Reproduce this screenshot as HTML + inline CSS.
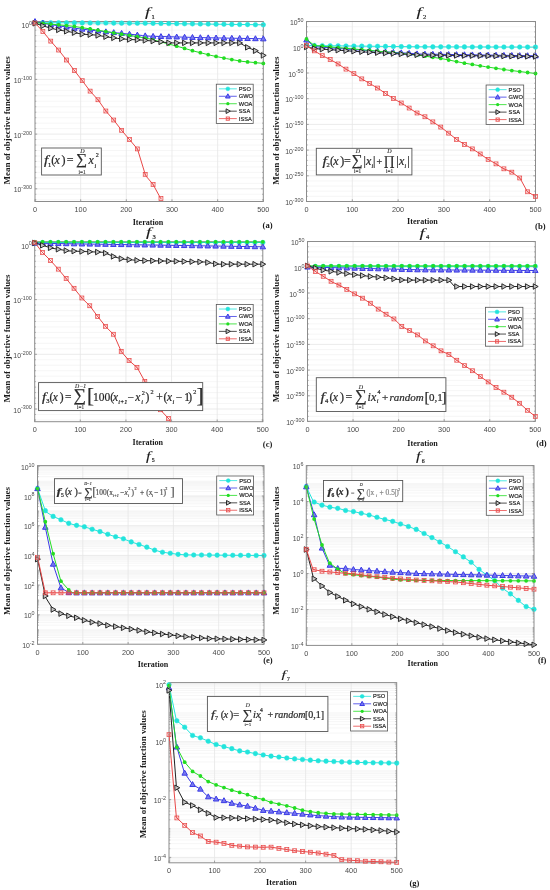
<!DOCTYPE html><html><head><meta charset="utf-8"><style>html,body{margin:0;padding:0;background:#fff;width:550px;height:890px;overflow:hidden}</style></head><body><svg width="550" height="890" viewBox="0 0 550 890" style="display:block;filter:blur(0.4px)">
<rect width="550" height="890" fill="#fff"/>
<clipPath id="ca"><rect x="35" y="21.5" width="228.3" height="180.0"/></clipPath>
<rect x="35" y="21.5" width="228.3" height="180.0" fill="#fff"/>
<line x1="35" x2="263.3" y1="199.74" y2="199.74" stroke="#f2f2f2" stroke-width="0.7"/>
<line x1="35" x2="263.3" y1="194.27" y2="194.27" stroke="#f2f2f2" stroke-width="0.7"/>
<line x1="35" x2="263.3" y1="183.33" y2="183.33" stroke="#f2f2f2" stroke-width="0.7"/>
<line x1="35" x2="263.3" y1="177.86" y2="177.86" stroke="#f2f2f2" stroke-width="0.7"/>
<line x1="35" x2="263.3" y1="172.39" y2="172.39" stroke="#f2f2f2" stroke-width="0.7"/>
<line x1="35" x2="263.3" y1="166.92" y2="166.92" stroke="#f2f2f2" stroke-width="0.7"/>
<line x1="35" x2="263.3" y1="161.45" y2="161.45" stroke="#f2f2f2" stroke-width="0.7"/>
<line x1="35" x2="263.3" y1="155.98" y2="155.98" stroke="#f2f2f2" stroke-width="0.7"/>
<line x1="35" x2="263.3" y1="150.51" y2="150.51" stroke="#f2f2f2" stroke-width="0.7"/>
<line x1="35" x2="263.3" y1="145.04" y2="145.04" stroke="#f2f2f2" stroke-width="0.7"/>
<line x1="35" x2="263.3" y1="139.57" y2="139.57" stroke="#f2f2f2" stroke-width="0.7"/>
<line x1="35" x2="263.3" y1="128.63" y2="128.63" stroke="#f2f2f2" stroke-width="0.7"/>
<line x1="35" x2="263.3" y1="123.16" y2="123.16" stroke="#f2f2f2" stroke-width="0.7"/>
<line x1="35" x2="263.3" y1="117.69" y2="117.69" stroke="#f2f2f2" stroke-width="0.7"/>
<line x1="35" x2="263.3" y1="112.22" y2="112.22" stroke="#f2f2f2" stroke-width="0.7"/>
<line x1="35" x2="263.3" y1="106.75" y2="106.75" stroke="#f2f2f2" stroke-width="0.7"/>
<line x1="35" x2="263.3" y1="101.28" y2="101.28" stroke="#f2f2f2" stroke-width="0.7"/>
<line x1="35" x2="263.3" y1="95.81" y2="95.81" stroke="#f2f2f2" stroke-width="0.7"/>
<line x1="35" x2="263.3" y1="90.34" y2="90.34" stroke="#f2f2f2" stroke-width="0.7"/>
<line x1="35" x2="263.3" y1="84.87" y2="84.87" stroke="#f2f2f2" stroke-width="0.7"/>
<line x1="35" x2="263.3" y1="73.93" y2="73.93" stroke="#f2f2f2" stroke-width="0.7"/>
<line x1="35" x2="263.3" y1="68.46" y2="68.46" stroke="#f2f2f2" stroke-width="0.7"/>
<line x1="35" x2="263.3" y1="62.99" y2="62.99" stroke="#f2f2f2" stroke-width="0.7"/>
<line x1="35" x2="263.3" y1="57.52" y2="57.52" stroke="#f2f2f2" stroke-width="0.7"/>
<line x1="35" x2="263.3" y1="52.05" y2="52.05" stroke="#f2f2f2" stroke-width="0.7"/>
<line x1="35" x2="263.3" y1="46.58" y2="46.58" stroke="#f2f2f2" stroke-width="0.7"/>
<line x1="35" x2="263.3" y1="41.11" y2="41.11" stroke="#f2f2f2" stroke-width="0.7"/>
<line x1="35" x2="263.3" y1="35.64" y2="35.64" stroke="#f2f2f2" stroke-width="0.7"/>
<line x1="35" x2="263.3" y1="30.17" y2="30.17" stroke="#f2f2f2" stroke-width="0.7"/>
<line x1="35" x2="263.3" y1="24.70" y2="24.70" stroke="#e6e6e6" stroke-width="0.8"/>
<line x1="35" x2="263.3" y1="79.40" y2="79.40" stroke="#e6e6e6" stroke-width="0.8"/>
<line x1="35" x2="263.3" y1="134.10" y2="134.10" stroke="#e6e6e6" stroke-width="0.8"/>
<line x1="35" x2="263.3" y1="188.80" y2="188.80" stroke="#e6e6e6" stroke-width="0.8"/>
<line x1="80.66" x2="80.66" y1="21.5" y2="201.5" stroke="#e6e6e6" stroke-width="0.8"/>
<line x1="126.32" x2="126.32" y1="21.5" y2="201.5" stroke="#e6e6e6" stroke-width="0.8"/>
<line x1="171.98" x2="171.98" y1="21.5" y2="201.5" stroke="#e6e6e6" stroke-width="0.8"/>
<line x1="217.64" x2="217.64" y1="21.5" y2="201.5" stroke="#e6e6e6" stroke-width="0.8"/>
<rect x="35" y="21.5" width="228.3" height="180.0" fill="none" stroke="#8c8c8c" stroke-width="1.0"/>
<path d="M35.00,22.60 L150.00,23.30 L263.30,24.80" fill="none" stroke="#22e4dc" stroke-width="1.0" stroke-linejoin="round" clip-path="url(#ca)"/>
<circle cx="35.00" cy="22.60" r="2.30" fill="#22e4dc" stroke="#22e4dc" stroke-width="0.5"/>
<circle cx="42.87" cy="22.65" r="2.30" fill="#22e4dc" stroke="#22e4dc" stroke-width="0.5"/>
<circle cx="50.74" cy="22.70" r="2.30" fill="#22e4dc" stroke="#22e4dc" stroke-width="0.5"/>
<circle cx="58.62" cy="22.74" r="2.30" fill="#22e4dc" stroke="#22e4dc" stroke-width="0.5"/>
<circle cx="66.49" cy="22.79" r="2.30" fill="#22e4dc" stroke="#22e4dc" stroke-width="0.5"/>
<circle cx="74.36" cy="22.84" r="2.30" fill="#22e4dc" stroke="#22e4dc" stroke-width="0.5"/>
<circle cx="82.23" cy="22.89" r="2.30" fill="#22e4dc" stroke="#22e4dc" stroke-width="0.5"/>
<circle cx="90.11" cy="22.94" r="2.30" fill="#22e4dc" stroke="#22e4dc" stroke-width="0.5"/>
<circle cx="97.98" cy="22.98" r="2.30" fill="#22e4dc" stroke="#22e4dc" stroke-width="0.5"/>
<circle cx="105.85" cy="23.03" r="2.30" fill="#22e4dc" stroke="#22e4dc" stroke-width="0.5"/>
<circle cx="113.72" cy="23.08" r="2.30" fill="#22e4dc" stroke="#22e4dc" stroke-width="0.5"/>
<circle cx="121.60" cy="23.13" r="2.30" fill="#22e4dc" stroke="#22e4dc" stroke-width="0.5"/>
<circle cx="129.47" cy="23.18" r="2.30" fill="#22e4dc" stroke="#22e4dc" stroke-width="0.5"/>
<circle cx="137.34" cy="23.22" r="2.30" fill="#22e4dc" stroke="#22e4dc" stroke-width="0.5"/>
<circle cx="145.21" cy="23.27" r="2.30" fill="#22e4dc" stroke="#22e4dc" stroke-width="0.5"/>
<circle cx="153.09" cy="23.34" r="2.30" fill="#22e4dc" stroke="#22e4dc" stroke-width="0.5"/>
<circle cx="160.96" cy="23.45" r="2.30" fill="#22e4dc" stroke="#22e4dc" stroke-width="0.5"/>
<circle cx="168.83" cy="23.55" r="2.30" fill="#22e4dc" stroke="#22e4dc" stroke-width="0.5"/>
<circle cx="176.70" cy="23.65" r="2.30" fill="#22e4dc" stroke="#22e4dc" stroke-width="0.5"/>
<circle cx="184.58" cy="23.76" r="2.30" fill="#22e4dc" stroke="#22e4dc" stroke-width="0.5"/>
<circle cx="192.45" cy="23.86" r="2.30" fill="#22e4dc" stroke="#22e4dc" stroke-width="0.5"/>
<circle cx="200.32" cy="23.97" r="2.30" fill="#22e4dc" stroke="#22e4dc" stroke-width="0.5"/>
<circle cx="208.19" cy="24.07" r="2.30" fill="#22e4dc" stroke="#22e4dc" stroke-width="0.5"/>
<circle cx="216.07" cy="24.17" r="2.30" fill="#22e4dc" stroke="#22e4dc" stroke-width="0.5"/>
<circle cx="223.94" cy="24.28" r="2.30" fill="#22e4dc" stroke="#22e4dc" stroke-width="0.5"/>
<circle cx="231.81" cy="24.38" r="2.30" fill="#22e4dc" stroke="#22e4dc" stroke-width="0.5"/>
<circle cx="239.68" cy="24.49" r="2.30" fill="#22e4dc" stroke="#22e4dc" stroke-width="0.5"/>
<circle cx="247.56" cy="24.59" r="2.30" fill="#22e4dc" stroke="#22e4dc" stroke-width="0.5"/>
<circle cx="255.43" cy="24.70" r="2.30" fill="#22e4dc" stroke="#22e4dc" stroke-width="0.5"/>
<circle cx="263.30" cy="24.80" r="2.30" fill="#22e4dc" stroke="#22e4dc" stroke-width="0.5"/>
<path d="M35.00,21.50 L51.80,24.80 L73.60,28.10 L95.50,30.70 L117.30,32.90 L142.40,35.50 L150.00,36.20 L200.00,37.60 L263.30,38.80" fill="none" stroke="#3a3ae6" stroke-width="1.0" stroke-linejoin="round" clip-path="url(#ca)"/>
<path d="M35.00,18.60L37.76,23.53L32.24,23.53Z" fill="#7878ee" stroke="#3a3ae6" stroke-width="1"/>
<path d="M42.87,20.15L45.63,25.08L40.12,25.08Z" fill="#7878ee" stroke="#3a3ae6" stroke-width="1"/>
<path d="M50.74,21.69L53.50,26.62L47.99,26.62Z" fill="#7878ee" stroke="#3a3ae6" stroke-width="1"/>
<path d="M58.62,22.93L61.37,27.86L55.86,27.86Z" fill="#7878ee" stroke="#3a3ae6" stroke-width="1"/>
<path d="M66.49,24.12L69.24,29.05L63.73,29.05Z" fill="#7878ee" stroke="#3a3ae6" stroke-width="1"/>
<path d="M74.36,25.29L77.12,30.22L71.61,30.22Z" fill="#7878ee" stroke="#3a3ae6" stroke-width="1"/>
<path d="M82.23,26.23L84.99,31.16L79.48,31.16Z" fill="#7878ee" stroke="#3a3ae6" stroke-width="1"/>
<path d="M90.11,27.16L92.86,32.09L87.35,32.09Z" fill="#7878ee" stroke="#3a3ae6" stroke-width="1"/>
<path d="M97.98,28.05L100.73,32.98L95.22,32.98Z" fill="#7878ee" stroke="#3a3ae6" stroke-width="1"/>
<path d="M105.85,28.84L108.61,33.77L103.10,33.77Z" fill="#7878ee" stroke="#3a3ae6" stroke-width="1"/>
<path d="M113.72,29.64L116.48,34.57L110.97,34.57Z" fill="#7878ee" stroke="#3a3ae6" stroke-width="1"/>
<path d="M121.60,30.45L124.35,35.38L118.84,35.38Z" fill="#7878ee" stroke="#3a3ae6" stroke-width="1"/>
<path d="M129.47,31.26L132.22,36.19L126.71,36.19Z" fill="#7878ee" stroke="#3a3ae6" stroke-width="1"/>
<path d="M137.34,32.08L140.10,37.01L134.59,37.01Z" fill="#7878ee" stroke="#3a3ae6" stroke-width="1"/>
<path d="M145.21,32.86L147.97,37.79L142.46,37.79Z" fill="#7878ee" stroke="#3a3ae6" stroke-width="1"/>
<path d="M153.09,33.39L155.84,38.32L150.33,38.32Z" fill="#7878ee" stroke="#3a3ae6" stroke-width="1"/>
<path d="M160.96,33.61L163.71,38.54L158.20,38.54Z" fill="#7878ee" stroke="#3a3ae6" stroke-width="1"/>
<path d="M168.83,33.83L171.59,38.76L166.08,38.76Z" fill="#7878ee" stroke="#3a3ae6" stroke-width="1"/>
<path d="M176.70,34.05L179.46,38.98L173.95,38.98Z" fill="#7878ee" stroke="#3a3ae6" stroke-width="1"/>
<path d="M184.58,34.27L187.33,39.20L181.82,39.20Z" fill="#7878ee" stroke="#3a3ae6" stroke-width="1"/>
<path d="M192.45,34.49L195.20,39.42L189.69,39.42Z" fill="#7878ee" stroke="#3a3ae6" stroke-width="1"/>
<path d="M200.32,34.71L203.08,39.64L197.57,39.64Z" fill="#7878ee" stroke="#3a3ae6" stroke-width="1"/>
<path d="M208.19,34.86L210.95,39.79L205.44,39.79Z" fill="#7878ee" stroke="#3a3ae6" stroke-width="1"/>
<path d="M216.07,35.00L218.82,39.93L213.31,39.93Z" fill="#7878ee" stroke="#3a3ae6" stroke-width="1"/>
<path d="M223.94,35.15L226.69,40.08L221.18,40.08Z" fill="#7878ee" stroke="#3a3ae6" stroke-width="1"/>
<path d="M231.81,35.30L234.57,40.23L229.06,40.23Z" fill="#7878ee" stroke="#3a3ae6" stroke-width="1"/>
<path d="M239.68,35.45L242.44,40.38L236.93,40.38Z" fill="#7878ee" stroke="#3a3ae6" stroke-width="1"/>
<path d="M247.56,35.60L250.31,40.53L244.80,40.53Z" fill="#7878ee" stroke="#3a3ae6" stroke-width="1"/>
<path d="M255.43,35.75L258.18,40.68L252.67,40.68Z" fill="#7878ee" stroke="#3a3ae6" stroke-width="1"/>
<path d="M263.30,35.90L266.06,40.83L260.55,40.83Z" fill="#7878ee" stroke="#3a3ae6" stroke-width="1"/>
<path d="M35.00,22.60 L51.80,24.20 L73.60,26.30 L95.50,29.80 L117.30,33.50 L142.40,37.50 L150.00,39.00 L176.20,46.00 L193.60,51.00 L211.00,55.40 L226.40,58.60 L241.60,61.30 L263.30,63.40" fill="none" stroke="#22dd22" stroke-width="1.0" stroke-linejoin="round" clip-path="url(#ca)"/>
<circle cx="35.00" cy="22.60" r="1.90" fill="#22dd22"/>
<circle cx="42.87" cy="23.35" r="1.90" fill="#22dd22"/>
<circle cx="50.74" cy="24.10" r="1.90" fill="#22dd22"/>
<circle cx="58.62" cy="24.86" r="1.90" fill="#22dd22"/>
<circle cx="66.49" cy="25.62" r="1.90" fill="#22dd22"/>
<circle cx="74.36" cy="26.42" r="1.90" fill="#22dd22"/>
<circle cx="82.23" cy="27.68" r="1.90" fill="#22dd22"/>
<circle cx="90.11" cy="28.94" r="1.90" fill="#22dd22"/>
<circle cx="97.98" cy="30.22" r="1.90" fill="#22dd22"/>
<circle cx="105.85" cy="31.56" r="1.90" fill="#22dd22"/>
<circle cx="113.72" cy="32.89" r="1.90" fill="#22dd22"/>
<circle cx="121.60" cy="34.18" r="1.90" fill="#22dd22"/>
<circle cx="129.47" cy="35.44" r="1.90" fill="#22dd22"/>
<circle cx="137.34" cy="36.69" r="1.90" fill="#22dd22"/>
<circle cx="145.21" cy="38.06" r="1.90" fill="#22dd22"/>
<circle cx="153.09" cy="39.82" r="1.90" fill="#22dd22"/>
<circle cx="160.96" cy="41.93" r="1.90" fill="#22dd22"/>
<circle cx="168.83" cy="44.03" r="1.90" fill="#22dd22"/>
<circle cx="176.70" cy="46.14" r="1.90" fill="#22dd22"/>
<circle cx="184.58" cy="48.41" r="1.90" fill="#22dd22"/>
<circle cx="192.45" cy="50.67" r="1.90" fill="#22dd22"/>
<circle cx="200.32" cy="52.70" r="1.90" fill="#22dd22"/>
<circle cx="208.19" cy="54.69" r="1.90" fill="#22dd22"/>
<circle cx="216.07" cy="56.45" r="1.90" fill="#22dd22"/>
<circle cx="223.94" cy="58.09" r="1.90" fill="#22dd22"/>
<circle cx="231.81" cy="59.56" r="1.90" fill="#22dd22"/>
<circle cx="239.68" cy="60.96" r="1.90" fill="#22dd22"/>
<circle cx="247.56" cy="61.88" r="1.90" fill="#22dd22"/>
<circle cx="255.43" cy="62.64" r="1.90" fill="#22dd22"/>
<circle cx="263.30" cy="63.40" r="1.90" fill="#22dd22"/>
<path d="M35.00,23.30 L43.10,25.90 L51.80,28.50 L60.50,30.30 L73.60,32.50 L82.40,34.20 L95.50,35.00 L106.40,36.80 L117.30,38.40 L128.20,39.40 L142.40,40.10 L158.70,41.60 L169.60,42.90 L239.50,42.90 L248.20,47.70 L254.70,50.30 L263.30,55.40" fill="none" stroke="#222222" stroke-width="1.0" stroke-linejoin="round" clip-path="url(#ca)"/>
<path d="M37.90,23.30L32.97,20.55L32.97,26.05Z" fill="#c4c4c4" stroke="#222222" stroke-width="0.95"/>
<path d="M45.77,25.83L40.84,23.07L40.84,28.58Z" fill="#c4c4c4" stroke="#222222" stroke-width="0.95"/>
<path d="M53.64,28.18L48.71,25.43L48.71,30.94Z" fill="#c4c4c4" stroke="#222222" stroke-width="0.95"/>
<path d="M61.52,29.91L56.59,27.16L56.59,32.67Z" fill="#c4c4c4" stroke="#222222" stroke-width="0.95"/>
<path d="M69.39,31.31L64.46,28.55L64.46,34.06Z" fill="#c4c4c4" stroke="#222222" stroke-width="0.95"/>
<path d="M77.26,32.65L72.33,29.89L72.33,35.40Z" fill="#c4c4c4" stroke="#222222" stroke-width="0.95"/>
<path d="M85.13,34.17L80.20,31.41L80.20,36.92Z" fill="#c4c4c4" stroke="#222222" stroke-width="0.95"/>
<path d="M93.01,34.67L88.08,31.92L88.08,37.43Z" fill="#c4c4c4" stroke="#222222" stroke-width="0.95"/>
<path d="M100.88,35.41L95.95,32.65L95.95,38.16Z" fill="#c4c4c4" stroke="#222222" stroke-width="0.95"/>
<path d="M108.75,36.71L103.82,33.95L103.82,39.46Z" fill="#c4c4c4" stroke="#222222" stroke-width="0.95"/>
<path d="M116.62,37.88L111.69,35.12L111.69,40.63Z" fill="#c4c4c4" stroke="#222222" stroke-width="0.95"/>
<path d="M124.50,38.79L119.57,36.04L119.57,41.55Z" fill="#c4c4c4" stroke="#222222" stroke-width="0.95"/>
<path d="M132.37,39.46L127.44,36.71L127.44,42.22Z" fill="#c4c4c4" stroke="#222222" stroke-width="0.95"/>
<path d="M140.24,39.85L135.31,37.10L135.31,42.61Z" fill="#c4c4c4" stroke="#222222" stroke-width="0.95"/>
<path d="M148.11,40.36L143.18,37.60L143.18,43.11Z" fill="#c4c4c4" stroke="#222222" stroke-width="0.95"/>
<path d="M155.99,41.08L151.06,38.33L151.06,43.84Z" fill="#c4c4c4" stroke="#222222" stroke-width="0.95"/>
<path d="M163.86,41.87L158.93,39.11L158.93,44.62Z" fill="#c4c4c4" stroke="#222222" stroke-width="0.95"/>
<path d="M171.73,42.81L166.80,40.05L166.80,45.56Z" fill="#c4c4c4" stroke="#222222" stroke-width="0.95"/>
<path d="M179.60,42.90L174.67,40.14L174.67,45.66Z" fill="#c4c4c4" stroke="#222222" stroke-width="0.95"/>
<path d="M187.48,42.90L182.55,40.14L182.55,45.66Z" fill="#c4c4c4" stroke="#222222" stroke-width="0.95"/>
<path d="M195.35,42.90L190.42,40.14L190.42,45.66Z" fill="#c4c4c4" stroke="#222222" stroke-width="0.95"/>
<path d="M203.22,42.90L198.29,40.14L198.29,45.66Z" fill="#c4c4c4" stroke="#222222" stroke-width="0.95"/>
<path d="M211.09,42.90L206.16,40.14L206.16,45.66Z" fill="#c4c4c4" stroke="#222222" stroke-width="0.95"/>
<path d="M218.97,42.90L214.04,40.14L214.04,45.66Z" fill="#c4c4c4" stroke="#222222" stroke-width="0.95"/>
<path d="M226.84,42.90L221.91,40.14L221.91,45.66Z" fill="#c4c4c4" stroke="#222222" stroke-width="0.95"/>
<path d="M234.71,42.90L229.78,40.14L229.78,45.66Z" fill="#c4c4c4" stroke="#222222" stroke-width="0.95"/>
<path d="M242.58,43.00L237.65,40.25L237.65,45.76Z" fill="#c4c4c4" stroke="#222222" stroke-width="0.95"/>
<path d="M250.46,47.34L245.53,44.59L245.53,50.10Z" fill="#c4c4c4" stroke="#222222" stroke-width="0.95"/>
<path d="M258.33,50.73L253.40,47.98L253.40,53.49Z" fill="#c4c4c4" stroke="#222222" stroke-width="0.95"/>
<path d="M266.20,55.40L261.27,52.64L261.27,58.16Z" fill="#c4c4c4" stroke="#222222" stroke-width="0.95"/>
<path d="M35.10,23.00 L43.10,31.70 L50.80,41.20 L59.10,50.60 L66.80,60.40 L73.60,69.50 L82.50,81.00 L90.00,91.00 L98.20,100.00 L105.90,111.10 L113.70,120.00 L121.60,130.30 L129.00,139.00 L137.50,149.10 L145.60,175.60 L153.00,184.30 L160.70,198.50" fill="none" stroke="#e84848" stroke-width="1.0" stroke-linejoin="round" clip-path="url(#ca)"/>
<rect x="33.05" y="21.05" width="3.90" height="3.90" fill="none" stroke="#e84848" stroke-width="0.75"/><path d="M33.05,21.05L36.95,24.95M36.95,21.05L33.05,24.95" stroke="#e84848" stroke-width="0.5"/>
<rect x="40.92" y="29.50" width="3.90" height="3.90" fill="none" stroke="#e84848" stroke-width="0.75"/><path d="M40.92,29.50L44.82,33.40M44.82,29.50L40.92,33.40" stroke="#e84848" stroke-width="0.5"/>
<rect x="48.79" y="39.18" width="3.90" height="3.90" fill="none" stroke="#e84848" stroke-width="0.75"/><path d="M48.79,39.18L52.69,43.08M52.69,39.18L48.79,43.08" stroke="#e84848" stroke-width="0.5"/>
<rect x="56.67" y="48.10" width="3.90" height="3.90" fill="none" stroke="#e84848" stroke-width="0.75"/><path d="M56.67,48.10L60.57,52.00M60.57,48.10L56.67,52.00" stroke="#e84848" stroke-width="0.5"/>
<rect x="64.54" y="58.06" width="3.90" height="3.90" fill="none" stroke="#e84848" stroke-width="0.75"/><path d="M64.54,58.06L68.44,61.96M68.44,58.06L64.54,61.96" stroke="#e84848" stroke-width="0.5"/>
<rect x="72.41" y="68.53" width="3.90" height="3.90" fill="none" stroke="#e84848" stroke-width="0.75"/><path d="M72.41,68.53L76.31,72.43M76.31,68.53L72.41,72.43" stroke="#e84848" stroke-width="0.5"/>
<rect x="80.28" y="78.71" width="3.90" height="3.90" fill="none" stroke="#e84848" stroke-width="0.75"/><path d="M80.28,78.71L84.18,82.61M84.18,78.71L80.28,82.61" stroke="#e84848" stroke-width="0.5"/>
<rect x="88.16" y="89.17" width="3.90" height="3.90" fill="none" stroke="#e84848" stroke-width="0.75"/><path d="M88.16,89.17L92.06,93.07M92.06,89.17L88.16,93.07" stroke="#e84848" stroke-width="0.5"/>
<rect x="96.03" y="97.81" width="3.90" height="3.90" fill="none" stroke="#e84848" stroke-width="0.75"/><path d="M96.03,97.81L99.93,101.71M99.93,97.81L96.03,101.71" stroke="#e84848" stroke-width="0.5"/>
<rect x="103.90" y="109.08" width="3.90" height="3.90" fill="none" stroke="#e84848" stroke-width="0.75"/><path d="M103.90,109.08L107.80,112.98M107.80,109.08L103.90,112.98" stroke="#e84848" stroke-width="0.5"/>
<rect x="111.77" y="118.08" width="3.90" height="3.90" fill="none" stroke="#e84848" stroke-width="0.75"/><path d="M111.77,118.08L115.67,121.98M115.67,118.08L111.77,121.98" stroke="#e84848" stroke-width="0.5"/>
<rect x="119.65" y="128.35" width="3.90" height="3.90" fill="none" stroke="#e84848" stroke-width="0.75"/><path d="M119.65,128.35L123.55,132.25M123.55,128.35L119.65,132.25" stroke="#e84848" stroke-width="0.5"/>
<rect x="127.52" y="137.61" width="3.90" height="3.90" fill="none" stroke="#e84848" stroke-width="0.75"/><path d="M127.52,137.61L131.42,141.51M131.42,137.61L127.52,141.51" stroke="#e84848" stroke-width="0.5"/>
<rect x="135.39" y="146.96" width="3.90" height="3.90" fill="none" stroke="#e84848" stroke-width="0.75"/><path d="M135.39,146.96L139.29,150.86M139.29,146.96L135.39,150.86" stroke="#e84848" stroke-width="0.5"/>
<rect x="143.26" y="172.39" width="3.90" height="3.90" fill="none" stroke="#e84848" stroke-width="0.75"/><path d="M143.26,172.39L147.16,176.29M147.16,172.39L143.26,176.29" stroke="#e84848" stroke-width="0.5"/>
<rect x="151.14" y="182.51" width="3.90" height="3.90" fill="none" stroke="#e84848" stroke-width="0.75"/><path d="M151.14,182.51L155.04,186.41M155.04,182.51L151.14,186.41" stroke="#e84848" stroke-width="0.5"/>
<rect x="159.01" y="196.55" width="3.90" height="3.90" fill="none" stroke="#e84848" stroke-width="0.75"/><path d="M159.01,196.55L162.91,200.45M162.91,196.55L159.01,200.45" stroke="#e84848" stroke-width="0.5"/>
<line x1="35" x2="36.3" y1="199.74" y2="199.74" stroke="#8c8c8c" stroke-width="0.6"/>
<line x1="263.3" x2="262.0" y1="199.74" y2="199.74" stroke="#8c8c8c" stroke-width="0.6"/>
<line x1="35" x2="36.3" y1="194.27" y2="194.27" stroke="#8c8c8c" stroke-width="0.6"/>
<line x1="263.3" x2="262.0" y1="194.27" y2="194.27" stroke="#8c8c8c" stroke-width="0.6"/>
<line x1="35" x2="36.3" y1="183.33" y2="183.33" stroke="#8c8c8c" stroke-width="0.6"/>
<line x1="263.3" x2="262.0" y1="183.33" y2="183.33" stroke="#8c8c8c" stroke-width="0.6"/>
<line x1="35" x2="36.3" y1="177.86" y2="177.86" stroke="#8c8c8c" stroke-width="0.6"/>
<line x1="263.3" x2="262.0" y1="177.86" y2="177.86" stroke="#8c8c8c" stroke-width="0.6"/>
<line x1="35" x2="36.3" y1="172.39" y2="172.39" stroke="#8c8c8c" stroke-width="0.6"/>
<line x1="263.3" x2="262.0" y1="172.39" y2="172.39" stroke="#8c8c8c" stroke-width="0.6"/>
<line x1="35" x2="36.3" y1="166.92" y2="166.92" stroke="#8c8c8c" stroke-width="0.6"/>
<line x1="263.3" x2="262.0" y1="166.92" y2="166.92" stroke="#8c8c8c" stroke-width="0.6"/>
<line x1="35" x2="36.3" y1="161.45" y2="161.45" stroke="#8c8c8c" stroke-width="0.6"/>
<line x1="263.3" x2="262.0" y1="161.45" y2="161.45" stroke="#8c8c8c" stroke-width="0.6"/>
<line x1="35" x2="36.3" y1="155.98" y2="155.98" stroke="#8c8c8c" stroke-width="0.6"/>
<line x1="263.3" x2="262.0" y1="155.98" y2="155.98" stroke="#8c8c8c" stroke-width="0.6"/>
<line x1="35" x2="36.3" y1="150.51" y2="150.51" stroke="#8c8c8c" stroke-width="0.6"/>
<line x1="263.3" x2="262.0" y1="150.51" y2="150.51" stroke="#8c8c8c" stroke-width="0.6"/>
<line x1="35" x2="36.3" y1="145.04" y2="145.04" stroke="#8c8c8c" stroke-width="0.6"/>
<line x1="263.3" x2="262.0" y1="145.04" y2="145.04" stroke="#8c8c8c" stroke-width="0.6"/>
<line x1="35" x2="36.3" y1="139.57" y2="139.57" stroke="#8c8c8c" stroke-width="0.6"/>
<line x1="263.3" x2="262.0" y1="139.57" y2="139.57" stroke="#8c8c8c" stroke-width="0.6"/>
<line x1="35" x2="36.3" y1="128.63" y2="128.63" stroke="#8c8c8c" stroke-width="0.6"/>
<line x1="263.3" x2="262.0" y1="128.63" y2="128.63" stroke="#8c8c8c" stroke-width="0.6"/>
<line x1="35" x2="36.3" y1="123.16" y2="123.16" stroke="#8c8c8c" stroke-width="0.6"/>
<line x1="263.3" x2="262.0" y1="123.16" y2="123.16" stroke="#8c8c8c" stroke-width="0.6"/>
<line x1="35" x2="36.3" y1="117.69" y2="117.69" stroke="#8c8c8c" stroke-width="0.6"/>
<line x1="263.3" x2="262.0" y1="117.69" y2="117.69" stroke="#8c8c8c" stroke-width="0.6"/>
<line x1="35" x2="36.3" y1="112.22" y2="112.22" stroke="#8c8c8c" stroke-width="0.6"/>
<line x1="263.3" x2="262.0" y1="112.22" y2="112.22" stroke="#8c8c8c" stroke-width="0.6"/>
<line x1="35" x2="36.3" y1="106.75" y2="106.75" stroke="#8c8c8c" stroke-width="0.6"/>
<line x1="263.3" x2="262.0" y1="106.75" y2="106.75" stroke="#8c8c8c" stroke-width="0.6"/>
<line x1="35" x2="36.3" y1="101.28" y2="101.28" stroke="#8c8c8c" stroke-width="0.6"/>
<line x1="263.3" x2="262.0" y1="101.28" y2="101.28" stroke="#8c8c8c" stroke-width="0.6"/>
<line x1="35" x2="36.3" y1="95.81" y2="95.81" stroke="#8c8c8c" stroke-width="0.6"/>
<line x1="263.3" x2="262.0" y1="95.81" y2="95.81" stroke="#8c8c8c" stroke-width="0.6"/>
<line x1="35" x2="36.3" y1="90.34" y2="90.34" stroke="#8c8c8c" stroke-width="0.6"/>
<line x1="263.3" x2="262.0" y1="90.34" y2="90.34" stroke="#8c8c8c" stroke-width="0.6"/>
<line x1="35" x2="36.3" y1="84.87" y2="84.87" stroke="#8c8c8c" stroke-width="0.6"/>
<line x1="263.3" x2="262.0" y1="84.87" y2="84.87" stroke="#8c8c8c" stroke-width="0.6"/>
<line x1="35" x2="36.3" y1="73.93" y2="73.93" stroke="#8c8c8c" stroke-width="0.6"/>
<line x1="263.3" x2="262.0" y1="73.93" y2="73.93" stroke="#8c8c8c" stroke-width="0.6"/>
<line x1="35" x2="36.3" y1="68.46" y2="68.46" stroke="#8c8c8c" stroke-width="0.6"/>
<line x1="263.3" x2="262.0" y1="68.46" y2="68.46" stroke="#8c8c8c" stroke-width="0.6"/>
<line x1="35" x2="36.3" y1="62.99" y2="62.99" stroke="#8c8c8c" stroke-width="0.6"/>
<line x1="263.3" x2="262.0" y1="62.99" y2="62.99" stroke="#8c8c8c" stroke-width="0.6"/>
<line x1="35" x2="36.3" y1="57.52" y2="57.52" stroke="#8c8c8c" stroke-width="0.6"/>
<line x1="263.3" x2="262.0" y1="57.52" y2="57.52" stroke="#8c8c8c" stroke-width="0.6"/>
<line x1="35" x2="36.3" y1="52.05" y2="52.05" stroke="#8c8c8c" stroke-width="0.6"/>
<line x1="263.3" x2="262.0" y1="52.05" y2="52.05" stroke="#8c8c8c" stroke-width="0.6"/>
<line x1="35" x2="36.3" y1="46.58" y2="46.58" stroke="#8c8c8c" stroke-width="0.6"/>
<line x1="263.3" x2="262.0" y1="46.58" y2="46.58" stroke="#8c8c8c" stroke-width="0.6"/>
<line x1="35" x2="36.3" y1="41.11" y2="41.11" stroke="#8c8c8c" stroke-width="0.6"/>
<line x1="263.3" x2="262.0" y1="41.11" y2="41.11" stroke="#8c8c8c" stroke-width="0.6"/>
<line x1="35" x2="36.3" y1="35.64" y2="35.64" stroke="#8c8c8c" stroke-width="0.6"/>
<line x1="263.3" x2="262.0" y1="35.64" y2="35.64" stroke="#8c8c8c" stroke-width="0.6"/>
<line x1="35" x2="36.3" y1="30.17" y2="30.17" stroke="#8c8c8c" stroke-width="0.6"/>
<line x1="263.3" x2="262.0" y1="30.17" y2="30.17" stroke="#8c8c8c" stroke-width="0.6"/>
<line x1="35" x2="37.2" y1="24.70" y2="24.70" stroke="#8c8c8c" stroke-width="0.8"/>
<line x1="263.3" x2="261.1" y1="24.70" y2="24.70" stroke="#8c8c8c" stroke-width="0.8"/>
<text x="32.10" y="28.30" text-anchor="end" font-family="Liberation Sans" font-size="6.9" fill="#4a4a4a">10<tspan dy="-3.2" font-size="5.4">0</tspan></text>
<line x1="35" x2="37.2" y1="79.40" y2="79.40" stroke="#8c8c8c" stroke-width="0.8"/>
<line x1="263.3" x2="261.1" y1="79.40" y2="79.40" stroke="#8c8c8c" stroke-width="0.8"/>
<text x="32.10" y="83.00" text-anchor="end" font-family="Liberation Sans" font-size="6.9" fill="#4a4a4a">10<tspan dy="-3.2" font-size="5.4">-100</tspan></text>
<line x1="35" x2="37.2" y1="134.10" y2="134.10" stroke="#8c8c8c" stroke-width="0.8"/>
<line x1="263.3" x2="261.1" y1="134.10" y2="134.10" stroke="#8c8c8c" stroke-width="0.8"/>
<text x="32.10" y="137.70" text-anchor="end" font-family="Liberation Sans" font-size="6.9" fill="#4a4a4a">10<tspan dy="-3.2" font-size="5.4">-200</tspan></text>
<line x1="35" x2="37.2" y1="188.80" y2="188.80" stroke="#8c8c8c" stroke-width="0.8"/>
<line x1="263.3" x2="261.1" y1="188.80" y2="188.80" stroke="#8c8c8c" stroke-width="0.8"/>
<text x="32.10" y="192.40" text-anchor="end" font-family="Liberation Sans" font-size="6.9" fill="#4a4a4a">10<tspan dy="-3.2" font-size="5.4">-300</tspan></text>
<line x1="35.00" x2="35.00" y1="201.5" y2="199.3" stroke="#8c8c8c" stroke-width="0.8"/>
<text x="35.00" y="211.90" text-anchor="middle" font-family="Liberation Sans" font-size="7.3" fill="#4a4a4a">0</text>
<line x1="80.66" x2="80.66" y1="201.5" y2="199.3" stroke="#8c8c8c" stroke-width="0.8"/>
<text x="80.66" y="211.90" text-anchor="middle" font-family="Liberation Sans" font-size="7.3" fill="#4a4a4a">100</text>
<line x1="126.32" x2="126.32" y1="201.5" y2="199.3" stroke="#8c8c8c" stroke-width="0.8"/>
<text x="126.32" y="211.90" text-anchor="middle" font-family="Liberation Sans" font-size="7.3" fill="#4a4a4a">200</text>
<line x1="171.98" x2="171.98" y1="201.5" y2="199.3" stroke="#8c8c8c" stroke-width="0.8"/>
<text x="171.98" y="211.90" text-anchor="middle" font-family="Liberation Sans" font-size="7.3" fill="#4a4a4a">300</text>
<line x1="217.64" x2="217.64" y1="201.5" y2="199.3" stroke="#8c8c8c" stroke-width="0.8"/>
<text x="217.64" y="211.90" text-anchor="middle" font-family="Liberation Sans" font-size="7.3" fill="#4a4a4a">400</text>
<line x1="263.30" x2="263.30" y1="201.5" y2="199.3" stroke="#8c8c8c" stroke-width="0.8"/>
<text x="263.30" y="211.90" text-anchor="middle" font-family="Liberation Sans" font-size="7.3" fill="#4a4a4a">500</text>
<text transform="translate(145,16) scale(1.45,1)" font-family="Liberation Serif" font-style="italic" font-size="13" fill="#1a1a1a" stroke="#1a1a1a" stroke-width="0.08">f</text><text x="151.50" y="18.8" font-family="Liberation Serif" font-size="6.50" fill="#1a1a1a" stroke="#1a1a1a" stroke-width="0.2">1</text>
<text transform="translate(6.7,120.4) rotate(-90)" text-anchor="middle" font-family="Liberation Serif" font-weight="bold" font-size="8.95" fill="#1a1a1a" dy="3">Mean of objective function values</text>
<text x="148" y="225.3" text-anchor="middle" font-family="Liberation Serif" font-weight="bold" font-size="8.1" fill="#1a1a1a">Iteration</text>
<text x="267.6" y="228.4" text-anchor="middle" font-family="Liberation Serif" font-weight="bold" font-size="8.6" fill="#1a1a1a">(a)</text>
<rect x="216.3" y="84.2" width="36.89999999999998" height="39.2" fill="#fff" stroke="#555" stroke-width="0.8"/>
<line x1="218.90" x2="236.80" y1="88.83" y2="88.83" stroke="#22e4dc" stroke-width="0.8"/>
<circle cx="227.85" cy="88.83" r="1.95" fill="#22e4dc" stroke="#22e4dc" stroke-width="0.5"/>
<text x="238.80" y="90.83" font-family="Liberation Sans" font-size="5.7" fill="#222" stroke="#222" stroke-width="0.18">PSO</text>
<line x1="218.90" x2="236.80" y1="96.27" y2="96.27" stroke="#3a3ae6" stroke-width="0.8"/>
<path d="M227.85,93.81L230.19,98.00L225.51,98.00Z" fill="#7878ee" stroke="#3a3ae6" stroke-width="1"/>
<text x="238.80" y="98.27" font-family="Liberation Sans" font-size="5.7" fill="#222" stroke="#222" stroke-width="0.18">GWO</text>
<line x1="218.90" x2="236.80" y1="103.72" y2="103.72" stroke="#22dd22" stroke-width="0.8"/>
<circle cx="227.85" cy="103.72" r="1.61" fill="#22dd22"/>
<text x="238.80" y="105.72" font-family="Liberation Sans" font-size="5.7" fill="#222" stroke="#222" stroke-width="0.18">WOA</text>
<line x1="218.90" x2="236.80" y1="111.17" y2="111.17" stroke="#222222" stroke-width="0.8"/>
<path d="M230.32,111.17L226.12,108.83L226.12,113.51Z" fill="#c4c4c4" stroke="#222222" stroke-width="0.95"/>
<text x="238.80" y="113.17" font-family="Liberation Sans" font-size="5.7" fill="#222" stroke="#222" stroke-width="0.18">SSA</text>
<line x1="218.90" x2="236.80" y1="118.62" y2="118.62" stroke="#e84848" stroke-width="0.8"/>
<rect x="226.19" y="116.96" width="3.31" height="3.31" fill="none" stroke="#e84848" stroke-width="0.75"/><path d="M226.19,116.96L229.51,120.28M229.51,116.96L226.19,120.28" stroke="#e84848" stroke-width="0.5"/>
<text x="238.80" y="120.62" font-family="Liberation Sans" font-size="5.7" fill="#222" stroke="#222" stroke-width="0.18">ISSA</text>
<rect x="41.6" y="148" width="59.699999999999996" height="27" fill="#fff" stroke="#555" stroke-width="0.9"/>
<text transform="translate(44.00,164.30) scale(1.3,1)" font-family="Liberation Serif" font-size="12" font-style="italic" fill="#2a2a2a" stroke="#2a2a2a" stroke-width="0.22">f</text><text x="48.00" y="166.50" font-family="Liberation Serif" font-size="6.5" fill="#2a2a2a" stroke="#2a2a2a" stroke-width="0.22">1</text><text x="51.30" y="164.30" font-family="Liberation Serif" font-size="12" fill="#2a2a2a" stroke="#2a2a2a" stroke-width="0.22">(</text><text x="54.40" y="164.30" font-family="Liberation Serif" font-size="12" font-style="italic" fill="#2a2a2a" stroke="#2a2a2a" stroke-width="0.22">x</text><text x="61.60" y="164.30" font-family="Liberation Serif" font-size="12" fill="#2a2a2a" stroke="#2a2a2a" stroke-width="0.22">)</text><text x="66.80" y="164.30" font-family="Liberation Serif" font-size="12" fill="#2a2a2a" stroke="#2a2a2a" stroke-width="0.22">=</text><text x="75.90" y="164.30" font-family="Liberation Serif" font-size="15.5" fill="#2a2a2a" stroke="#2a2a2a" stroke-width="0.22">∑</text><text x="82.50" y="152.50" font-family="Liberation Serif" font-size="6" font-style="italic" text-anchor="middle" fill="#2a2a2a" stroke="#2a2a2a" stroke-width="0.1">D</text><text x="82.00" y="173.70" font-family="Liberation Serif" font-size="5.2" text-anchor="middle" fill="#2a2a2a" stroke="#2a2a2a" stroke-width="0.1">i=1</text><text x="88.60" y="164.30" font-family="Liberation Serif" font-size="12" font-style="italic" fill="#2a2a2a" stroke="#2a2a2a" stroke-width="0.22">x</text><text x="95.80" y="157.10" font-family="Liberation Serif" font-size="6" fill="#2a2a2a" stroke="#2a2a2a" stroke-width="0.22">2</text><text x="94.60" y="167.50" font-family="Liberation Serif" font-size="6" font-style="italic" fill="#2a2a2a" stroke="#2a2a2a" stroke-width="0.22">i</text>
<clipPath id="cb"><rect x="306.5" y="21.5" width="229.0" height="180.0"/></clipPath>
<rect x="306.5" y="21.5" width="229.0" height="180.0" fill="#fff"/>
<line x1="306.5" x2="535.5" y1="196.36" y2="196.36" stroke="#f2f2f2" stroke-width="0.7"/>
<line x1="306.5" x2="535.5" y1="191.22" y2="191.22" stroke="#f2f2f2" stroke-width="0.7"/>
<line x1="306.5" x2="535.5" y1="186.08" y2="186.08" stroke="#f2f2f2" stroke-width="0.7"/>
<line x1="306.5" x2="535.5" y1="180.94" y2="180.94" stroke="#f2f2f2" stroke-width="0.7"/>
<line x1="306.5" x2="535.5" y1="170.66" y2="170.66" stroke="#f2f2f2" stroke-width="0.7"/>
<line x1="306.5" x2="535.5" y1="165.52" y2="165.52" stroke="#f2f2f2" stroke-width="0.7"/>
<line x1="306.5" x2="535.5" y1="160.38" y2="160.38" stroke="#f2f2f2" stroke-width="0.7"/>
<line x1="306.5" x2="535.5" y1="155.24" y2="155.24" stroke="#f2f2f2" stroke-width="0.7"/>
<line x1="306.5" x2="535.5" y1="144.96" y2="144.96" stroke="#f2f2f2" stroke-width="0.7"/>
<line x1="306.5" x2="535.5" y1="139.82" y2="139.82" stroke="#f2f2f2" stroke-width="0.7"/>
<line x1="306.5" x2="535.5" y1="134.68" y2="134.68" stroke="#f2f2f2" stroke-width="0.7"/>
<line x1="306.5" x2="535.5" y1="129.54" y2="129.54" stroke="#f2f2f2" stroke-width="0.7"/>
<line x1="306.5" x2="535.5" y1="119.26" y2="119.26" stroke="#f2f2f2" stroke-width="0.7"/>
<line x1="306.5" x2="535.5" y1="114.12" y2="114.12" stroke="#f2f2f2" stroke-width="0.7"/>
<line x1="306.5" x2="535.5" y1="108.98" y2="108.98" stroke="#f2f2f2" stroke-width="0.7"/>
<line x1="306.5" x2="535.5" y1="103.84" y2="103.84" stroke="#f2f2f2" stroke-width="0.7"/>
<line x1="306.5" x2="535.5" y1="93.56" y2="93.56" stroke="#f2f2f2" stroke-width="0.7"/>
<line x1="306.5" x2="535.5" y1="88.42" y2="88.42" stroke="#f2f2f2" stroke-width="0.7"/>
<line x1="306.5" x2="535.5" y1="83.28" y2="83.28" stroke="#f2f2f2" stroke-width="0.7"/>
<line x1="306.5" x2="535.5" y1="78.14" y2="78.14" stroke="#f2f2f2" stroke-width="0.7"/>
<line x1="306.5" x2="535.5" y1="67.86" y2="67.86" stroke="#f2f2f2" stroke-width="0.7"/>
<line x1="306.5" x2="535.5" y1="62.72" y2="62.72" stroke="#f2f2f2" stroke-width="0.7"/>
<line x1="306.5" x2="535.5" y1="57.58" y2="57.58" stroke="#f2f2f2" stroke-width="0.7"/>
<line x1="306.5" x2="535.5" y1="52.44" y2="52.44" stroke="#f2f2f2" stroke-width="0.7"/>
<line x1="306.5" x2="535.5" y1="42.16" y2="42.16" stroke="#f2f2f2" stroke-width="0.7"/>
<line x1="306.5" x2="535.5" y1="37.02" y2="37.02" stroke="#f2f2f2" stroke-width="0.7"/>
<line x1="306.5" x2="535.5" y1="31.88" y2="31.88" stroke="#f2f2f2" stroke-width="0.7"/>
<line x1="306.5" x2="535.5" y1="26.74" y2="26.74" stroke="#f2f2f2" stroke-width="0.7"/>
<line x1="306.5" x2="535.5" y1="47.30" y2="47.30" stroke="#e6e6e6" stroke-width="0.8"/>
<line x1="306.5" x2="535.5" y1="73.00" y2="73.00" stroke="#e6e6e6" stroke-width="0.8"/>
<line x1="306.5" x2="535.5" y1="98.70" y2="98.70" stroke="#e6e6e6" stroke-width="0.8"/>
<line x1="306.5" x2="535.5" y1="124.40" y2="124.40" stroke="#e6e6e6" stroke-width="0.8"/>
<line x1="306.5" x2="535.5" y1="150.10" y2="150.10" stroke="#e6e6e6" stroke-width="0.8"/>
<line x1="306.5" x2="535.5" y1="175.80" y2="175.80" stroke="#e6e6e6" stroke-width="0.8"/>
<line x1="352.30" x2="352.30" y1="21.5" y2="201.5" stroke="#e6e6e6" stroke-width="0.8"/>
<line x1="398.10" x2="398.10" y1="21.5" y2="201.5" stroke="#e6e6e6" stroke-width="0.8"/>
<line x1="443.90" x2="443.90" y1="21.5" y2="201.5" stroke="#e6e6e6" stroke-width="0.8"/>
<line x1="489.70" x2="489.70" y1="21.5" y2="201.5" stroke="#e6e6e6" stroke-width="0.8"/>
<rect x="306.5" y="21.5" width="229.0" height="180.0" fill="none" stroke="#8c8c8c" stroke-width="1.0"/>
<path d="M306.50,45.50 L420.00,46.80 L535.50,47.10" fill="none" stroke="#22e4dc" stroke-width="1.0" stroke-linejoin="round" clip-path="url(#cb)"/>
<circle cx="306.50" cy="45.50" r="2.30" fill="#22e4dc" stroke="#22e4dc" stroke-width="0.5"/>
<circle cx="314.40" cy="45.59" r="2.30" fill="#22e4dc" stroke="#22e4dc" stroke-width="0.5"/>
<circle cx="322.29" cy="45.68" r="2.30" fill="#22e4dc" stroke="#22e4dc" stroke-width="0.5"/>
<circle cx="330.19" cy="45.77" r="2.30" fill="#22e4dc" stroke="#22e4dc" stroke-width="0.5"/>
<circle cx="338.09" cy="45.86" r="2.30" fill="#22e4dc" stroke="#22e4dc" stroke-width="0.5"/>
<circle cx="345.98" cy="45.95" r="2.30" fill="#22e4dc" stroke="#22e4dc" stroke-width="0.5"/>
<circle cx="353.88" cy="46.04" r="2.30" fill="#22e4dc" stroke="#22e4dc" stroke-width="0.5"/>
<circle cx="361.78" cy="46.13" r="2.30" fill="#22e4dc" stroke="#22e4dc" stroke-width="0.5"/>
<circle cx="369.67" cy="46.22" r="2.30" fill="#22e4dc" stroke="#22e4dc" stroke-width="0.5"/>
<circle cx="377.57" cy="46.31" r="2.30" fill="#22e4dc" stroke="#22e4dc" stroke-width="0.5"/>
<circle cx="385.47" cy="46.40" r="2.30" fill="#22e4dc" stroke="#22e4dc" stroke-width="0.5"/>
<circle cx="393.36" cy="46.49" r="2.30" fill="#22e4dc" stroke="#22e4dc" stroke-width="0.5"/>
<circle cx="401.26" cy="46.59" r="2.30" fill="#22e4dc" stroke="#22e4dc" stroke-width="0.5"/>
<circle cx="409.16" cy="46.68" r="2.30" fill="#22e4dc" stroke="#22e4dc" stroke-width="0.5"/>
<circle cx="417.05" cy="46.77" r="2.30" fill="#22e4dc" stroke="#22e4dc" stroke-width="0.5"/>
<circle cx="424.95" cy="46.81" r="2.30" fill="#22e4dc" stroke="#22e4dc" stroke-width="0.5"/>
<circle cx="432.84" cy="46.83" r="2.30" fill="#22e4dc" stroke="#22e4dc" stroke-width="0.5"/>
<circle cx="440.74" cy="46.85" r="2.30" fill="#22e4dc" stroke="#22e4dc" stroke-width="0.5"/>
<circle cx="448.64" cy="46.87" r="2.30" fill="#22e4dc" stroke="#22e4dc" stroke-width="0.5"/>
<circle cx="456.53" cy="46.89" r="2.30" fill="#22e4dc" stroke="#22e4dc" stroke-width="0.5"/>
<circle cx="464.43" cy="46.92" r="2.30" fill="#22e4dc" stroke="#22e4dc" stroke-width="0.5"/>
<circle cx="472.33" cy="46.94" r="2.30" fill="#22e4dc" stroke="#22e4dc" stroke-width="0.5"/>
<circle cx="480.22" cy="46.96" r="2.30" fill="#22e4dc" stroke="#22e4dc" stroke-width="0.5"/>
<circle cx="488.12" cy="46.98" r="2.30" fill="#22e4dc" stroke="#22e4dc" stroke-width="0.5"/>
<circle cx="496.02" cy="47.00" r="2.30" fill="#22e4dc" stroke="#22e4dc" stroke-width="0.5"/>
<circle cx="503.91" cy="47.02" r="2.30" fill="#22e4dc" stroke="#22e4dc" stroke-width="0.5"/>
<circle cx="511.81" cy="47.04" r="2.30" fill="#22e4dc" stroke="#22e4dc" stroke-width="0.5"/>
<circle cx="519.71" cy="47.06" r="2.30" fill="#22e4dc" stroke="#22e4dc" stroke-width="0.5"/>
<circle cx="527.60" cy="47.08" r="2.30" fill="#22e4dc" stroke="#22e4dc" stroke-width="0.5"/>
<circle cx="535.50" cy="47.10" r="2.30" fill="#22e4dc" stroke="#22e4dc" stroke-width="0.5"/>
<path d="M306.50,40.00 L314.20,46.60 L365.50,50.50 L420.00,54.00 L535.50,55.80" fill="none" stroke="#3a3ae6" stroke-width="1.0" stroke-linejoin="round" clip-path="url(#cb)"/>
<path d="M306.50,37.10L309.25,42.03L303.75,42.03Z" fill="#7878ee" stroke="#3a3ae6" stroke-width="1"/>
<path d="M314.40,43.71L317.15,48.64L311.64,48.64Z" fill="#7878ee" stroke="#3a3ae6" stroke-width="1"/>
<path d="M322.29,44.32L325.05,49.25L319.54,49.25Z" fill="#7878ee" stroke="#3a3ae6" stroke-width="1"/>
<path d="M330.19,44.92L332.94,49.85L327.43,49.85Z" fill="#7878ee" stroke="#3a3ae6" stroke-width="1"/>
<path d="M338.09,45.52L340.84,50.45L335.33,50.45Z" fill="#7878ee" stroke="#3a3ae6" stroke-width="1"/>
<path d="M345.98,46.12L348.74,51.05L343.23,51.05Z" fill="#7878ee" stroke="#3a3ae6" stroke-width="1"/>
<path d="M353.88,46.72L356.63,51.65L351.12,51.65Z" fill="#7878ee" stroke="#3a3ae6" stroke-width="1"/>
<path d="M361.78,47.32L364.53,52.25L359.02,52.25Z" fill="#7878ee" stroke="#3a3ae6" stroke-width="1"/>
<path d="M369.67,47.87L372.43,52.80L366.92,52.80Z" fill="#7878ee" stroke="#3a3ae6" stroke-width="1"/>
<path d="M377.57,48.38L380.32,53.31L374.81,53.31Z" fill="#7878ee" stroke="#3a3ae6" stroke-width="1"/>
<path d="M385.47,48.88L388.22,53.81L382.71,53.81Z" fill="#7878ee" stroke="#3a3ae6" stroke-width="1"/>
<path d="M393.36,49.39L396.12,54.32L390.61,54.32Z" fill="#7878ee" stroke="#3a3ae6" stroke-width="1"/>
<path d="M401.26,49.90L404.01,54.83L398.50,54.83Z" fill="#7878ee" stroke="#3a3ae6" stroke-width="1"/>
<path d="M409.16,50.40L411.91,55.33L406.40,55.33Z" fill="#7878ee" stroke="#3a3ae6" stroke-width="1"/>
<path d="M417.05,50.91L419.81,55.84L414.30,55.84Z" fill="#7878ee" stroke="#3a3ae6" stroke-width="1"/>
<path d="M424.95,51.18L427.70,56.11L422.19,56.11Z" fill="#7878ee" stroke="#3a3ae6" stroke-width="1"/>
<path d="M432.84,51.30L435.60,56.23L430.09,56.23Z" fill="#7878ee" stroke="#3a3ae6" stroke-width="1"/>
<path d="M440.74,51.42L443.50,56.35L437.99,56.35Z" fill="#7878ee" stroke="#3a3ae6" stroke-width="1"/>
<path d="M448.64,51.55L451.39,56.48L445.88,56.48Z" fill="#7878ee" stroke="#3a3ae6" stroke-width="1"/>
<path d="M456.53,51.67L459.29,56.60L453.78,56.60Z" fill="#7878ee" stroke="#3a3ae6" stroke-width="1"/>
<path d="M464.43,51.79L467.19,56.72L461.68,56.72Z" fill="#7878ee" stroke="#3a3ae6" stroke-width="1"/>
<path d="M472.33,51.92L475.08,56.85L469.57,56.85Z" fill="#7878ee" stroke="#3a3ae6" stroke-width="1"/>
<path d="M480.22,52.04L482.98,56.97L477.47,56.97Z" fill="#7878ee" stroke="#3a3ae6" stroke-width="1"/>
<path d="M488.12,52.16L490.88,57.09L485.37,57.09Z" fill="#7878ee" stroke="#3a3ae6" stroke-width="1"/>
<path d="M496.02,52.28L498.77,57.21L493.26,57.21Z" fill="#7878ee" stroke="#3a3ae6" stroke-width="1"/>
<path d="M503.91,52.41L506.67,57.34L501.16,57.34Z" fill="#7878ee" stroke="#3a3ae6" stroke-width="1"/>
<path d="M511.81,52.53L514.57,57.46L509.06,57.46Z" fill="#7878ee" stroke="#3a3ae6" stroke-width="1"/>
<path d="M519.71,52.65L522.46,57.58L516.95,57.58Z" fill="#7878ee" stroke="#3a3ae6" stroke-width="1"/>
<path d="M527.60,52.78L530.36,57.71L524.85,57.71Z" fill="#7878ee" stroke="#3a3ae6" stroke-width="1"/>
<path d="M535.50,52.90L538.25,57.83L532.75,57.83Z" fill="#7878ee" stroke="#3a3ae6" stroke-width="1"/>
<path d="M306.50,39.00 L314.20,45.50 L365.50,50.00 L420.00,55.40 L441.80,58.60 L463.60,63.00 L485.50,66.70 L507.30,70.00 L535.50,73.50" fill="none" stroke="#22dd22" stroke-width="1.0" stroke-linejoin="round" clip-path="url(#cb)"/>
<circle cx="306.50" cy="39.00" r="1.90" fill="#22dd22"/>
<circle cx="314.40" cy="45.52" r="1.90" fill="#22dd22"/>
<circle cx="322.29" cy="46.21" r="1.90" fill="#22dd22"/>
<circle cx="330.19" cy="46.90" r="1.90" fill="#22dd22"/>
<circle cx="338.09" cy="47.60" r="1.90" fill="#22dd22"/>
<circle cx="345.98" cy="48.29" r="1.90" fill="#22dd22"/>
<circle cx="353.88" cy="48.98" r="1.90" fill="#22dd22"/>
<circle cx="361.78" cy="49.67" r="1.90" fill="#22dd22"/>
<circle cx="369.67" cy="50.41" r="1.90" fill="#22dd22"/>
<circle cx="377.57" cy="51.20" r="1.90" fill="#22dd22"/>
<circle cx="385.47" cy="51.98" r="1.90" fill="#22dd22"/>
<circle cx="393.36" cy="52.76" r="1.90" fill="#22dd22"/>
<circle cx="401.26" cy="53.54" r="1.90" fill="#22dd22"/>
<circle cx="409.16" cy="54.33" r="1.90" fill="#22dd22"/>
<circle cx="417.05" cy="55.11" r="1.90" fill="#22dd22"/>
<circle cx="424.95" cy="56.13" r="1.90" fill="#22dd22"/>
<circle cx="432.84" cy="57.29" r="1.90" fill="#22dd22"/>
<circle cx="440.74" cy="58.44" r="1.90" fill="#22dd22"/>
<circle cx="448.64" cy="59.98" r="1.90" fill="#22dd22"/>
<circle cx="456.53" cy="61.57" r="1.90" fill="#22dd22"/>
<circle cx="464.43" cy="63.14" r="1.90" fill="#22dd22"/>
<circle cx="472.33" cy="64.47" r="1.90" fill="#22dd22"/>
<circle cx="480.22" cy="65.81" r="1.90" fill="#22dd22"/>
<circle cx="488.12" cy="67.10" r="1.90" fill="#22dd22"/>
<circle cx="496.02" cy="68.29" r="1.90" fill="#22dd22"/>
<circle cx="503.91" cy="69.49" r="1.90" fill="#22dd22"/>
<circle cx="511.81" cy="70.56" r="1.90" fill="#22dd22"/>
<circle cx="519.71" cy="71.54" r="1.90" fill="#22dd22"/>
<circle cx="527.60" cy="72.52" r="1.90" fill="#22dd22"/>
<circle cx="535.50" cy="73.50" r="1.90" fill="#22dd22"/>
<path d="M306.50,47.00 L314.20,48.60 L365.50,52.00 L420.00,55.00 L535.50,56.50" fill="none" stroke="#222222" stroke-width="1.0" stroke-linejoin="round" clip-path="url(#cb)"/>
<path d="M309.40,47.00L304.47,44.24L304.47,49.76Z" fill="#c4c4c4" stroke="#222222" stroke-width="0.95"/>
<path d="M317.30,48.61L312.37,45.86L312.37,51.37Z" fill="#c4c4c4" stroke="#222222" stroke-width="0.95"/>
<path d="M325.19,49.14L320.26,46.38L320.26,51.89Z" fill="#c4c4c4" stroke="#222222" stroke-width="0.95"/>
<path d="M333.09,49.66L328.16,46.90L328.16,52.41Z" fill="#c4c4c4" stroke="#222222" stroke-width="0.95"/>
<path d="M340.99,50.18L336.06,47.43L336.06,52.94Z" fill="#c4c4c4" stroke="#222222" stroke-width="0.95"/>
<path d="M348.88,50.71L343.95,47.95L343.95,53.46Z" fill="#c4c4c4" stroke="#222222" stroke-width="0.95"/>
<path d="M356.78,51.23L351.85,48.47L351.85,53.98Z" fill="#c4c4c4" stroke="#222222" stroke-width="0.95"/>
<path d="M364.68,51.75L359.75,49.00L359.75,54.51Z" fill="#c4c4c4" stroke="#222222" stroke-width="0.95"/>
<path d="M372.57,52.23L367.64,49.47L367.64,54.98Z" fill="#c4c4c4" stroke="#222222" stroke-width="0.95"/>
<path d="M380.47,52.66L375.54,49.91L375.54,55.42Z" fill="#c4c4c4" stroke="#222222" stroke-width="0.95"/>
<path d="M388.37,53.10L383.44,50.34L383.44,55.85Z" fill="#c4c4c4" stroke="#222222" stroke-width="0.95"/>
<path d="M396.26,53.53L391.33,50.78L391.33,56.29Z" fill="#c4c4c4" stroke="#222222" stroke-width="0.95"/>
<path d="M404.16,53.97L399.23,51.21L399.23,56.72Z" fill="#c4c4c4" stroke="#222222" stroke-width="0.95"/>
<path d="M412.06,54.40L407.13,51.65L407.13,57.16Z" fill="#c4c4c4" stroke="#222222" stroke-width="0.95"/>
<path d="M419.95,54.84L415.02,52.08L415.02,57.59Z" fill="#c4c4c4" stroke="#222222" stroke-width="0.95"/>
<path d="M427.85,55.06L422.92,52.31L422.92,57.82Z" fill="#c4c4c4" stroke="#222222" stroke-width="0.95"/>
<path d="M435.74,55.17L430.81,52.41L430.81,57.92Z" fill="#c4c4c4" stroke="#222222" stroke-width="0.95"/>
<path d="M443.64,55.27L438.71,52.51L438.71,58.02Z" fill="#c4c4c4" stroke="#222222" stroke-width="0.95"/>
<path d="M451.54,55.37L446.61,52.62L446.61,58.13Z" fill="#c4c4c4" stroke="#222222" stroke-width="0.95"/>
<path d="M459.43,55.47L454.50,52.72L454.50,58.23Z" fill="#c4c4c4" stroke="#222222" stroke-width="0.95"/>
<path d="M467.33,55.58L462.40,52.82L462.40,58.33Z" fill="#c4c4c4" stroke="#222222" stroke-width="0.95"/>
<path d="M475.23,55.68L470.30,52.92L470.30,58.43Z" fill="#c4c4c4" stroke="#222222" stroke-width="0.95"/>
<path d="M483.12,55.78L478.19,53.03L478.19,58.54Z" fill="#c4c4c4" stroke="#222222" stroke-width="0.95"/>
<path d="M491.02,55.88L486.09,53.13L486.09,58.64Z" fill="#c4c4c4" stroke="#222222" stroke-width="0.95"/>
<path d="M498.92,55.99L493.99,53.23L493.99,58.74Z" fill="#c4c4c4" stroke="#222222" stroke-width="0.95"/>
<path d="M506.81,56.09L501.88,53.33L501.88,58.84Z" fill="#c4c4c4" stroke="#222222" stroke-width="0.95"/>
<path d="M514.71,56.19L509.78,53.44L509.78,58.95Z" fill="#c4c4c4" stroke="#222222" stroke-width="0.95"/>
<path d="M522.61,56.29L517.68,53.54L517.68,59.05Z" fill="#c4c4c4" stroke="#222222" stroke-width="0.95"/>
<path d="M530.50,56.40L525.57,53.64L525.57,59.15Z" fill="#c4c4c4" stroke="#222222" stroke-width="0.95"/>
<path d="M538.40,56.50L533.47,53.74L533.47,59.26Z" fill="#c4c4c4" stroke="#222222" stroke-width="0.95"/>
<path d="M306.50,45.50 L313.00,50.00 L321.80,55.40 L330.50,59.70 L338.20,64.00 L345.80,69.00 L354.50,74.00 L361.80,78.90 L369.80,83.60 L378.20,88.40 L385.50,93.50 L392.70,98.20 L401.10,102.90 L409.10,108.00 L416.40,112.70 L424.40,116.40 L432.70,121.80 L441.10,127.30 L449.10,133.50 L456.40,139.30 L464.40,144.40 L472.70,149.10 L480.00,153.80 L487.30,158.90 L495.60,163.60 L502.90,168.40 L511.60,172.00 L520.00,178.20 L527.30,191.60 L535.30,196.40" fill="none" stroke="#e84848" stroke-width="1.0" stroke-linejoin="round" clip-path="url(#cb)"/>
<rect x="304.55" y="43.55" width="3.90" height="3.90" fill="none" stroke="#e84848" stroke-width="0.75"/><path d="M304.55,43.55L308.45,47.45M308.45,43.55L304.55,47.45" stroke="#e84848" stroke-width="0.5"/>
<rect x="312.45" y="48.91" width="3.90" height="3.90" fill="none" stroke="#e84848" stroke-width="0.75"/><path d="M312.45,48.91L316.35,52.81M316.35,48.91L312.45,52.81" stroke="#e84848" stroke-width="0.5"/>
<rect x="320.34" y="53.69" width="3.90" height="3.90" fill="none" stroke="#e84848" stroke-width="0.75"/><path d="M320.34,53.69L324.24,57.59M324.24,53.69L320.34,57.59" stroke="#e84848" stroke-width="0.5"/>
<rect x="328.24" y="57.60" width="3.90" height="3.90" fill="none" stroke="#e84848" stroke-width="0.75"/><path d="M328.24,57.60L332.14,61.50M332.14,57.60L328.24,61.50" stroke="#e84848" stroke-width="0.5"/>
<rect x="336.14" y="61.99" width="3.90" height="3.90" fill="none" stroke="#e84848" stroke-width="0.75"/><path d="M336.14,61.99L340.04,65.89M340.04,61.99L336.14,65.89" stroke="#e84848" stroke-width="0.5"/>
<rect x="344.03" y="67.16" width="3.90" height="3.90" fill="none" stroke="#e84848" stroke-width="0.75"/><path d="M344.03,67.16L347.93,71.06M347.93,67.16L344.03,71.06" stroke="#e84848" stroke-width="0.5"/>
<rect x="351.93" y="71.69" width="3.90" height="3.90" fill="none" stroke="#e84848" stroke-width="0.75"/><path d="M351.93,71.69L355.83,75.59M355.83,71.69L351.93,75.59" stroke="#e84848" stroke-width="0.5"/>
<rect x="359.83" y="76.93" width="3.90" height="3.90" fill="none" stroke="#e84848" stroke-width="0.75"/><path d="M359.83,76.93L363.73,80.83M363.73,76.93L359.83,80.83" stroke="#e84848" stroke-width="0.5"/>
<rect x="367.72" y="81.58" width="3.90" height="3.90" fill="none" stroke="#e84848" stroke-width="0.75"/><path d="M367.72,81.58L371.62,85.48M371.62,81.58L367.72,85.48" stroke="#e84848" stroke-width="0.5"/>
<rect x="375.62" y="86.09" width="3.90" height="3.90" fill="none" stroke="#e84848" stroke-width="0.75"/><path d="M375.62,86.09L379.52,89.99M379.52,86.09L375.62,89.99" stroke="#e84848" stroke-width="0.5"/>
<rect x="383.52" y="91.53" width="3.90" height="3.90" fill="none" stroke="#e84848" stroke-width="0.75"/><path d="M383.52,91.53L387.42,95.43M387.42,91.53L383.52,95.43" stroke="#e84848" stroke-width="0.5"/>
<rect x="391.41" y="96.62" width="3.90" height="3.90" fill="none" stroke="#e84848" stroke-width="0.75"/><path d="M391.41,96.62L395.31,100.52M395.31,96.62L391.41,100.52" stroke="#e84848" stroke-width="0.5"/>
<rect x="399.31" y="101.05" width="3.90" height="3.90" fill="none" stroke="#e84848" stroke-width="0.75"/><path d="M399.31,101.05L403.21,104.95M403.21,101.05L399.31,104.95" stroke="#e84848" stroke-width="0.5"/>
<rect x="407.21" y="106.09" width="3.90" height="3.90" fill="none" stroke="#e84848" stroke-width="0.75"/><path d="M407.21,106.09L411.11,109.99M411.11,106.09L407.21,109.99" stroke="#e84848" stroke-width="0.5"/>
<rect x="415.10" y="111.05" width="3.90" height="3.90" fill="none" stroke="#e84848" stroke-width="0.75"/><path d="M415.10,111.05L419.00,114.95M419.00,111.05L415.10,114.95" stroke="#e84848" stroke-width="0.5"/>
<rect x="423.00" y="114.81" width="3.90" height="3.90" fill="none" stroke="#e84848" stroke-width="0.75"/><path d="M423.00,114.81L426.90,118.71M426.90,114.81L423.00,118.71" stroke="#e84848" stroke-width="0.5"/>
<rect x="430.89" y="119.94" width="3.90" height="3.90" fill="none" stroke="#e84848" stroke-width="0.75"/><path d="M430.89,119.94L434.79,123.84M434.79,119.94L430.89,123.84" stroke="#e84848" stroke-width="0.5"/>
<rect x="438.79" y="125.12" width="3.90" height="3.90" fill="none" stroke="#e84848" stroke-width="0.75"/><path d="M438.79,125.12L442.69,129.02M442.69,125.12L438.79,129.02" stroke="#e84848" stroke-width="0.5"/>
<rect x="446.69" y="131.19" width="3.90" height="3.90" fill="none" stroke="#e84848" stroke-width="0.75"/><path d="M446.69,131.19L450.59,135.09M450.59,131.19L446.69,135.09" stroke="#e84848" stroke-width="0.5"/>
<rect x="454.58" y="137.44" width="3.90" height="3.90" fill="none" stroke="#e84848" stroke-width="0.75"/><path d="M454.58,137.44L458.48,141.34M458.48,137.44L454.58,141.34" stroke="#e84848" stroke-width="0.5"/>
<rect x="462.48" y="142.47" width="3.90" height="3.90" fill="none" stroke="#e84848" stroke-width="0.75"/><path d="M462.48,142.47L466.38,146.37M466.38,142.47L462.48,146.37" stroke="#e84848" stroke-width="0.5"/>
<rect x="470.38" y="146.94" width="3.90" height="3.90" fill="none" stroke="#e84848" stroke-width="0.75"/><path d="M470.38,146.94L474.28,150.84M474.28,146.94L470.38,150.84" stroke="#e84848" stroke-width="0.5"/>
<rect x="478.27" y="152.01" width="3.90" height="3.90" fill="none" stroke="#e84848" stroke-width="0.75"/><path d="M478.27,152.01L482.17,155.91M482.17,152.01L478.27,155.91" stroke="#e84848" stroke-width="0.5"/>
<rect x="486.17" y="157.41" width="3.90" height="3.90" fill="none" stroke="#e84848" stroke-width="0.75"/><path d="M486.17,157.41L490.07,161.31M490.07,157.41L486.17,161.31" stroke="#e84848" stroke-width="0.5"/>
<rect x="494.07" y="161.92" width="3.90" height="3.90" fill="none" stroke="#e84848" stroke-width="0.75"/><path d="M494.07,161.92L497.97,165.82M497.97,161.92L494.07,165.82" stroke="#e84848" stroke-width="0.5"/>
<rect x="501.96" y="166.87" width="3.90" height="3.90" fill="none" stroke="#e84848" stroke-width="0.75"/><path d="M501.96,166.87L505.86,170.77M505.86,166.87L501.96,170.77" stroke="#e84848" stroke-width="0.5"/>
<rect x="509.86" y="170.21" width="3.90" height="3.90" fill="none" stroke="#e84848" stroke-width="0.75"/><path d="M509.86,170.21L513.76,174.11M513.76,170.21L509.86,174.11" stroke="#e84848" stroke-width="0.5"/>
<rect x="517.76" y="176.03" width="3.90" height="3.90" fill="none" stroke="#e84848" stroke-width="0.75"/><path d="M517.76,176.03L521.66,179.93M521.66,176.03L517.76,179.93" stroke="#e84848" stroke-width="0.5"/>
<rect x="525.65" y="189.83" width="3.90" height="3.90" fill="none" stroke="#e84848" stroke-width="0.75"/><path d="M525.65,189.83L529.55,193.73M529.55,189.83L525.65,193.73" stroke="#e84848" stroke-width="0.5"/>
<rect x="533.55" y="194.45" width="3.90" height="3.90" fill="none" stroke="#e84848" stroke-width="0.75"/><path d="M533.55,194.45L537.45,198.35M537.45,194.45L533.55,198.35" stroke="#e84848" stroke-width="0.5"/>
<line x1="306.5" x2="307.8" y1="196.36" y2="196.36" stroke="#8c8c8c" stroke-width="0.6"/>
<line x1="535.5" x2="534.2" y1="196.36" y2="196.36" stroke="#8c8c8c" stroke-width="0.6"/>
<line x1="306.5" x2="307.8" y1="191.22" y2="191.22" stroke="#8c8c8c" stroke-width="0.6"/>
<line x1="535.5" x2="534.2" y1="191.22" y2="191.22" stroke="#8c8c8c" stroke-width="0.6"/>
<line x1="306.5" x2="307.8" y1="186.08" y2="186.08" stroke="#8c8c8c" stroke-width="0.6"/>
<line x1="535.5" x2="534.2" y1="186.08" y2="186.08" stroke="#8c8c8c" stroke-width="0.6"/>
<line x1="306.5" x2="307.8" y1="180.94" y2="180.94" stroke="#8c8c8c" stroke-width="0.6"/>
<line x1="535.5" x2="534.2" y1="180.94" y2="180.94" stroke="#8c8c8c" stroke-width="0.6"/>
<line x1="306.5" x2="307.8" y1="170.66" y2="170.66" stroke="#8c8c8c" stroke-width="0.6"/>
<line x1="535.5" x2="534.2" y1="170.66" y2="170.66" stroke="#8c8c8c" stroke-width="0.6"/>
<line x1="306.5" x2="307.8" y1="165.52" y2="165.52" stroke="#8c8c8c" stroke-width="0.6"/>
<line x1="535.5" x2="534.2" y1="165.52" y2="165.52" stroke="#8c8c8c" stroke-width="0.6"/>
<line x1="306.5" x2="307.8" y1="160.38" y2="160.38" stroke="#8c8c8c" stroke-width="0.6"/>
<line x1="535.5" x2="534.2" y1="160.38" y2="160.38" stroke="#8c8c8c" stroke-width="0.6"/>
<line x1="306.5" x2="307.8" y1="155.24" y2="155.24" stroke="#8c8c8c" stroke-width="0.6"/>
<line x1="535.5" x2="534.2" y1="155.24" y2="155.24" stroke="#8c8c8c" stroke-width="0.6"/>
<line x1="306.5" x2="307.8" y1="144.96" y2="144.96" stroke="#8c8c8c" stroke-width="0.6"/>
<line x1="535.5" x2="534.2" y1="144.96" y2="144.96" stroke="#8c8c8c" stroke-width="0.6"/>
<line x1="306.5" x2="307.8" y1="139.82" y2="139.82" stroke="#8c8c8c" stroke-width="0.6"/>
<line x1="535.5" x2="534.2" y1="139.82" y2="139.82" stroke="#8c8c8c" stroke-width="0.6"/>
<line x1="306.5" x2="307.8" y1="134.68" y2="134.68" stroke="#8c8c8c" stroke-width="0.6"/>
<line x1="535.5" x2="534.2" y1="134.68" y2="134.68" stroke="#8c8c8c" stroke-width="0.6"/>
<line x1="306.5" x2="307.8" y1="129.54" y2="129.54" stroke="#8c8c8c" stroke-width="0.6"/>
<line x1="535.5" x2="534.2" y1="129.54" y2="129.54" stroke="#8c8c8c" stroke-width="0.6"/>
<line x1="306.5" x2="307.8" y1="119.26" y2="119.26" stroke="#8c8c8c" stroke-width="0.6"/>
<line x1="535.5" x2="534.2" y1="119.26" y2="119.26" stroke="#8c8c8c" stroke-width="0.6"/>
<line x1="306.5" x2="307.8" y1="114.12" y2="114.12" stroke="#8c8c8c" stroke-width="0.6"/>
<line x1="535.5" x2="534.2" y1="114.12" y2="114.12" stroke="#8c8c8c" stroke-width="0.6"/>
<line x1="306.5" x2="307.8" y1="108.98" y2="108.98" stroke="#8c8c8c" stroke-width="0.6"/>
<line x1="535.5" x2="534.2" y1="108.98" y2="108.98" stroke="#8c8c8c" stroke-width="0.6"/>
<line x1="306.5" x2="307.8" y1="103.84" y2="103.84" stroke="#8c8c8c" stroke-width="0.6"/>
<line x1="535.5" x2="534.2" y1="103.84" y2="103.84" stroke="#8c8c8c" stroke-width="0.6"/>
<line x1="306.5" x2="307.8" y1="93.56" y2="93.56" stroke="#8c8c8c" stroke-width="0.6"/>
<line x1="535.5" x2="534.2" y1="93.56" y2="93.56" stroke="#8c8c8c" stroke-width="0.6"/>
<line x1="306.5" x2="307.8" y1="88.42" y2="88.42" stroke="#8c8c8c" stroke-width="0.6"/>
<line x1="535.5" x2="534.2" y1="88.42" y2="88.42" stroke="#8c8c8c" stroke-width="0.6"/>
<line x1="306.5" x2="307.8" y1="83.28" y2="83.28" stroke="#8c8c8c" stroke-width="0.6"/>
<line x1="535.5" x2="534.2" y1="83.28" y2="83.28" stroke="#8c8c8c" stroke-width="0.6"/>
<line x1="306.5" x2="307.8" y1="78.14" y2="78.14" stroke="#8c8c8c" stroke-width="0.6"/>
<line x1="535.5" x2="534.2" y1="78.14" y2="78.14" stroke="#8c8c8c" stroke-width="0.6"/>
<line x1="306.5" x2="307.8" y1="67.86" y2="67.86" stroke="#8c8c8c" stroke-width="0.6"/>
<line x1="535.5" x2="534.2" y1="67.86" y2="67.86" stroke="#8c8c8c" stroke-width="0.6"/>
<line x1="306.5" x2="307.8" y1="62.72" y2="62.72" stroke="#8c8c8c" stroke-width="0.6"/>
<line x1="535.5" x2="534.2" y1="62.72" y2="62.72" stroke="#8c8c8c" stroke-width="0.6"/>
<line x1="306.5" x2="307.8" y1="57.58" y2="57.58" stroke="#8c8c8c" stroke-width="0.6"/>
<line x1="535.5" x2="534.2" y1="57.58" y2="57.58" stroke="#8c8c8c" stroke-width="0.6"/>
<line x1="306.5" x2="307.8" y1="52.44" y2="52.44" stroke="#8c8c8c" stroke-width="0.6"/>
<line x1="535.5" x2="534.2" y1="52.44" y2="52.44" stroke="#8c8c8c" stroke-width="0.6"/>
<line x1="306.5" x2="307.8" y1="42.16" y2="42.16" stroke="#8c8c8c" stroke-width="0.6"/>
<line x1="535.5" x2="534.2" y1="42.16" y2="42.16" stroke="#8c8c8c" stroke-width="0.6"/>
<line x1="306.5" x2="307.8" y1="37.02" y2="37.02" stroke="#8c8c8c" stroke-width="0.6"/>
<line x1="535.5" x2="534.2" y1="37.02" y2="37.02" stroke="#8c8c8c" stroke-width="0.6"/>
<line x1="306.5" x2="307.8" y1="31.88" y2="31.88" stroke="#8c8c8c" stroke-width="0.6"/>
<line x1="535.5" x2="534.2" y1="31.88" y2="31.88" stroke="#8c8c8c" stroke-width="0.6"/>
<line x1="306.5" x2="307.8" y1="26.74" y2="26.74" stroke="#8c8c8c" stroke-width="0.6"/>
<line x1="535.5" x2="534.2" y1="26.74" y2="26.74" stroke="#8c8c8c" stroke-width="0.6"/>
<line x1="306.5" x2="308.7" y1="21.60" y2="21.60" stroke="#8c8c8c" stroke-width="0.8"/>
<line x1="535.5" x2="533.3" y1="21.60" y2="21.60" stroke="#8c8c8c" stroke-width="0.8"/>
<text x="303.60" y="25.20" text-anchor="end" font-family="Liberation Sans" font-size="6.9" fill="#4a4a4a">10<tspan dy="-3.2" font-size="5.4">50</tspan></text>
<line x1="306.5" x2="308.7" y1="47.30" y2="47.30" stroke="#8c8c8c" stroke-width="0.8"/>
<line x1="535.5" x2="533.3" y1="47.30" y2="47.30" stroke="#8c8c8c" stroke-width="0.8"/>
<text x="303.60" y="50.90" text-anchor="end" font-family="Liberation Sans" font-size="6.9" fill="#4a4a4a">10<tspan dy="-3.2" font-size="5.4">0</tspan></text>
<line x1="306.5" x2="308.7" y1="73.00" y2="73.00" stroke="#8c8c8c" stroke-width="0.8"/>
<line x1="535.5" x2="533.3" y1="73.00" y2="73.00" stroke="#8c8c8c" stroke-width="0.8"/>
<text x="303.60" y="76.60" text-anchor="end" font-family="Liberation Sans" font-size="6.9" fill="#4a4a4a">10<tspan dy="-3.2" font-size="5.4">-50</tspan></text>
<line x1="306.5" x2="308.7" y1="98.70" y2="98.70" stroke="#8c8c8c" stroke-width="0.8"/>
<line x1="535.5" x2="533.3" y1="98.70" y2="98.70" stroke="#8c8c8c" stroke-width="0.8"/>
<text x="303.60" y="102.30" text-anchor="end" font-family="Liberation Sans" font-size="6.9" fill="#4a4a4a">10<tspan dy="-3.2" font-size="5.4">-100</tspan></text>
<line x1="306.5" x2="308.7" y1="124.40" y2="124.40" stroke="#8c8c8c" stroke-width="0.8"/>
<line x1="535.5" x2="533.3" y1="124.40" y2="124.40" stroke="#8c8c8c" stroke-width="0.8"/>
<text x="303.60" y="128.00" text-anchor="end" font-family="Liberation Sans" font-size="6.9" fill="#4a4a4a">10<tspan dy="-3.2" font-size="5.4">-150</tspan></text>
<line x1="306.5" x2="308.7" y1="150.10" y2="150.10" stroke="#8c8c8c" stroke-width="0.8"/>
<line x1="535.5" x2="533.3" y1="150.10" y2="150.10" stroke="#8c8c8c" stroke-width="0.8"/>
<text x="303.60" y="153.70" text-anchor="end" font-family="Liberation Sans" font-size="6.9" fill="#4a4a4a">10<tspan dy="-3.2" font-size="5.4">-200</tspan></text>
<line x1="306.5" x2="308.7" y1="175.80" y2="175.80" stroke="#8c8c8c" stroke-width="0.8"/>
<line x1="535.5" x2="533.3" y1="175.80" y2="175.80" stroke="#8c8c8c" stroke-width="0.8"/>
<text x="303.60" y="179.40" text-anchor="end" font-family="Liberation Sans" font-size="6.9" fill="#4a4a4a">10<tspan dy="-3.2" font-size="5.4">-250</tspan></text>
<line x1="306.5" x2="308.7" y1="201.50" y2="201.50" stroke="#8c8c8c" stroke-width="0.8"/>
<line x1="535.5" x2="533.3" y1="201.50" y2="201.50" stroke="#8c8c8c" stroke-width="0.8"/>
<text x="303.60" y="205.10" text-anchor="end" font-family="Liberation Sans" font-size="6.9" fill="#4a4a4a">10<tspan dy="-3.2" font-size="5.4">-300</tspan></text>
<line x1="306.50" x2="306.50" y1="201.5" y2="199.3" stroke="#8c8c8c" stroke-width="0.8"/>
<text x="306.50" y="211.90" text-anchor="middle" font-family="Liberation Sans" font-size="7.3" fill="#4a4a4a">0</text>
<line x1="352.30" x2="352.30" y1="201.5" y2="199.3" stroke="#8c8c8c" stroke-width="0.8"/>
<text x="352.30" y="211.90" text-anchor="middle" font-family="Liberation Sans" font-size="7.3" fill="#4a4a4a">100</text>
<line x1="398.10" x2="398.10" y1="201.5" y2="199.3" stroke="#8c8c8c" stroke-width="0.8"/>
<text x="398.10" y="211.90" text-anchor="middle" font-family="Liberation Sans" font-size="7.3" fill="#4a4a4a">200</text>
<line x1="443.90" x2="443.90" y1="201.5" y2="199.3" stroke="#8c8c8c" stroke-width="0.8"/>
<text x="443.90" y="211.90" text-anchor="middle" font-family="Liberation Sans" font-size="7.3" fill="#4a4a4a">300</text>
<line x1="489.70" x2="489.70" y1="201.5" y2="199.3" stroke="#8c8c8c" stroke-width="0.8"/>
<text x="489.70" y="211.90" text-anchor="middle" font-family="Liberation Sans" font-size="7.3" fill="#4a4a4a">400</text>
<line x1="535.50" x2="535.50" y1="201.5" y2="199.3" stroke="#8c8c8c" stroke-width="0.8"/>
<text x="535.50" y="211.90" text-anchor="middle" font-family="Liberation Sans" font-size="7.3" fill="#4a4a4a">500</text>
<text transform="translate(416.5,16) scale(1.45,1)" font-family="Liberation Serif" font-style="italic" font-size="13" fill="#1a1a1a" stroke="#1a1a1a" stroke-width="0.08">f</text><text x="423.00" y="18.8" font-family="Liberation Serif" font-size="6.50" fill="#1a1a1a" stroke="#1a1a1a" stroke-width="0.2">2</text>
<text transform="translate(276.1,120.6) rotate(-90)" text-anchor="middle" font-family="Liberation Serif" font-weight="bold" font-size="8.95" fill="#1a1a1a" dy="3">Mean of objective function values</text>
<text x="422.4" y="224.3" text-anchor="middle" font-family="Liberation Serif" font-weight="bold" font-size="8.1" fill="#1a1a1a">Iteration</text>
<text x="540.3" y="228.5" text-anchor="middle" font-family="Liberation Serif" font-weight="bold" font-size="8.6" fill="#1a1a1a">(b)</text>
<rect x="486.1" y="85" width="37.60000000000002" height="39.400000000000006" fill="#fff" stroke="#555" stroke-width="0.8"/>
<line x1="488.70" x2="506.60" y1="89.65" y2="89.65" stroke="#22e4dc" stroke-width="0.8"/>
<circle cx="497.65" cy="89.65" r="1.95" fill="#22e4dc" stroke="#22e4dc" stroke-width="0.5"/>
<text x="508.60" y="91.65" font-family="Liberation Sans" font-size="5.7" fill="#222" stroke="#222" stroke-width="0.18">PSO</text>
<line x1="488.70" x2="506.60" y1="97.14" y2="97.14" stroke="#3a3ae6" stroke-width="0.8"/>
<path d="M497.65,94.67L499.99,98.86L495.31,98.86Z" fill="#7878ee" stroke="#3a3ae6" stroke-width="1"/>
<text x="508.60" y="99.14" font-family="Liberation Sans" font-size="5.7" fill="#222" stroke="#222" stroke-width="0.18">GWO</text>
<line x1="488.70" x2="506.60" y1="104.62" y2="104.62" stroke="#22dd22" stroke-width="0.8"/>
<circle cx="497.65" cy="104.62" r="1.61" fill="#22dd22"/>
<text x="508.60" y="106.62" font-family="Liberation Sans" font-size="5.7" fill="#222" stroke="#222" stroke-width="0.18">WOA</text>
<line x1="488.70" x2="506.60" y1="112.11" y2="112.11" stroke="#222222" stroke-width="0.8"/>
<path d="M500.12,112.11L495.92,109.77L495.92,114.45Z" fill="#c4c4c4" stroke="#222222" stroke-width="0.95"/>
<text x="508.60" y="114.11" font-family="Liberation Sans" font-size="5.7" fill="#222" stroke="#222" stroke-width="0.18">SSA</text>
<line x1="488.70" x2="506.60" y1="119.59" y2="119.59" stroke="#e84848" stroke-width="0.8"/>
<rect x="495.99" y="117.94" width="3.31" height="3.31" fill="none" stroke="#e84848" stroke-width="0.75"/><path d="M495.99,117.94L499.31,121.25M499.31,117.94L495.99,121.25" stroke="#e84848" stroke-width="0.5"/>
<text x="508.60" y="121.59" font-family="Liberation Sans" font-size="5.7" fill="#222" stroke="#222" stroke-width="0.18">ISSA</text>
<rect x="316.3" y="148.3" width="95.59999999999997" height="26.599999999999994" fill="#fff" stroke="#555" stroke-width="0.9"/>
<text transform="translate(322.40,164.50) scale(1.3,1)" font-family="Liberation Serif" font-size="12" font-style="italic" fill="#2a2a2a" stroke="#2a2a2a" stroke-width="0.22">f</text><text x="326.60" y="166.70" font-family="Liberation Serif" font-size="6.5" fill="#2a2a2a" stroke="#2a2a2a" stroke-width="0.22">2</text><text x="330.00" y="164.50" font-family="Liberation Serif" font-size="12" fill="#2a2a2a" stroke="#2a2a2a" stroke-width="0.22">(</text><text x="333.20" y="164.50" font-family="Liberation Serif" font-size="12" font-style="italic" fill="#2a2a2a" stroke="#2a2a2a" stroke-width="0.22">x</text><text x="340.30" y="164.50" font-family="Liberation Serif" font-size="12" fill="#2a2a2a" stroke="#2a2a2a" stroke-width="0.22">)</text><text x="344.00" y="164.50" font-family="Liberation Serif" font-size="12" fill="#2a2a2a" stroke="#2a2a2a" stroke-width="0.22">=</text><text x="351.60" y="164.50" font-family="Liberation Serif" font-size="15.5" fill="#2a2a2a" stroke="#2a2a2a" stroke-width="0.22">∑</text><text x="358.00" y="152.70" font-family="Liberation Serif" font-size="6" font-style="italic" text-anchor="middle" fill="#2a2a2a" stroke="#2a2a2a" stroke-width="0.1">D</text><text x="357.50" y="173.10" font-family="Liberation Serif" font-size="5.2" text-anchor="middle" fill="#2a2a2a" stroke="#2a2a2a" stroke-width="0.1">i=1</text><text x="363.40" y="164.50" font-family="Liberation Serif" font-size="12" fill="#2a2a2a" stroke="#2a2a2a" stroke-width="0.22">|</text><text x="365.90" y="164.50" font-family="Liberation Serif" font-size="12" font-style="italic" fill="#2a2a2a" stroke="#2a2a2a" stroke-width="0.22">x</text><text x="371.40" y="167.70" font-family="Liberation Serif" font-size="6" font-style="italic" fill="#2a2a2a" stroke="#2a2a2a" stroke-width="0.22">i</text><text x="373.00" y="164.50" font-family="Liberation Serif" font-size="12" fill="#2a2a2a" stroke="#2a2a2a" stroke-width="0.22">|</text><text x="376.40" y="164.50" font-family="Liberation Serif" font-size="10" fill="#2a2a2a" stroke="#2a2a2a" stroke-width="0.22">+</text><text x="383.60" y="164.50" font-family="Liberation Serif" font-size="13.5" fill="#2a2a2a" stroke="#2a2a2a" stroke-width="0.22">∏</text><text x="389.50" y="152.70" font-family="Liberation Serif" font-size="6" font-style="italic" text-anchor="middle" fill="#2a2a2a" stroke="#2a2a2a" stroke-width="0.1">D</text><text x="389.50" y="173.10" font-family="Liberation Serif" font-size="5.2" text-anchor="middle" fill="#2a2a2a" stroke="#2a2a2a" stroke-width="0.1">i=1</text><text x="396.20" y="164.50" font-family="Liberation Serif" font-size="12" fill="#2a2a2a" stroke="#2a2a2a" stroke-width="0.22">|</text><text x="399.00" y="164.50" font-family="Liberation Serif" font-size="12" font-style="italic" fill="#2a2a2a" stroke="#2a2a2a" stroke-width="0.22">x</text><text x="404.60" y="167.70" font-family="Liberation Serif" font-size="6" font-style="italic" fill="#2a2a2a" stroke="#2a2a2a" stroke-width="0.22">i</text><text x="407.20" y="164.50" font-family="Liberation Serif" font-size="12" fill="#2a2a2a" stroke="#2a2a2a" stroke-width="0.22">|</text>
<clipPath id="cc"><rect x="34.7" y="241.7" width="228.10000000000002" height="180.0"/></clipPath>
<rect x="34.7" y="241.7" width="228.10000000000002" height="180.0" fill="#fff"/>
<line x1="34.7" x2="262.8" y1="419.94" y2="419.94" stroke="#f2f2f2" stroke-width="0.7"/>
<line x1="34.7" x2="262.8" y1="414.47" y2="414.47" stroke="#f2f2f2" stroke-width="0.7"/>
<line x1="34.7" x2="262.8" y1="403.53" y2="403.53" stroke="#f2f2f2" stroke-width="0.7"/>
<line x1="34.7" x2="262.8" y1="398.06" y2="398.06" stroke="#f2f2f2" stroke-width="0.7"/>
<line x1="34.7" x2="262.8" y1="392.59" y2="392.59" stroke="#f2f2f2" stroke-width="0.7"/>
<line x1="34.7" x2="262.8" y1="387.12" y2="387.12" stroke="#f2f2f2" stroke-width="0.7"/>
<line x1="34.7" x2="262.8" y1="381.65" y2="381.65" stroke="#f2f2f2" stroke-width="0.7"/>
<line x1="34.7" x2="262.8" y1="376.18" y2="376.18" stroke="#f2f2f2" stroke-width="0.7"/>
<line x1="34.7" x2="262.8" y1="370.71" y2="370.71" stroke="#f2f2f2" stroke-width="0.7"/>
<line x1="34.7" x2="262.8" y1="365.24" y2="365.24" stroke="#f2f2f2" stroke-width="0.7"/>
<line x1="34.7" x2="262.8" y1="359.77" y2="359.77" stroke="#f2f2f2" stroke-width="0.7"/>
<line x1="34.7" x2="262.8" y1="348.83" y2="348.83" stroke="#f2f2f2" stroke-width="0.7"/>
<line x1="34.7" x2="262.8" y1="343.36" y2="343.36" stroke="#f2f2f2" stroke-width="0.7"/>
<line x1="34.7" x2="262.8" y1="337.89" y2="337.89" stroke="#f2f2f2" stroke-width="0.7"/>
<line x1="34.7" x2="262.8" y1="332.42" y2="332.42" stroke="#f2f2f2" stroke-width="0.7"/>
<line x1="34.7" x2="262.8" y1="326.95" y2="326.95" stroke="#f2f2f2" stroke-width="0.7"/>
<line x1="34.7" x2="262.8" y1="321.48" y2="321.48" stroke="#f2f2f2" stroke-width="0.7"/>
<line x1="34.7" x2="262.8" y1="316.01" y2="316.01" stroke="#f2f2f2" stroke-width="0.7"/>
<line x1="34.7" x2="262.8" y1="310.54" y2="310.54" stroke="#f2f2f2" stroke-width="0.7"/>
<line x1="34.7" x2="262.8" y1="305.07" y2="305.07" stroke="#f2f2f2" stroke-width="0.7"/>
<line x1="34.7" x2="262.8" y1="294.13" y2="294.13" stroke="#f2f2f2" stroke-width="0.7"/>
<line x1="34.7" x2="262.8" y1="288.66" y2="288.66" stroke="#f2f2f2" stroke-width="0.7"/>
<line x1="34.7" x2="262.8" y1="283.19" y2="283.19" stroke="#f2f2f2" stroke-width="0.7"/>
<line x1="34.7" x2="262.8" y1="277.72" y2="277.72" stroke="#f2f2f2" stroke-width="0.7"/>
<line x1="34.7" x2="262.8" y1="272.25" y2="272.25" stroke="#f2f2f2" stroke-width="0.7"/>
<line x1="34.7" x2="262.8" y1="266.78" y2="266.78" stroke="#f2f2f2" stroke-width="0.7"/>
<line x1="34.7" x2="262.8" y1="261.31" y2="261.31" stroke="#f2f2f2" stroke-width="0.7"/>
<line x1="34.7" x2="262.8" y1="255.84" y2="255.84" stroke="#f2f2f2" stroke-width="0.7"/>
<line x1="34.7" x2="262.8" y1="250.37" y2="250.37" stroke="#f2f2f2" stroke-width="0.7"/>
<line x1="34.7" x2="262.8" y1="244.90" y2="244.90" stroke="#e6e6e6" stroke-width="0.8"/>
<line x1="34.7" x2="262.8" y1="299.60" y2="299.60" stroke="#e6e6e6" stroke-width="0.8"/>
<line x1="34.7" x2="262.8" y1="354.30" y2="354.30" stroke="#e6e6e6" stroke-width="0.8"/>
<line x1="34.7" x2="262.8" y1="409.00" y2="409.00" stroke="#e6e6e6" stroke-width="0.8"/>
<line x1="80.32" x2="80.32" y1="241.7" y2="421.7" stroke="#e6e6e6" stroke-width="0.8"/>
<line x1="125.94" x2="125.94" y1="241.7" y2="421.7" stroke="#e6e6e6" stroke-width="0.8"/>
<line x1="171.56" x2="171.56" y1="241.7" y2="421.7" stroke="#e6e6e6" stroke-width="0.8"/>
<line x1="217.18" x2="217.18" y1="241.7" y2="421.7" stroke="#e6e6e6" stroke-width="0.8"/>
<rect x="34.7" y="241.7" width="228.10000000000002" height="180.0" fill="none" stroke="#8c8c8c" stroke-width="1.0"/>
<path d="M34.70,242.50 L262.80,242.50" fill="none" stroke="#22e4dc" stroke-width="1.0" stroke-linejoin="round" clip-path="url(#cc)"/>
<circle cx="34.70" cy="242.50" r="2.30" fill="#22e4dc" stroke="#22e4dc" stroke-width="0.5"/>
<circle cx="42.57" cy="242.50" r="2.30" fill="#22e4dc" stroke="#22e4dc" stroke-width="0.5"/>
<circle cx="50.43" cy="242.50" r="2.30" fill="#22e4dc" stroke="#22e4dc" stroke-width="0.5"/>
<circle cx="58.30" cy="242.50" r="2.30" fill="#22e4dc" stroke="#22e4dc" stroke-width="0.5"/>
<circle cx="66.16" cy="242.50" r="2.30" fill="#22e4dc" stroke="#22e4dc" stroke-width="0.5"/>
<circle cx="74.03" cy="242.50" r="2.30" fill="#22e4dc" stroke="#22e4dc" stroke-width="0.5"/>
<circle cx="81.89" cy="242.50" r="2.30" fill="#22e4dc" stroke="#22e4dc" stroke-width="0.5"/>
<circle cx="89.76" cy="242.50" r="2.30" fill="#22e4dc" stroke="#22e4dc" stroke-width="0.5"/>
<circle cx="97.62" cy="242.50" r="2.30" fill="#22e4dc" stroke="#22e4dc" stroke-width="0.5"/>
<circle cx="105.49" cy="242.50" r="2.30" fill="#22e4dc" stroke="#22e4dc" stroke-width="0.5"/>
<circle cx="113.36" cy="242.50" r="2.30" fill="#22e4dc" stroke="#22e4dc" stroke-width="0.5"/>
<circle cx="121.22" cy="242.50" r="2.30" fill="#22e4dc" stroke="#22e4dc" stroke-width="0.5"/>
<circle cx="129.09" cy="242.50" r="2.30" fill="#22e4dc" stroke="#22e4dc" stroke-width="0.5"/>
<circle cx="136.95" cy="242.50" r="2.30" fill="#22e4dc" stroke="#22e4dc" stroke-width="0.5"/>
<circle cx="144.82" cy="242.50" r="2.30" fill="#22e4dc" stroke="#22e4dc" stroke-width="0.5"/>
<circle cx="152.68" cy="242.50" r="2.30" fill="#22e4dc" stroke="#22e4dc" stroke-width="0.5"/>
<circle cx="160.55" cy="242.50" r="2.30" fill="#22e4dc" stroke="#22e4dc" stroke-width="0.5"/>
<circle cx="168.41" cy="242.50" r="2.30" fill="#22e4dc" stroke="#22e4dc" stroke-width="0.5"/>
<circle cx="176.28" cy="242.50" r="2.30" fill="#22e4dc" stroke="#22e4dc" stroke-width="0.5"/>
<circle cx="184.14" cy="242.50" r="2.30" fill="#22e4dc" stroke="#22e4dc" stroke-width="0.5"/>
<circle cx="192.01" cy="242.50" r="2.30" fill="#22e4dc" stroke="#22e4dc" stroke-width="0.5"/>
<circle cx="199.88" cy="242.50" r="2.30" fill="#22e4dc" stroke="#22e4dc" stroke-width="0.5"/>
<circle cx="207.74" cy="242.50" r="2.30" fill="#22e4dc" stroke="#22e4dc" stroke-width="0.5"/>
<circle cx="215.61" cy="242.50" r="2.30" fill="#22e4dc" stroke="#22e4dc" stroke-width="0.5"/>
<circle cx="223.47" cy="242.50" r="2.30" fill="#22e4dc" stroke="#22e4dc" stroke-width="0.5"/>
<circle cx="231.34" cy="242.50" r="2.30" fill="#22e4dc" stroke="#22e4dc" stroke-width="0.5"/>
<circle cx="239.20" cy="242.50" r="2.30" fill="#22e4dc" stroke="#22e4dc" stroke-width="0.5"/>
<circle cx="247.07" cy="242.50" r="2.30" fill="#22e4dc" stroke="#22e4dc" stroke-width="0.5"/>
<circle cx="254.93" cy="242.50" r="2.30" fill="#22e4dc" stroke="#22e4dc" stroke-width="0.5"/>
<circle cx="262.80" cy="242.50" r="2.30" fill="#22e4dc" stroke="#22e4dc" stroke-width="0.5"/>
<path d="M34.70,243.20 L150.00,245.00 L262.80,246.80" fill="none" stroke="#3a3ae6" stroke-width="1.0" stroke-linejoin="round" clip-path="url(#cc)"/>
<path d="M34.70,240.30L37.46,245.23L31.95,245.23Z" fill="#7878ee" stroke="#3a3ae6" stroke-width="1"/>
<path d="M42.57,240.42L45.32,245.35L39.81,245.35Z" fill="#7878ee" stroke="#3a3ae6" stroke-width="1"/>
<path d="M50.43,240.55L53.19,245.48L47.68,245.48Z" fill="#7878ee" stroke="#3a3ae6" stroke-width="1"/>
<path d="M58.30,240.67L61.05,245.60L55.54,245.60Z" fill="#7878ee" stroke="#3a3ae6" stroke-width="1"/>
<path d="M66.16,240.79L68.92,245.72L63.41,245.72Z" fill="#7878ee" stroke="#3a3ae6" stroke-width="1"/>
<path d="M74.03,240.91L76.78,245.84L71.27,245.84Z" fill="#7878ee" stroke="#3a3ae6" stroke-width="1"/>
<path d="M81.89,241.04L84.65,245.97L79.14,245.97Z" fill="#7878ee" stroke="#3a3ae6" stroke-width="1"/>
<path d="M89.76,241.16L92.51,246.09L87.00,246.09Z" fill="#7878ee" stroke="#3a3ae6" stroke-width="1"/>
<path d="M97.62,241.28L100.38,246.21L94.87,246.21Z" fill="#7878ee" stroke="#3a3ae6" stroke-width="1"/>
<path d="M105.49,241.41L108.24,246.34L102.73,246.34Z" fill="#7878ee" stroke="#3a3ae6" stroke-width="1"/>
<path d="M113.36,241.53L116.11,246.46L110.60,246.46Z" fill="#7878ee" stroke="#3a3ae6" stroke-width="1"/>
<path d="M121.22,241.65L123.98,246.58L118.47,246.58Z" fill="#7878ee" stroke="#3a3ae6" stroke-width="1"/>
<path d="M129.09,241.77L131.84,246.70L126.33,246.70Z" fill="#7878ee" stroke="#3a3ae6" stroke-width="1"/>
<path d="M136.95,241.90L139.71,246.83L134.20,246.83Z" fill="#7878ee" stroke="#3a3ae6" stroke-width="1"/>
<path d="M144.82,242.02L147.57,246.95L142.06,246.95Z" fill="#7878ee" stroke="#3a3ae6" stroke-width="1"/>
<path d="M152.68,242.14L155.44,247.07L149.93,247.07Z" fill="#7878ee" stroke="#3a3ae6" stroke-width="1"/>
<path d="M160.55,242.27L163.30,247.20L157.79,247.20Z" fill="#7878ee" stroke="#3a3ae6" stroke-width="1"/>
<path d="M168.41,242.39L171.17,247.32L165.66,247.32Z" fill="#7878ee" stroke="#3a3ae6" stroke-width="1"/>
<path d="M176.28,242.52L179.03,247.45L173.52,247.45Z" fill="#7878ee" stroke="#3a3ae6" stroke-width="1"/>
<path d="M184.14,242.64L186.90,247.57L181.39,247.57Z" fill="#7878ee" stroke="#3a3ae6" stroke-width="1"/>
<path d="M192.01,242.77L194.77,247.70L189.26,247.70Z" fill="#7878ee" stroke="#3a3ae6" stroke-width="1"/>
<path d="M199.88,242.90L202.63,247.83L197.12,247.83Z" fill="#7878ee" stroke="#3a3ae6" stroke-width="1"/>
<path d="M207.74,243.02L210.50,247.95L204.99,247.95Z" fill="#7878ee" stroke="#3a3ae6" stroke-width="1"/>
<path d="M215.61,243.15L218.36,248.08L212.85,248.08Z" fill="#7878ee" stroke="#3a3ae6" stroke-width="1"/>
<path d="M223.47,243.27L226.23,248.20L220.72,248.20Z" fill="#7878ee" stroke="#3a3ae6" stroke-width="1"/>
<path d="M231.34,243.40L234.09,248.33L228.58,248.33Z" fill="#7878ee" stroke="#3a3ae6" stroke-width="1"/>
<path d="M239.20,243.52L241.96,248.45L236.45,248.45Z" fill="#7878ee" stroke="#3a3ae6" stroke-width="1"/>
<path d="M247.07,243.65L249.82,248.58L244.31,248.58Z" fill="#7878ee" stroke="#3a3ae6" stroke-width="1"/>
<path d="M254.93,243.77L257.69,248.70L252.18,248.70Z" fill="#7878ee" stroke="#3a3ae6" stroke-width="1"/>
<path d="M262.80,243.90L265.56,248.83L260.05,248.83Z" fill="#7878ee" stroke="#3a3ae6" stroke-width="1"/>
<path d="M34.70,241.80 L262.80,241.80" fill="none" stroke="#22dd22" stroke-width="1.0" stroke-linejoin="round" clip-path="url(#cc)"/>
<circle cx="34.70" cy="241.80" r="1.90" fill="#22dd22"/>
<circle cx="42.57" cy="241.80" r="1.90" fill="#22dd22"/>
<circle cx="50.43" cy="241.80" r="1.90" fill="#22dd22"/>
<circle cx="58.30" cy="241.80" r="1.90" fill="#22dd22"/>
<circle cx="66.16" cy="241.80" r="1.90" fill="#22dd22"/>
<circle cx="74.03" cy="241.80" r="1.90" fill="#22dd22"/>
<circle cx="81.89" cy="241.80" r="1.90" fill="#22dd22"/>
<circle cx="89.76" cy="241.80" r="1.90" fill="#22dd22"/>
<circle cx="97.62" cy="241.80" r="1.90" fill="#22dd22"/>
<circle cx="105.49" cy="241.80" r="1.90" fill="#22dd22"/>
<circle cx="113.36" cy="241.80" r="1.90" fill="#22dd22"/>
<circle cx="121.22" cy="241.80" r="1.90" fill="#22dd22"/>
<circle cx="129.09" cy="241.80" r="1.90" fill="#22dd22"/>
<circle cx="136.95" cy="241.80" r="1.90" fill="#22dd22"/>
<circle cx="144.82" cy="241.80" r="1.90" fill="#22dd22"/>
<circle cx="152.68" cy="241.80" r="1.90" fill="#22dd22"/>
<circle cx="160.55" cy="241.80" r="1.90" fill="#22dd22"/>
<circle cx="168.41" cy="241.80" r="1.90" fill="#22dd22"/>
<circle cx="176.28" cy="241.80" r="1.90" fill="#22dd22"/>
<circle cx="184.14" cy="241.80" r="1.90" fill="#22dd22"/>
<circle cx="192.01" cy="241.80" r="1.90" fill="#22dd22"/>
<circle cx="199.88" cy="241.80" r="1.90" fill="#22dd22"/>
<circle cx="207.74" cy="241.80" r="1.90" fill="#22dd22"/>
<circle cx="215.61" cy="241.80" r="1.90" fill="#22dd22"/>
<circle cx="223.47" cy="241.80" r="1.90" fill="#22dd22"/>
<circle cx="231.34" cy="241.80" r="1.90" fill="#22dd22"/>
<circle cx="239.20" cy="241.80" r="1.90" fill="#22dd22"/>
<circle cx="247.07" cy="241.80" r="1.90" fill="#22dd22"/>
<circle cx="254.93" cy="241.80" r="1.90" fill="#22dd22"/>
<circle cx="262.80" cy="241.80" r="1.90" fill="#22dd22"/>
<path d="M34.70,242.90 L51.80,248.20 L68.20,250.90 L103.60,252.30 L114.50,256.90 L122.70,259.10 L139.00,260.50 L177.30,261.30 L204.70,262.00 L217.70,264.20 L262.80,264.20" fill="none" stroke="#222222" stroke-width="1.0" stroke-linejoin="round" clip-path="url(#cc)"/>
<path d="M37.60,242.90L32.67,240.15L32.67,245.66Z" fill="#c4c4c4" stroke="#222222" stroke-width="0.95"/>
<path d="M45.47,245.34L40.54,242.58L40.54,248.09Z" fill="#c4c4c4" stroke="#222222" stroke-width="0.95"/>
<path d="M53.33,247.78L48.40,245.02L48.40,250.53Z" fill="#c4c4c4" stroke="#222222" stroke-width="0.95"/>
<path d="M61.20,249.27L56.27,246.51L56.27,252.02Z" fill="#c4c4c4" stroke="#222222" stroke-width="0.95"/>
<path d="M69.06,250.56L64.13,247.81L64.13,253.32Z" fill="#c4c4c4" stroke="#222222" stroke-width="0.95"/>
<path d="M76.93,251.13L72.00,248.38L72.00,253.89Z" fill="#c4c4c4" stroke="#222222" stroke-width="0.95"/>
<path d="M84.79,251.44L79.86,248.69L79.86,254.20Z" fill="#c4c4c4" stroke="#222222" stroke-width="0.95"/>
<path d="M92.66,251.75L87.73,249.00L87.73,254.51Z" fill="#c4c4c4" stroke="#222222" stroke-width="0.95"/>
<path d="M100.52,252.06L95.59,249.31L95.59,254.82Z" fill="#c4c4c4" stroke="#222222" stroke-width="0.95"/>
<path d="M108.39,253.10L103.46,250.34L103.46,255.85Z" fill="#c4c4c4" stroke="#222222" stroke-width="0.95"/>
<path d="M116.26,256.42L111.33,253.66L111.33,259.17Z" fill="#c4c4c4" stroke="#222222" stroke-width="0.95"/>
<path d="M124.12,258.70L119.19,255.95L119.19,261.46Z" fill="#c4c4c4" stroke="#222222" stroke-width="0.95"/>
<path d="M131.99,259.65L127.06,256.89L127.06,262.40Z" fill="#c4c4c4" stroke="#222222" stroke-width="0.95"/>
<path d="M139.85,260.32L134.92,257.57L134.92,263.08Z" fill="#c4c4c4" stroke="#222222" stroke-width="0.95"/>
<path d="M147.72,260.62L142.79,257.87L142.79,263.38Z" fill="#c4c4c4" stroke="#222222" stroke-width="0.95"/>
<path d="M155.58,260.79L150.65,258.03L150.65,263.54Z" fill="#c4c4c4" stroke="#222222" stroke-width="0.95"/>
<path d="M163.45,260.95L158.52,258.20L158.52,263.71Z" fill="#c4c4c4" stroke="#222222" stroke-width="0.95"/>
<path d="M171.31,261.11L166.38,258.36L166.38,263.87Z" fill="#c4c4c4" stroke="#222222" stroke-width="0.95"/>
<path d="M179.18,261.28L174.25,258.52L174.25,264.03Z" fill="#c4c4c4" stroke="#222222" stroke-width="0.95"/>
<path d="M187.04,261.47L182.11,258.72L182.11,264.23Z" fill="#c4c4c4" stroke="#222222" stroke-width="0.95"/>
<path d="M194.91,261.68L189.98,258.92L189.98,264.43Z" fill="#c4c4c4" stroke="#222222" stroke-width="0.95"/>
<path d="M202.78,261.88L197.85,259.12L197.85,264.63Z" fill="#c4c4c4" stroke="#222222" stroke-width="0.95"/>
<path d="M210.64,262.51L205.71,259.76L205.71,265.27Z" fill="#c4c4c4" stroke="#222222" stroke-width="0.95"/>
<path d="M218.51,263.85L213.58,261.09L213.58,266.60Z" fill="#c4c4c4" stroke="#222222" stroke-width="0.95"/>
<path d="M226.37,264.20L221.44,261.44L221.44,266.95Z" fill="#c4c4c4" stroke="#222222" stroke-width="0.95"/>
<path d="M234.24,264.20L229.31,261.44L229.31,266.95Z" fill="#c4c4c4" stroke="#222222" stroke-width="0.95"/>
<path d="M242.10,264.20L237.17,261.44L237.17,266.95Z" fill="#c4c4c4" stroke="#222222" stroke-width="0.95"/>
<path d="M249.97,264.20L245.04,261.44L245.04,266.95Z" fill="#c4c4c4" stroke="#222222" stroke-width="0.95"/>
<path d="M257.83,264.20L252.90,261.44L252.90,266.95Z" fill="#c4c4c4" stroke="#222222" stroke-width="0.95"/>
<path d="M265.70,264.20L260.77,261.44L260.77,266.95Z" fill="#c4c4c4" stroke="#222222" stroke-width="0.95"/>
<path d="M34.90,242.70 L42.30,252.30 L50.50,260.50 L58.60,269.50 L66.30,278.70 L74.20,288.50 L82.40,298.60 L90.00,306.00 L97.60,316.40 L105.80,326.70 L114.00,334.90 L121.40,351.80 L129.00,360.50 L137.20,367.60 L160.90,410.40 L169.10,419.20 L171.00,423.00" fill="none" stroke="#e84848" stroke-width="1.0" stroke-linejoin="round" clip-path="url(#cc)"/>
<rect x="32.75" y="240.75" width="3.90" height="3.90" fill="none" stroke="#e84848" stroke-width="0.75"/><path d="M32.75,240.75L36.65,244.65M36.65,240.75L32.75,244.65" stroke="#e84848" stroke-width="0.5"/>
<rect x="40.62" y="250.62" width="3.90" height="3.90" fill="none" stroke="#e84848" stroke-width="0.75"/><path d="M40.62,250.62L44.52,254.52M44.52,250.62L40.62,254.52" stroke="#e84848" stroke-width="0.5"/>
<rect x="48.48" y="258.48" width="3.90" height="3.90" fill="none" stroke="#e84848" stroke-width="0.75"/><path d="M48.48,258.48L52.38,262.38M52.38,258.48L48.48,262.38" stroke="#e84848" stroke-width="0.5"/>
<rect x="56.35" y="267.21" width="3.90" height="3.90" fill="none" stroke="#e84848" stroke-width="0.75"/><path d="M56.35,267.21L60.25,271.11M60.25,267.21L56.35,271.11" stroke="#e84848" stroke-width="0.5"/>
<rect x="64.21" y="276.59" width="3.90" height="3.90" fill="none" stroke="#e84848" stroke-width="0.75"/><path d="M64.21,276.59L68.11,280.49M68.11,276.59L64.21,280.49" stroke="#e84848" stroke-width="0.5"/>
<rect x="72.08" y="286.34" width="3.90" height="3.90" fill="none" stroke="#e84848" stroke-width="0.75"/><path d="M72.08,286.34L75.98,290.24M75.98,286.34L72.08,290.24" stroke="#e84848" stroke-width="0.5"/>
<rect x="79.94" y="296.03" width="3.90" height="3.90" fill="none" stroke="#e84848" stroke-width="0.75"/><path d="M79.94,296.03L83.84,299.93M83.84,296.03L79.94,299.93" stroke="#e84848" stroke-width="0.5"/>
<rect x="87.81" y="303.81" width="3.90" height="3.90" fill="none" stroke="#e84848" stroke-width="0.75"/><path d="M87.81,303.81L91.71,307.71M91.71,303.81L87.81,307.71" stroke="#e84848" stroke-width="0.5"/>
<rect x="95.67" y="314.48" width="3.90" height="3.90" fill="none" stroke="#e84848" stroke-width="0.75"/><path d="M95.67,314.48L99.57,318.38M99.57,314.48L95.67,318.38" stroke="#e84848" stroke-width="0.5"/>
<rect x="103.54" y="324.36" width="3.90" height="3.90" fill="none" stroke="#e84848" stroke-width="0.75"/><path d="M103.54,324.36L107.44,328.26M107.44,324.36L103.54,328.26" stroke="#e84848" stroke-width="0.5"/>
<rect x="111.41" y="332.31" width="3.90" height="3.90" fill="none" stroke="#e84848" stroke-width="0.75"/><path d="M111.41,332.31L115.31,336.21M115.31,332.31L111.41,336.21" stroke="#e84848" stroke-width="0.5"/>
<rect x="119.27" y="349.44" width="3.90" height="3.90" fill="none" stroke="#e84848" stroke-width="0.75"/><path d="M119.27,349.44L123.17,353.34M123.17,349.44L119.27,353.34" stroke="#e84848" stroke-width="0.5"/>
<rect x="127.14" y="358.62" width="3.90" height="3.90" fill="none" stroke="#e84848" stroke-width="0.75"/><path d="M127.14,358.62L131.04,362.52M131.04,358.62L127.14,362.52" stroke="#e84848" stroke-width="0.5"/>
<rect x="135.00" y="365.44" width="3.90" height="3.90" fill="none" stroke="#e84848" stroke-width="0.75"/><path d="M135.00,365.44L138.90,369.34M138.90,365.44L135.00,369.34" stroke="#e84848" stroke-width="0.5"/>
<rect x="142.87" y="379.41" width="3.90" height="3.90" fill="none" stroke="#e84848" stroke-width="0.75"/><path d="M142.87,379.41L146.77,383.31M146.77,379.41L142.87,383.31" stroke="#e84848" stroke-width="0.5"/>
<rect x="150.73" y="393.61" width="3.90" height="3.90" fill="none" stroke="#e84848" stroke-width="0.75"/><path d="M150.73,393.61L154.63,397.51M154.63,393.61L150.73,397.51" stroke="#e84848" stroke-width="0.5"/>
<rect x="158.60" y="407.81" width="3.90" height="3.90" fill="none" stroke="#e84848" stroke-width="0.75"/><path d="M158.60,407.81L162.50,411.71M162.50,407.81L158.60,411.71" stroke="#e84848" stroke-width="0.5"/>
<rect x="166.46" y="416.51" width="3.90" height="3.90" fill="none" stroke="#e84848" stroke-width="0.75"/><path d="M166.46,416.51L170.36,420.41M170.36,416.51L166.46,420.41" stroke="#e84848" stroke-width="0.5"/>
<line x1="34.7" x2="36.0" y1="419.94" y2="419.94" stroke="#8c8c8c" stroke-width="0.6"/>
<line x1="262.8" x2="261.5" y1="419.94" y2="419.94" stroke="#8c8c8c" stroke-width="0.6"/>
<line x1="34.7" x2="36.0" y1="414.47" y2="414.47" stroke="#8c8c8c" stroke-width="0.6"/>
<line x1="262.8" x2="261.5" y1="414.47" y2="414.47" stroke="#8c8c8c" stroke-width="0.6"/>
<line x1="34.7" x2="36.0" y1="403.53" y2="403.53" stroke="#8c8c8c" stroke-width="0.6"/>
<line x1="262.8" x2="261.5" y1="403.53" y2="403.53" stroke="#8c8c8c" stroke-width="0.6"/>
<line x1="34.7" x2="36.0" y1="398.06" y2="398.06" stroke="#8c8c8c" stroke-width="0.6"/>
<line x1="262.8" x2="261.5" y1="398.06" y2="398.06" stroke="#8c8c8c" stroke-width="0.6"/>
<line x1="34.7" x2="36.0" y1="392.59" y2="392.59" stroke="#8c8c8c" stroke-width="0.6"/>
<line x1="262.8" x2="261.5" y1="392.59" y2="392.59" stroke="#8c8c8c" stroke-width="0.6"/>
<line x1="34.7" x2="36.0" y1="387.12" y2="387.12" stroke="#8c8c8c" stroke-width="0.6"/>
<line x1="262.8" x2="261.5" y1="387.12" y2="387.12" stroke="#8c8c8c" stroke-width="0.6"/>
<line x1="34.7" x2="36.0" y1="381.65" y2="381.65" stroke="#8c8c8c" stroke-width="0.6"/>
<line x1="262.8" x2="261.5" y1="381.65" y2="381.65" stroke="#8c8c8c" stroke-width="0.6"/>
<line x1="34.7" x2="36.0" y1="376.18" y2="376.18" stroke="#8c8c8c" stroke-width="0.6"/>
<line x1="262.8" x2="261.5" y1="376.18" y2="376.18" stroke="#8c8c8c" stroke-width="0.6"/>
<line x1="34.7" x2="36.0" y1="370.71" y2="370.71" stroke="#8c8c8c" stroke-width="0.6"/>
<line x1="262.8" x2="261.5" y1="370.71" y2="370.71" stroke="#8c8c8c" stroke-width="0.6"/>
<line x1="34.7" x2="36.0" y1="365.24" y2="365.24" stroke="#8c8c8c" stroke-width="0.6"/>
<line x1="262.8" x2="261.5" y1="365.24" y2="365.24" stroke="#8c8c8c" stroke-width="0.6"/>
<line x1="34.7" x2="36.0" y1="359.77" y2="359.77" stroke="#8c8c8c" stroke-width="0.6"/>
<line x1="262.8" x2="261.5" y1="359.77" y2="359.77" stroke="#8c8c8c" stroke-width="0.6"/>
<line x1="34.7" x2="36.0" y1="348.83" y2="348.83" stroke="#8c8c8c" stroke-width="0.6"/>
<line x1="262.8" x2="261.5" y1="348.83" y2="348.83" stroke="#8c8c8c" stroke-width="0.6"/>
<line x1="34.7" x2="36.0" y1="343.36" y2="343.36" stroke="#8c8c8c" stroke-width="0.6"/>
<line x1="262.8" x2="261.5" y1="343.36" y2="343.36" stroke="#8c8c8c" stroke-width="0.6"/>
<line x1="34.7" x2="36.0" y1="337.89" y2="337.89" stroke="#8c8c8c" stroke-width="0.6"/>
<line x1="262.8" x2="261.5" y1="337.89" y2="337.89" stroke="#8c8c8c" stroke-width="0.6"/>
<line x1="34.7" x2="36.0" y1="332.42" y2="332.42" stroke="#8c8c8c" stroke-width="0.6"/>
<line x1="262.8" x2="261.5" y1="332.42" y2="332.42" stroke="#8c8c8c" stroke-width="0.6"/>
<line x1="34.7" x2="36.0" y1="326.95" y2="326.95" stroke="#8c8c8c" stroke-width="0.6"/>
<line x1="262.8" x2="261.5" y1="326.95" y2="326.95" stroke="#8c8c8c" stroke-width="0.6"/>
<line x1="34.7" x2="36.0" y1="321.48" y2="321.48" stroke="#8c8c8c" stroke-width="0.6"/>
<line x1="262.8" x2="261.5" y1="321.48" y2="321.48" stroke="#8c8c8c" stroke-width="0.6"/>
<line x1="34.7" x2="36.0" y1="316.01" y2="316.01" stroke="#8c8c8c" stroke-width="0.6"/>
<line x1="262.8" x2="261.5" y1="316.01" y2="316.01" stroke="#8c8c8c" stroke-width="0.6"/>
<line x1="34.7" x2="36.0" y1="310.54" y2="310.54" stroke="#8c8c8c" stroke-width="0.6"/>
<line x1="262.8" x2="261.5" y1="310.54" y2="310.54" stroke="#8c8c8c" stroke-width="0.6"/>
<line x1="34.7" x2="36.0" y1="305.07" y2="305.07" stroke="#8c8c8c" stroke-width="0.6"/>
<line x1="262.8" x2="261.5" y1="305.07" y2="305.07" stroke="#8c8c8c" stroke-width="0.6"/>
<line x1="34.7" x2="36.0" y1="294.13" y2="294.13" stroke="#8c8c8c" stroke-width="0.6"/>
<line x1="262.8" x2="261.5" y1="294.13" y2="294.13" stroke="#8c8c8c" stroke-width="0.6"/>
<line x1="34.7" x2="36.0" y1="288.66" y2="288.66" stroke="#8c8c8c" stroke-width="0.6"/>
<line x1="262.8" x2="261.5" y1="288.66" y2="288.66" stroke="#8c8c8c" stroke-width="0.6"/>
<line x1="34.7" x2="36.0" y1="283.19" y2="283.19" stroke="#8c8c8c" stroke-width="0.6"/>
<line x1="262.8" x2="261.5" y1="283.19" y2="283.19" stroke="#8c8c8c" stroke-width="0.6"/>
<line x1="34.7" x2="36.0" y1="277.72" y2="277.72" stroke="#8c8c8c" stroke-width="0.6"/>
<line x1="262.8" x2="261.5" y1="277.72" y2="277.72" stroke="#8c8c8c" stroke-width="0.6"/>
<line x1="34.7" x2="36.0" y1="272.25" y2="272.25" stroke="#8c8c8c" stroke-width="0.6"/>
<line x1="262.8" x2="261.5" y1="272.25" y2="272.25" stroke="#8c8c8c" stroke-width="0.6"/>
<line x1="34.7" x2="36.0" y1="266.78" y2="266.78" stroke="#8c8c8c" stroke-width="0.6"/>
<line x1="262.8" x2="261.5" y1="266.78" y2="266.78" stroke="#8c8c8c" stroke-width="0.6"/>
<line x1="34.7" x2="36.0" y1="261.31" y2="261.31" stroke="#8c8c8c" stroke-width="0.6"/>
<line x1="262.8" x2="261.5" y1="261.31" y2="261.31" stroke="#8c8c8c" stroke-width="0.6"/>
<line x1="34.7" x2="36.0" y1="255.84" y2="255.84" stroke="#8c8c8c" stroke-width="0.6"/>
<line x1="262.8" x2="261.5" y1="255.84" y2="255.84" stroke="#8c8c8c" stroke-width="0.6"/>
<line x1="34.7" x2="36.0" y1="250.37" y2="250.37" stroke="#8c8c8c" stroke-width="0.6"/>
<line x1="262.8" x2="261.5" y1="250.37" y2="250.37" stroke="#8c8c8c" stroke-width="0.6"/>
<line x1="34.7" x2="36.900000000000006" y1="244.90" y2="244.90" stroke="#8c8c8c" stroke-width="0.8"/>
<line x1="262.8" x2="260.6" y1="244.90" y2="244.90" stroke="#8c8c8c" stroke-width="0.8"/>
<text x="31.80" y="248.50" text-anchor="end" font-family="Liberation Sans" font-size="6.9" fill="#4a4a4a">10<tspan dy="-3.2" font-size="5.4">0</tspan></text>
<line x1="34.7" x2="36.900000000000006" y1="299.60" y2="299.60" stroke="#8c8c8c" stroke-width="0.8"/>
<line x1="262.8" x2="260.6" y1="299.60" y2="299.60" stroke="#8c8c8c" stroke-width="0.8"/>
<text x="31.80" y="303.20" text-anchor="end" font-family="Liberation Sans" font-size="6.9" fill="#4a4a4a">10<tspan dy="-3.2" font-size="5.4">-100</tspan></text>
<line x1="34.7" x2="36.900000000000006" y1="354.30" y2="354.30" stroke="#8c8c8c" stroke-width="0.8"/>
<line x1="262.8" x2="260.6" y1="354.30" y2="354.30" stroke="#8c8c8c" stroke-width="0.8"/>
<text x="31.80" y="357.90" text-anchor="end" font-family="Liberation Sans" font-size="6.9" fill="#4a4a4a">10<tspan dy="-3.2" font-size="5.4">-200</tspan></text>
<line x1="34.7" x2="36.900000000000006" y1="409.00" y2="409.00" stroke="#8c8c8c" stroke-width="0.8"/>
<line x1="262.8" x2="260.6" y1="409.00" y2="409.00" stroke="#8c8c8c" stroke-width="0.8"/>
<text x="31.80" y="412.60" text-anchor="end" font-family="Liberation Sans" font-size="6.9" fill="#4a4a4a">10<tspan dy="-3.2" font-size="5.4">-300</tspan></text>
<line x1="34.70" x2="34.70" y1="421.7" y2="419.5" stroke="#8c8c8c" stroke-width="0.8"/>
<text x="34.70" y="432.10" text-anchor="middle" font-family="Liberation Sans" font-size="7.3" fill="#4a4a4a">0</text>
<line x1="80.32" x2="80.32" y1="421.7" y2="419.5" stroke="#8c8c8c" stroke-width="0.8"/>
<text x="80.32" y="432.10" text-anchor="middle" font-family="Liberation Sans" font-size="7.3" fill="#4a4a4a">100</text>
<line x1="125.94" x2="125.94" y1="421.7" y2="419.5" stroke="#8c8c8c" stroke-width="0.8"/>
<text x="125.94" y="432.10" text-anchor="middle" font-family="Liberation Sans" font-size="7.3" fill="#4a4a4a">200</text>
<line x1="171.56" x2="171.56" y1="421.7" y2="419.5" stroke="#8c8c8c" stroke-width="0.8"/>
<text x="171.56" y="432.10" text-anchor="middle" font-family="Liberation Sans" font-size="7.3" fill="#4a4a4a">300</text>
<line x1="217.18" x2="217.18" y1="421.7" y2="419.5" stroke="#8c8c8c" stroke-width="0.8"/>
<text x="217.18" y="432.10" text-anchor="middle" font-family="Liberation Sans" font-size="7.3" fill="#4a4a4a">400</text>
<line x1="262.80" x2="262.80" y1="421.7" y2="419.5" stroke="#8c8c8c" stroke-width="0.8"/>
<text x="262.80" y="432.10" text-anchor="middle" font-family="Liberation Sans" font-size="7.3" fill="#4a4a4a">500</text>
<text transform="translate(146,236.3) scale(1.45,1)" font-family="Liberation Serif" font-style="italic" font-size="13" fill="#1a1a1a" stroke="#1a1a1a" stroke-width="0.08">f</text><text x="152.50" y="239.10000000000002" font-family="Liberation Serif" font-size="6.50" fill="#1a1a1a" stroke="#1a1a1a" stroke-width="0.2">3</text>
<text transform="translate(6.7,338.5) rotate(-90)" text-anchor="middle" font-family="Liberation Serif" font-weight="bold" font-size="8.95" fill="#1a1a1a" dy="3">Mean of objective function values</text>
<text x="147.8" y="445.40000000000003" text-anchor="middle" font-family="Liberation Serif" font-weight="bold" font-size="8.1" fill="#1a1a1a">Iteration</text>
<text x="267.6" y="446.6" text-anchor="middle" font-family="Liberation Serif" font-weight="bold" font-size="8.6" fill="#1a1a1a">(c)</text>
<rect x="216.3" y="304.4" width="36.89999999999998" height="39.200000000000045" fill="#fff" stroke="#555" stroke-width="0.8"/>
<line x1="218.90" x2="236.80" y1="309.03" y2="309.03" stroke="#22e4dc" stroke-width="0.8"/>
<circle cx="227.85" cy="309.03" r="1.95" fill="#22e4dc" stroke="#22e4dc" stroke-width="0.5"/>
<text x="238.80" y="311.03" font-family="Liberation Sans" font-size="5.7" fill="#222" stroke="#222" stroke-width="0.18">PSO</text>
<line x1="218.90" x2="236.80" y1="316.47" y2="316.47" stroke="#3a3ae6" stroke-width="0.8"/>
<path d="M227.85,314.01L230.19,318.20L225.51,318.20Z" fill="#7878ee" stroke="#3a3ae6" stroke-width="1"/>
<text x="238.80" y="318.47" font-family="Liberation Sans" font-size="5.7" fill="#222" stroke="#222" stroke-width="0.18">GWO</text>
<line x1="218.90" x2="236.80" y1="323.92" y2="323.92" stroke="#22dd22" stroke-width="0.8"/>
<circle cx="227.85" cy="323.92" r="1.61" fill="#22dd22"/>
<text x="238.80" y="325.92" font-family="Liberation Sans" font-size="5.7" fill="#222" stroke="#222" stroke-width="0.18">WOA</text>
<line x1="218.90" x2="236.80" y1="331.37" y2="331.37" stroke="#222222" stroke-width="0.8"/>
<path d="M230.32,331.37L226.12,329.03L226.12,333.71Z" fill="#c4c4c4" stroke="#222222" stroke-width="0.95"/>
<text x="238.80" y="333.37" font-family="Liberation Sans" font-size="5.7" fill="#222" stroke="#222" stroke-width="0.18">SSA</text>
<line x1="218.90" x2="236.80" y1="338.82" y2="338.82" stroke="#e84848" stroke-width="0.8"/>
<rect x="226.19" y="337.16" width="3.31" height="3.31" fill="none" stroke="#e84848" stroke-width="0.75"/><path d="M226.19,337.16L229.51,340.48M229.51,337.16L226.19,340.48" stroke="#e84848" stroke-width="0.5"/>
<text x="238.80" y="340.82" font-family="Liberation Sans" font-size="5.7" fill="#222" stroke="#222" stroke-width="0.18">ISSA</text>
<rect x="38.6" y="382.6" width="164.1" height="28.0" fill="#fff" stroke="#555" stroke-width="0.9"/>
<text transform="translate(42.00,400.90) scale(1.3,1)" font-family="Liberation Serif" font-size="11.5" font-style="italic" fill="#2a2a2a" stroke="#2a2a2a" stroke-width="0.22">f</text><text x="46.20" y="403.10" font-family="Liberation Serif" font-size="6.5" fill="#2a2a2a" stroke="#2a2a2a" stroke-width="0.22">3</text><text x="49.60" y="400.90" font-family="Liberation Serif" font-size="11.5" fill="#2a2a2a" stroke="#2a2a2a" stroke-width="0.22">(</text><text x="52.80" y="400.90" font-family="Liberation Serif" font-size="11.5" font-style="italic" fill="#2a2a2a" stroke="#2a2a2a" stroke-width="0.22">x</text><text x="59.80" y="400.90" font-family="Liberation Serif" font-size="11.5" fill="#2a2a2a" stroke="#2a2a2a" stroke-width="0.22">)</text><text x="64.90" y="400.90" font-family="Liberation Serif" font-size="11.5" fill="#2a2a2a" stroke="#2a2a2a" stroke-width="0.22">=</text><text x="73.60" y="400.90" font-family="Liberation Serif" font-size="17.5" fill="#2a2a2a" stroke="#2a2a2a" stroke-width="0.22">∑</text><text x="80.60" y="388.30" font-family="Liberation Serif" font-size="5.8" font-style="italic" text-anchor="middle" fill="#2a2a2a" stroke="#2a2a2a" stroke-width="0.1">D−1</text><text x="80.60" y="408.50" font-family="Liberation Serif" font-size="5.2" text-anchor="middle" fill="#2a2a2a" stroke="#2a2a2a" stroke-width="0.1">i=1</text><text x="87.00" y="402.40" font-family="Liberation Serif" font-size="21" fill="#2a2a2a" stroke="#2a2a2a" stroke-width="0.22">[</text><text x="93.00" y="400.90" font-family="Liberation Serif" font-size="11.5" fill="#2a2a2a" stroke="#2a2a2a" stroke-width="0.22">100(</text><text x="113.00" y="400.90" font-family="Liberation Serif" font-size="11.5" font-style="italic" fill="#2a2a2a" stroke="#2a2a2a" stroke-width="0.22">x</text><text x="118.30" y="403.50" font-family="Liberation Serif" font-size="6.2" font-style="italic" fill="#2a2a2a" stroke="#2a2a2a" stroke-width="0.22">i+1</text><text x="127.40" y="400.90" font-family="Liberation Serif" font-size="11.5" fill="#2a2a2a" stroke="#2a2a2a" stroke-width="0.22">−</text><text x="135.20" y="400.90" font-family="Liberation Serif" font-size="11.5" font-style="italic" fill="#2a2a2a" stroke="#2a2a2a" stroke-width="0.22">x</text><text x="141.80" y="394.90" font-family="Liberation Serif" font-size="6.2" fill="#2a2a2a" stroke="#2a2a2a" stroke-width="0.22">2</text><text x="141.20" y="403.50" font-family="Liberation Serif" font-size="6.2" font-style="italic" fill="#2a2a2a" stroke="#2a2a2a" stroke-width="0.22">i</text><text x="145.60" y="400.90" font-family="Liberation Serif" font-size="11.5" fill="#2a2a2a" stroke="#2a2a2a" stroke-width="0.22">)</text><text x="150.60" y="393.90" font-family="Liberation Serif" font-size="6.2" fill="#2a2a2a" stroke="#2a2a2a" stroke-width="0.22">2</text><text x="156.20" y="400.90" font-family="Liberation Serif" font-size="11.5" fill="#2a2a2a" stroke="#2a2a2a" stroke-width="0.22">+</text><text x="163.60" y="400.90" font-family="Liberation Serif" font-size="11.5" fill="#2a2a2a" stroke="#2a2a2a" stroke-width="0.22">(</text><text x="167.00" y="400.90" font-family="Liberation Serif" font-size="11.5" font-style="italic" fill="#2a2a2a" stroke="#2a2a2a" stroke-width="0.22">x</text><text x="172.60" y="403.50" font-family="Liberation Serif" font-size="6.2" font-style="italic" fill="#2a2a2a" stroke="#2a2a2a" stroke-width="0.22">i</text><text x="175.80" y="400.90" font-family="Liberation Serif" font-size="11.5" fill="#2a2a2a" stroke="#2a2a2a" stroke-width="0.22">−</text><text x="184.20" y="400.90" font-family="Liberation Serif" font-size="11.5" fill="#2a2a2a" stroke="#2a2a2a" stroke-width="0.22">1</text><text x="188.20" y="400.90" font-family="Liberation Serif" font-size="11.5" fill="#2a2a2a" stroke="#2a2a2a" stroke-width="0.22">)</text><text x="193.30" y="393.90" font-family="Liberation Serif" font-size="6.2" fill="#2a2a2a" stroke="#2a2a2a" stroke-width="0.22">2</text><text x="196.60" y="402.40" font-family="Liberation Serif" font-size="21" fill="#2a2a2a" stroke="#2a2a2a" stroke-width="0.22">]</text>
<clipPath id="cd"><rect x="307.5" y="241.5" width="227.79999999999995" height="179.8"/></clipPath>
<rect x="307.5" y="241.5" width="227.79999999999995" height="179.8" fill="#fff"/>
<line x1="307.5" x2="535.3" y1="416.36" y2="416.36" stroke="#f2f2f2" stroke-width="0.7"/>
<line x1="307.5" x2="535.3" y1="411.22" y2="411.22" stroke="#f2f2f2" stroke-width="0.7"/>
<line x1="307.5" x2="535.3" y1="406.08" y2="406.08" stroke="#f2f2f2" stroke-width="0.7"/>
<line x1="307.5" x2="535.3" y1="400.94" y2="400.94" stroke="#f2f2f2" stroke-width="0.7"/>
<line x1="307.5" x2="535.3" y1="390.66" y2="390.66" stroke="#f2f2f2" stroke-width="0.7"/>
<line x1="307.5" x2="535.3" y1="385.52" y2="385.52" stroke="#f2f2f2" stroke-width="0.7"/>
<line x1="307.5" x2="535.3" y1="380.38" y2="380.38" stroke="#f2f2f2" stroke-width="0.7"/>
<line x1="307.5" x2="535.3" y1="375.24" y2="375.24" stroke="#f2f2f2" stroke-width="0.7"/>
<line x1="307.5" x2="535.3" y1="364.96" y2="364.96" stroke="#f2f2f2" stroke-width="0.7"/>
<line x1="307.5" x2="535.3" y1="359.82" y2="359.82" stroke="#f2f2f2" stroke-width="0.7"/>
<line x1="307.5" x2="535.3" y1="354.68" y2="354.68" stroke="#f2f2f2" stroke-width="0.7"/>
<line x1="307.5" x2="535.3" y1="349.54" y2="349.54" stroke="#f2f2f2" stroke-width="0.7"/>
<line x1="307.5" x2="535.3" y1="339.26" y2="339.26" stroke="#f2f2f2" stroke-width="0.7"/>
<line x1="307.5" x2="535.3" y1="334.12" y2="334.12" stroke="#f2f2f2" stroke-width="0.7"/>
<line x1="307.5" x2="535.3" y1="328.98" y2="328.98" stroke="#f2f2f2" stroke-width="0.7"/>
<line x1="307.5" x2="535.3" y1="323.84" y2="323.84" stroke="#f2f2f2" stroke-width="0.7"/>
<line x1="307.5" x2="535.3" y1="313.56" y2="313.56" stroke="#f2f2f2" stroke-width="0.7"/>
<line x1="307.5" x2="535.3" y1="308.42" y2="308.42" stroke="#f2f2f2" stroke-width="0.7"/>
<line x1="307.5" x2="535.3" y1="303.28" y2="303.28" stroke="#f2f2f2" stroke-width="0.7"/>
<line x1="307.5" x2="535.3" y1="298.14" y2="298.14" stroke="#f2f2f2" stroke-width="0.7"/>
<line x1="307.5" x2="535.3" y1="287.86" y2="287.86" stroke="#f2f2f2" stroke-width="0.7"/>
<line x1="307.5" x2="535.3" y1="282.72" y2="282.72" stroke="#f2f2f2" stroke-width="0.7"/>
<line x1="307.5" x2="535.3" y1="277.58" y2="277.58" stroke="#f2f2f2" stroke-width="0.7"/>
<line x1="307.5" x2="535.3" y1="272.44" y2="272.44" stroke="#f2f2f2" stroke-width="0.7"/>
<line x1="307.5" x2="535.3" y1="262.16" y2="262.16" stroke="#f2f2f2" stroke-width="0.7"/>
<line x1="307.5" x2="535.3" y1="257.02" y2="257.02" stroke="#f2f2f2" stroke-width="0.7"/>
<line x1="307.5" x2="535.3" y1="251.88" y2="251.88" stroke="#f2f2f2" stroke-width="0.7"/>
<line x1="307.5" x2="535.3" y1="246.74" y2="246.74" stroke="#f2f2f2" stroke-width="0.7"/>
<line x1="307.5" x2="535.3" y1="267.30" y2="267.30" stroke="#e6e6e6" stroke-width="0.8"/>
<line x1="307.5" x2="535.3" y1="293.00" y2="293.00" stroke="#e6e6e6" stroke-width="0.8"/>
<line x1="307.5" x2="535.3" y1="318.70" y2="318.70" stroke="#e6e6e6" stroke-width="0.8"/>
<line x1="307.5" x2="535.3" y1="344.40" y2="344.40" stroke="#e6e6e6" stroke-width="0.8"/>
<line x1="307.5" x2="535.3" y1="370.10" y2="370.10" stroke="#e6e6e6" stroke-width="0.8"/>
<line x1="307.5" x2="535.3" y1="395.80" y2="395.80" stroke="#e6e6e6" stroke-width="0.8"/>
<line x1="353.06" x2="353.06" y1="241.5" y2="421.3" stroke="#e6e6e6" stroke-width="0.8"/>
<line x1="398.62" x2="398.62" y1="241.5" y2="421.3" stroke="#e6e6e6" stroke-width="0.8"/>
<line x1="444.18" x2="444.18" y1="241.5" y2="421.3" stroke="#e6e6e6" stroke-width="0.8"/>
<line x1="489.74" x2="489.74" y1="241.5" y2="421.3" stroke="#e6e6e6" stroke-width="0.8"/>
<rect x="307.5" y="241.5" width="227.79999999999995" height="179.8" fill="none" stroke="#8c8c8c" stroke-width="1.0"/>
<path d="M307.00,266.40 L535.30,266.40" fill="none" stroke="#22e4dc" stroke-width="1.0" stroke-linejoin="round" clip-path="url(#cd)"/>
<circle cx="307.50" cy="266.40" r="2.30" fill="#22e4dc" stroke="#22e4dc" stroke-width="0.5"/>
<circle cx="315.36" cy="266.40" r="2.30" fill="#22e4dc" stroke="#22e4dc" stroke-width="0.5"/>
<circle cx="323.21" cy="266.40" r="2.30" fill="#22e4dc" stroke="#22e4dc" stroke-width="0.5"/>
<circle cx="331.07" cy="266.40" r="2.30" fill="#22e4dc" stroke="#22e4dc" stroke-width="0.5"/>
<circle cx="338.92" cy="266.40" r="2.30" fill="#22e4dc" stroke="#22e4dc" stroke-width="0.5"/>
<circle cx="346.78" cy="266.40" r="2.30" fill="#22e4dc" stroke="#22e4dc" stroke-width="0.5"/>
<circle cx="354.63" cy="266.40" r="2.30" fill="#22e4dc" stroke="#22e4dc" stroke-width="0.5"/>
<circle cx="362.49" cy="266.40" r="2.30" fill="#22e4dc" stroke="#22e4dc" stroke-width="0.5"/>
<circle cx="370.34" cy="266.40" r="2.30" fill="#22e4dc" stroke="#22e4dc" stroke-width="0.5"/>
<circle cx="378.20" cy="266.40" r="2.30" fill="#22e4dc" stroke="#22e4dc" stroke-width="0.5"/>
<circle cx="386.05" cy="266.40" r="2.30" fill="#22e4dc" stroke="#22e4dc" stroke-width="0.5"/>
<circle cx="393.91" cy="266.40" r="2.30" fill="#22e4dc" stroke="#22e4dc" stroke-width="0.5"/>
<circle cx="401.76" cy="266.40" r="2.30" fill="#22e4dc" stroke="#22e4dc" stroke-width="0.5"/>
<circle cx="409.62" cy="266.40" r="2.30" fill="#22e4dc" stroke="#22e4dc" stroke-width="0.5"/>
<circle cx="417.47" cy="266.40" r="2.30" fill="#22e4dc" stroke="#22e4dc" stroke-width="0.5"/>
<circle cx="425.33" cy="266.40" r="2.30" fill="#22e4dc" stroke="#22e4dc" stroke-width="0.5"/>
<circle cx="433.18" cy="266.40" r="2.30" fill="#22e4dc" stroke="#22e4dc" stroke-width="0.5"/>
<circle cx="441.04" cy="266.40" r="2.30" fill="#22e4dc" stroke="#22e4dc" stroke-width="0.5"/>
<circle cx="448.89" cy="266.40" r="2.30" fill="#22e4dc" stroke="#22e4dc" stroke-width="0.5"/>
<circle cx="456.75" cy="266.40" r="2.30" fill="#22e4dc" stroke="#22e4dc" stroke-width="0.5"/>
<circle cx="464.60" cy="266.40" r="2.30" fill="#22e4dc" stroke="#22e4dc" stroke-width="0.5"/>
<circle cx="472.46" cy="266.40" r="2.30" fill="#22e4dc" stroke="#22e4dc" stroke-width="0.5"/>
<circle cx="480.31" cy="266.40" r="2.30" fill="#22e4dc" stroke="#22e4dc" stroke-width="0.5"/>
<circle cx="488.17" cy="266.40" r="2.30" fill="#22e4dc" stroke="#22e4dc" stroke-width="0.5"/>
<circle cx="496.02" cy="266.40" r="2.30" fill="#22e4dc" stroke="#22e4dc" stroke-width="0.5"/>
<circle cx="503.88" cy="266.40" r="2.30" fill="#22e4dc" stroke="#22e4dc" stroke-width="0.5"/>
<circle cx="511.73" cy="266.40" r="2.30" fill="#22e4dc" stroke="#22e4dc" stroke-width="0.5"/>
<circle cx="519.59" cy="266.40" r="2.30" fill="#22e4dc" stroke="#22e4dc" stroke-width="0.5"/>
<circle cx="527.44" cy="266.40" r="2.30" fill="#22e4dc" stroke="#22e4dc" stroke-width="0.5"/>
<circle cx="535.30" cy="266.40" r="2.30" fill="#22e4dc" stroke="#22e4dc" stroke-width="0.5"/>
<path d="M307.00,267.00 L420.00,269.80 L535.30,270.50" fill="none" stroke="#3a3ae6" stroke-width="1.0" stroke-linejoin="round" clip-path="url(#cd)"/>
<path d="M307.50,264.11L310.25,269.04L304.75,269.04Z" fill="#7878ee" stroke="#3a3ae6" stroke-width="1"/>
<path d="M315.36,264.31L318.11,269.24L312.60,269.24Z" fill="#7878ee" stroke="#3a3ae6" stroke-width="1"/>
<path d="M323.21,264.50L325.97,269.43L320.46,269.43Z" fill="#7878ee" stroke="#3a3ae6" stroke-width="1"/>
<path d="M331.07,264.70L333.82,269.63L328.31,269.63Z" fill="#7878ee" stroke="#3a3ae6" stroke-width="1"/>
<path d="M338.92,264.89L341.68,269.82L336.17,269.82Z" fill="#7878ee" stroke="#3a3ae6" stroke-width="1"/>
<path d="M346.78,265.09L349.53,270.02L344.02,270.02Z" fill="#7878ee" stroke="#3a3ae6" stroke-width="1"/>
<path d="M354.63,265.28L357.39,270.21L351.88,270.21Z" fill="#7878ee" stroke="#3a3ae6" stroke-width="1"/>
<path d="M362.49,265.47L365.24,270.40L359.73,270.40Z" fill="#7878ee" stroke="#3a3ae6" stroke-width="1"/>
<path d="M370.34,265.67L373.10,270.60L367.59,270.60Z" fill="#7878ee" stroke="#3a3ae6" stroke-width="1"/>
<path d="M378.20,265.86L380.95,270.79L375.44,270.79Z" fill="#7878ee" stroke="#3a3ae6" stroke-width="1"/>
<path d="M386.05,266.06L388.81,270.99L383.30,270.99Z" fill="#7878ee" stroke="#3a3ae6" stroke-width="1"/>
<path d="M393.91,266.25L396.66,271.18L391.15,271.18Z" fill="#7878ee" stroke="#3a3ae6" stroke-width="1"/>
<path d="M401.76,266.45L404.52,271.38L399.01,271.38Z" fill="#7878ee" stroke="#3a3ae6" stroke-width="1"/>
<path d="M409.62,266.64L412.37,271.57L406.86,271.57Z" fill="#7878ee" stroke="#3a3ae6" stroke-width="1"/>
<path d="M417.47,266.84L420.23,271.77L414.72,271.77Z" fill="#7878ee" stroke="#3a3ae6" stroke-width="1"/>
<path d="M425.33,266.93L428.08,271.86L422.57,271.86Z" fill="#7878ee" stroke="#3a3ae6" stroke-width="1"/>
<path d="M433.18,266.98L435.94,271.91L430.43,271.91Z" fill="#7878ee" stroke="#3a3ae6" stroke-width="1"/>
<path d="M441.04,267.03L443.79,271.96L438.28,271.96Z" fill="#7878ee" stroke="#3a3ae6" stroke-width="1"/>
<path d="M448.89,267.08L451.65,272.01L446.14,272.01Z" fill="#7878ee" stroke="#3a3ae6" stroke-width="1"/>
<path d="M456.75,267.12L459.50,272.05L453.99,272.05Z" fill="#7878ee" stroke="#3a3ae6" stroke-width="1"/>
<path d="M464.60,267.17L467.36,272.10L461.85,272.10Z" fill="#7878ee" stroke="#3a3ae6" stroke-width="1"/>
<path d="M472.46,267.22L475.21,272.15L469.70,272.15Z" fill="#7878ee" stroke="#3a3ae6" stroke-width="1"/>
<path d="M480.31,267.27L483.07,272.20L477.56,272.20Z" fill="#7878ee" stroke="#3a3ae6" stroke-width="1"/>
<path d="M488.17,267.31L490.92,272.24L485.41,272.24Z" fill="#7878ee" stroke="#3a3ae6" stroke-width="1"/>
<path d="M496.02,267.36L498.78,272.29L493.27,272.29Z" fill="#7878ee" stroke="#3a3ae6" stroke-width="1"/>
<path d="M503.88,267.41L506.63,272.34L501.12,272.34Z" fill="#7878ee" stroke="#3a3ae6" stroke-width="1"/>
<path d="M511.73,267.46L514.49,272.39L508.98,272.39Z" fill="#7878ee" stroke="#3a3ae6" stroke-width="1"/>
<path d="M519.59,267.50L522.34,272.43L516.83,272.43Z" fill="#7878ee" stroke="#3a3ae6" stroke-width="1"/>
<path d="M527.44,267.55L530.20,272.48L524.69,272.48Z" fill="#7878ee" stroke="#3a3ae6" stroke-width="1"/>
<path d="M535.30,267.60L538.05,272.53L532.54,272.53Z" fill="#7878ee" stroke="#3a3ae6" stroke-width="1"/>
<path d="M307.00,265.90 L535.30,265.90" fill="none" stroke="#22dd22" stroke-width="1.0" stroke-linejoin="round" clip-path="url(#cd)"/>
<circle cx="307.50" cy="265.90" r="1.90" fill="#22dd22"/>
<circle cx="315.36" cy="265.90" r="1.90" fill="#22dd22"/>
<circle cx="323.21" cy="265.90" r="1.90" fill="#22dd22"/>
<circle cx="331.07" cy="265.90" r="1.90" fill="#22dd22"/>
<circle cx="338.92" cy="265.90" r="1.90" fill="#22dd22"/>
<circle cx="346.78" cy="265.90" r="1.90" fill="#22dd22"/>
<circle cx="354.63" cy="265.90" r="1.90" fill="#22dd22"/>
<circle cx="362.49" cy="265.90" r="1.90" fill="#22dd22"/>
<circle cx="370.34" cy="265.90" r="1.90" fill="#22dd22"/>
<circle cx="378.20" cy="265.90" r="1.90" fill="#22dd22"/>
<circle cx="386.05" cy="265.90" r="1.90" fill="#22dd22"/>
<circle cx="393.91" cy="265.90" r="1.90" fill="#22dd22"/>
<circle cx="401.76" cy="265.90" r="1.90" fill="#22dd22"/>
<circle cx="409.62" cy="265.90" r="1.90" fill="#22dd22"/>
<circle cx="417.47" cy="265.90" r="1.90" fill="#22dd22"/>
<circle cx="425.33" cy="265.90" r="1.90" fill="#22dd22"/>
<circle cx="433.18" cy="265.90" r="1.90" fill="#22dd22"/>
<circle cx="441.04" cy="265.90" r="1.90" fill="#22dd22"/>
<circle cx="448.89" cy="265.90" r="1.90" fill="#22dd22"/>
<circle cx="456.75" cy="265.90" r="1.90" fill="#22dd22"/>
<circle cx="464.60" cy="265.90" r="1.90" fill="#22dd22"/>
<circle cx="472.46" cy="265.90" r="1.90" fill="#22dd22"/>
<circle cx="480.31" cy="265.90" r="1.90" fill="#22dd22"/>
<circle cx="488.17" cy="265.90" r="1.90" fill="#22dd22"/>
<circle cx="496.02" cy="265.90" r="1.90" fill="#22dd22"/>
<circle cx="503.88" cy="265.90" r="1.90" fill="#22dd22"/>
<circle cx="511.73" cy="265.90" r="1.90" fill="#22dd22"/>
<circle cx="519.59" cy="265.90" r="1.90" fill="#22dd22"/>
<circle cx="527.44" cy="265.90" r="1.90" fill="#22dd22"/>
<circle cx="535.30" cy="265.90" r="1.90" fill="#22dd22"/>
<path d="M307.60,265.90 L315.30,268.10 L324.00,270.30 L339.30,272.50 L354.50,274.60 L369.80,276.40 L387.30,277.90 L402.50,280.10 L449.00,280.20 L454.50,286.50 L535.30,286.50" fill="none" stroke="#222222" stroke-width="1.0" stroke-linejoin="round" clip-path="url(#cd)"/>
<path d="M310.40,265.90L305.47,263.14L305.47,268.65Z" fill="#c4c4c4" stroke="#222222" stroke-width="0.95"/>
<path d="M318.26,268.11L313.33,265.36L313.33,270.87Z" fill="#c4c4c4" stroke="#222222" stroke-width="0.95"/>
<path d="M326.11,270.10L321.18,267.35L321.18,272.86Z" fill="#c4c4c4" stroke="#222222" stroke-width="0.95"/>
<path d="M333.97,271.32L329.04,268.56L329.04,274.07Z" fill="#c4c4c4" stroke="#222222" stroke-width="0.95"/>
<path d="M341.82,272.45L336.89,269.69L336.89,275.20Z" fill="#c4c4c4" stroke="#222222" stroke-width="0.95"/>
<path d="M349.68,273.53L344.75,270.78L344.75,276.29Z" fill="#c4c4c4" stroke="#222222" stroke-width="0.95"/>
<path d="M357.53,274.62L352.60,271.86L352.60,277.37Z" fill="#c4c4c4" stroke="#222222" stroke-width="0.95"/>
<path d="M365.39,275.54L360.46,272.78L360.46,278.29Z" fill="#c4c4c4" stroke="#222222" stroke-width="0.95"/>
<path d="M373.24,276.45L368.31,273.69L368.31,279.20Z" fill="#c4c4c4" stroke="#222222" stroke-width="0.95"/>
<path d="M381.10,277.12L376.17,274.36L376.17,279.87Z" fill="#c4c4c4" stroke="#222222" stroke-width="0.95"/>
<path d="M388.95,277.79L384.02,275.04L384.02,280.55Z" fill="#c4c4c4" stroke="#222222" stroke-width="0.95"/>
<path d="M396.81,278.86L391.88,276.10L391.88,281.61Z" fill="#c4c4c4" stroke="#222222" stroke-width="0.95"/>
<path d="M404.66,279.99L399.73,277.24L399.73,282.75Z" fill="#c4c4c4" stroke="#222222" stroke-width="0.95"/>
<path d="M412.52,280.12L407.59,277.36L407.59,282.87Z" fill="#c4c4c4" stroke="#222222" stroke-width="0.95"/>
<path d="M420.37,280.13L415.44,277.38L415.44,282.89Z" fill="#c4c4c4" stroke="#222222" stroke-width="0.95"/>
<path d="M428.23,280.15L423.30,277.39L423.30,282.90Z" fill="#c4c4c4" stroke="#222222" stroke-width="0.95"/>
<path d="M436.08,280.17L431.15,277.41L431.15,282.92Z" fill="#c4c4c4" stroke="#222222" stroke-width="0.95"/>
<path d="M443.94,280.18L439.01,277.43L439.01,282.94Z" fill="#c4c4c4" stroke="#222222" stroke-width="0.95"/>
<path d="M451.79,280.20L446.86,277.44L446.86,282.95Z" fill="#c4c4c4" stroke="#222222" stroke-width="0.95"/>
<path d="M459.65,286.50L454.72,283.75L454.72,289.25Z" fill="#c4c4c4" stroke="#222222" stroke-width="0.95"/>
<path d="M467.50,286.50L462.57,283.75L462.57,289.25Z" fill="#c4c4c4" stroke="#222222" stroke-width="0.95"/>
<path d="M475.36,286.50L470.43,283.75L470.43,289.25Z" fill="#c4c4c4" stroke="#222222" stroke-width="0.95"/>
<path d="M483.21,286.50L478.28,283.75L478.28,289.25Z" fill="#c4c4c4" stroke="#222222" stroke-width="0.95"/>
<path d="M491.07,286.50L486.14,283.75L486.14,289.25Z" fill="#c4c4c4" stroke="#222222" stroke-width="0.95"/>
<path d="M498.92,286.50L493.99,283.75L493.99,289.25Z" fill="#c4c4c4" stroke="#222222" stroke-width="0.95"/>
<path d="M506.78,286.50L501.85,283.75L501.85,289.25Z" fill="#c4c4c4" stroke="#222222" stroke-width="0.95"/>
<path d="M514.63,286.50L509.70,283.75L509.70,289.25Z" fill="#c4c4c4" stroke="#222222" stroke-width="0.95"/>
<path d="M522.49,286.50L517.56,283.75L517.56,289.25Z" fill="#c4c4c4" stroke="#222222" stroke-width="0.95"/>
<path d="M530.34,286.50L525.41,283.75L525.41,289.25Z" fill="#c4c4c4" stroke="#222222" stroke-width="0.95"/>
<path d="M538.20,286.50L533.27,283.75L533.27,289.25Z" fill="#c4c4c4" stroke="#222222" stroke-width="0.95"/>
<path d="M307.60,265.90 L315.30,271.40 L324.00,276.80 L332.70,282.30 L340.00,285.50 L354.50,293.80 L362.50,298.20 L370.90,303.60 L378.20,309.10 L386.50,314.50 L394.50,319.30 L401.80,326.50 L410.20,330.90 L418.20,335.30 L425.50,341.10 L433.80,346.20 L441.10,350.90 L449.10,354.50 L456.40,360.00 L464.40,365.50 L472.70,370.90 L480.00,376.40 L488.00,381.80 L495.60,387.30 L503.60,392.00 L511.60,397.10 L520.00,403.60 L527.30,410.20 L535.30,416.40" fill="none" stroke="#e84848" stroke-width="1.0" stroke-linejoin="round" clip-path="url(#cd)"/>
<rect x="305.55" y="263.95" width="3.90" height="3.90" fill="none" stroke="#e84848" stroke-width="0.75"/><path d="M305.55,263.95L309.45,267.85M309.45,263.95L305.55,267.85" stroke="#e84848" stroke-width="0.5"/>
<rect x="313.41" y="269.48" width="3.90" height="3.90" fill="none" stroke="#e84848" stroke-width="0.75"/><path d="M313.41,269.48L317.31,273.38M317.31,269.48L313.41,273.38" stroke="#e84848" stroke-width="0.5"/>
<rect x="321.26" y="274.36" width="3.90" height="3.90" fill="none" stroke="#e84848" stroke-width="0.75"/><path d="M321.26,274.36L325.16,278.26M325.16,274.36L321.26,278.26" stroke="#e84848" stroke-width="0.5"/>
<rect x="329.12" y="279.32" width="3.90" height="3.90" fill="none" stroke="#e84848" stroke-width="0.75"/><path d="M329.12,279.32L333.02,283.22M333.02,279.32L329.12,283.22" stroke="#e84848" stroke-width="0.5"/>
<rect x="336.97" y="283.08" width="3.90" height="3.90" fill="none" stroke="#e84848" stroke-width="0.75"/><path d="M336.97,283.08L340.87,286.98M340.87,283.08L336.97,286.98" stroke="#e84848" stroke-width="0.5"/>
<rect x="344.83" y="287.43" width="3.90" height="3.90" fill="none" stroke="#e84848" stroke-width="0.75"/><path d="M344.83,287.43L348.73,291.33M348.73,287.43L344.83,291.33" stroke="#e84848" stroke-width="0.5"/>
<rect x="352.68" y="291.92" width="3.90" height="3.90" fill="none" stroke="#e84848" stroke-width="0.75"/><path d="M352.68,291.92L356.58,295.82M356.58,291.92L352.68,295.82" stroke="#e84848" stroke-width="0.5"/>
<rect x="360.54" y="296.24" width="3.90" height="3.90" fill="none" stroke="#e84848" stroke-width="0.75"/><path d="M360.54,296.24L364.44,300.14M364.44,296.24L360.54,300.14" stroke="#e84848" stroke-width="0.5"/>
<rect x="368.39" y="301.29" width="3.90" height="3.90" fill="none" stroke="#e84848" stroke-width="0.75"/><path d="M368.39,301.29L372.29,305.19M372.29,301.29L368.39,305.19" stroke="#e84848" stroke-width="0.5"/>
<rect x="376.25" y="307.15" width="3.90" height="3.90" fill="none" stroke="#e84848" stroke-width="0.75"/><path d="M376.25,307.15L380.15,311.05M380.15,307.15L376.25,311.05" stroke="#e84848" stroke-width="0.5"/>
<rect x="384.10" y="312.26" width="3.90" height="3.90" fill="none" stroke="#e84848" stroke-width="0.75"/><path d="M384.10,312.26L388.00,316.16M388.00,312.26L384.10,316.16" stroke="#e84848" stroke-width="0.5"/>
<rect x="391.96" y="316.99" width="3.90" height="3.90" fill="none" stroke="#e84848" stroke-width="0.75"/><path d="M391.96,316.99L395.86,320.89M395.86,316.99L391.96,320.89" stroke="#e84848" stroke-width="0.5"/>
<rect x="399.81" y="324.51" width="3.90" height="3.90" fill="none" stroke="#e84848" stroke-width="0.75"/><path d="M399.81,324.51L403.71,328.41M403.71,324.51L399.81,328.41" stroke="#e84848" stroke-width="0.5"/>
<rect x="407.67" y="328.64" width="3.90" height="3.90" fill="none" stroke="#e84848" stroke-width="0.75"/><path d="M407.67,328.64L411.57,332.54M411.57,328.64L407.67,332.54" stroke="#e84848" stroke-width="0.5"/>
<rect x="415.52" y="332.95" width="3.90" height="3.90" fill="none" stroke="#e84848" stroke-width="0.75"/><path d="M415.52,332.95L419.42,336.85M419.42,332.95L415.52,336.85" stroke="#e84848" stroke-width="0.5"/>
<rect x="423.38" y="339.01" width="3.90" height="3.90" fill="none" stroke="#e84848" stroke-width="0.75"/><path d="M423.38,339.01L427.28,342.91M427.28,339.01L423.38,342.91" stroke="#e84848" stroke-width="0.5"/>
<rect x="431.23" y="343.87" width="3.90" height="3.90" fill="none" stroke="#e84848" stroke-width="0.75"/><path d="M431.23,343.87L435.13,347.77M435.13,343.87L431.23,347.77" stroke="#e84848" stroke-width="0.5"/>
<rect x="439.09" y="348.91" width="3.90" height="3.90" fill="none" stroke="#e84848" stroke-width="0.75"/><path d="M439.09,348.91L442.99,352.81M442.99,348.91L439.09,352.81" stroke="#e84848" stroke-width="0.5"/>
<rect x="446.94" y="352.46" width="3.90" height="3.90" fill="none" stroke="#e84848" stroke-width="0.75"/><path d="M446.94,352.46L450.84,356.36M450.84,352.46L446.94,356.36" stroke="#e84848" stroke-width="0.5"/>
<rect x="454.80" y="358.29" width="3.90" height="3.90" fill="none" stroke="#e84848" stroke-width="0.75"/><path d="M454.80,358.29L458.70,362.19M458.70,358.29L454.80,362.19" stroke="#e84848" stroke-width="0.5"/>
<rect x="462.65" y="363.68" width="3.90" height="3.90" fill="none" stroke="#e84848" stroke-width="0.75"/><path d="M462.65,363.68L466.55,367.58M466.55,363.68L462.65,367.58" stroke="#e84848" stroke-width="0.5"/>
<rect x="470.51" y="368.79" width="3.90" height="3.90" fill="none" stroke="#e84848" stroke-width="0.75"/><path d="M470.51,368.79L474.41,372.69M474.41,368.79L470.51,372.69" stroke="#e84848" stroke-width="0.5"/>
<rect x="478.36" y="374.66" width="3.90" height="3.90" fill="none" stroke="#e84848" stroke-width="0.75"/><path d="M478.36,374.66L482.26,378.56M482.26,374.66L478.36,378.56" stroke="#e84848" stroke-width="0.5"/>
<rect x="486.22" y="379.97" width="3.90" height="3.90" fill="none" stroke="#e84848" stroke-width="0.75"/><path d="M486.22,379.97L490.12,383.87M490.12,379.97L486.22,383.87" stroke="#e84848" stroke-width="0.5"/>
<rect x="494.07" y="385.60" width="3.90" height="3.90" fill="none" stroke="#e84848" stroke-width="0.75"/><path d="M494.07,385.60L497.97,389.50M497.97,385.60L494.07,389.50" stroke="#e84848" stroke-width="0.5"/>
<rect x="501.93" y="390.23" width="3.90" height="3.90" fill="none" stroke="#e84848" stroke-width="0.75"/><path d="M501.93,390.23L505.83,394.13M505.83,390.23L501.93,394.13" stroke="#e84848" stroke-width="0.5"/>
<rect x="509.78" y="395.25" width="3.90" height="3.90" fill="none" stroke="#e84848" stroke-width="0.75"/><path d="M509.78,395.25L513.68,399.15M513.68,395.25L509.78,399.15" stroke="#e84848" stroke-width="0.5"/>
<rect x="517.64" y="401.33" width="3.90" height="3.90" fill="none" stroke="#e84848" stroke-width="0.75"/><path d="M517.64,401.33L521.54,405.23M521.54,401.33L517.64,405.23" stroke="#e84848" stroke-width="0.5"/>
<rect x="525.49" y="408.36" width="3.90" height="3.90" fill="none" stroke="#e84848" stroke-width="0.75"/><path d="M525.49,408.36L529.39,412.26M529.39,408.36L525.49,412.26" stroke="#e84848" stroke-width="0.5"/>
<rect x="533.35" y="414.45" width="3.90" height="3.90" fill="none" stroke="#e84848" stroke-width="0.75"/><path d="M533.35,414.45L537.25,418.35M537.25,414.45L533.35,418.35" stroke="#e84848" stroke-width="0.5"/>
<line x1="307.5" x2="308.8" y1="416.36" y2="416.36" stroke="#8c8c8c" stroke-width="0.6"/>
<line x1="535.3" x2="534.0" y1="416.36" y2="416.36" stroke="#8c8c8c" stroke-width="0.6"/>
<line x1="307.5" x2="308.8" y1="411.22" y2="411.22" stroke="#8c8c8c" stroke-width="0.6"/>
<line x1="535.3" x2="534.0" y1="411.22" y2="411.22" stroke="#8c8c8c" stroke-width="0.6"/>
<line x1="307.5" x2="308.8" y1="406.08" y2="406.08" stroke="#8c8c8c" stroke-width="0.6"/>
<line x1="535.3" x2="534.0" y1="406.08" y2="406.08" stroke="#8c8c8c" stroke-width="0.6"/>
<line x1="307.5" x2="308.8" y1="400.94" y2="400.94" stroke="#8c8c8c" stroke-width="0.6"/>
<line x1="535.3" x2="534.0" y1="400.94" y2="400.94" stroke="#8c8c8c" stroke-width="0.6"/>
<line x1="307.5" x2="308.8" y1="390.66" y2="390.66" stroke="#8c8c8c" stroke-width="0.6"/>
<line x1="535.3" x2="534.0" y1="390.66" y2="390.66" stroke="#8c8c8c" stroke-width="0.6"/>
<line x1="307.5" x2="308.8" y1="385.52" y2="385.52" stroke="#8c8c8c" stroke-width="0.6"/>
<line x1="535.3" x2="534.0" y1="385.52" y2="385.52" stroke="#8c8c8c" stroke-width="0.6"/>
<line x1="307.5" x2="308.8" y1="380.38" y2="380.38" stroke="#8c8c8c" stroke-width="0.6"/>
<line x1="535.3" x2="534.0" y1="380.38" y2="380.38" stroke="#8c8c8c" stroke-width="0.6"/>
<line x1="307.5" x2="308.8" y1="375.24" y2="375.24" stroke="#8c8c8c" stroke-width="0.6"/>
<line x1="535.3" x2="534.0" y1="375.24" y2="375.24" stroke="#8c8c8c" stroke-width="0.6"/>
<line x1="307.5" x2="308.8" y1="364.96" y2="364.96" stroke="#8c8c8c" stroke-width="0.6"/>
<line x1="535.3" x2="534.0" y1="364.96" y2="364.96" stroke="#8c8c8c" stroke-width="0.6"/>
<line x1="307.5" x2="308.8" y1="359.82" y2="359.82" stroke="#8c8c8c" stroke-width="0.6"/>
<line x1="535.3" x2="534.0" y1="359.82" y2="359.82" stroke="#8c8c8c" stroke-width="0.6"/>
<line x1="307.5" x2="308.8" y1="354.68" y2="354.68" stroke="#8c8c8c" stroke-width="0.6"/>
<line x1="535.3" x2="534.0" y1="354.68" y2="354.68" stroke="#8c8c8c" stroke-width="0.6"/>
<line x1="307.5" x2="308.8" y1="349.54" y2="349.54" stroke="#8c8c8c" stroke-width="0.6"/>
<line x1="535.3" x2="534.0" y1="349.54" y2="349.54" stroke="#8c8c8c" stroke-width="0.6"/>
<line x1="307.5" x2="308.8" y1="339.26" y2="339.26" stroke="#8c8c8c" stroke-width="0.6"/>
<line x1="535.3" x2="534.0" y1="339.26" y2="339.26" stroke="#8c8c8c" stroke-width="0.6"/>
<line x1="307.5" x2="308.8" y1="334.12" y2="334.12" stroke="#8c8c8c" stroke-width="0.6"/>
<line x1="535.3" x2="534.0" y1="334.12" y2="334.12" stroke="#8c8c8c" stroke-width="0.6"/>
<line x1="307.5" x2="308.8" y1="328.98" y2="328.98" stroke="#8c8c8c" stroke-width="0.6"/>
<line x1="535.3" x2="534.0" y1="328.98" y2="328.98" stroke="#8c8c8c" stroke-width="0.6"/>
<line x1="307.5" x2="308.8" y1="323.84" y2="323.84" stroke="#8c8c8c" stroke-width="0.6"/>
<line x1="535.3" x2="534.0" y1="323.84" y2="323.84" stroke="#8c8c8c" stroke-width="0.6"/>
<line x1="307.5" x2="308.8" y1="313.56" y2="313.56" stroke="#8c8c8c" stroke-width="0.6"/>
<line x1="535.3" x2="534.0" y1="313.56" y2="313.56" stroke="#8c8c8c" stroke-width="0.6"/>
<line x1="307.5" x2="308.8" y1="308.42" y2="308.42" stroke="#8c8c8c" stroke-width="0.6"/>
<line x1="535.3" x2="534.0" y1="308.42" y2="308.42" stroke="#8c8c8c" stroke-width="0.6"/>
<line x1="307.5" x2="308.8" y1="303.28" y2="303.28" stroke="#8c8c8c" stroke-width="0.6"/>
<line x1="535.3" x2="534.0" y1="303.28" y2="303.28" stroke="#8c8c8c" stroke-width="0.6"/>
<line x1="307.5" x2="308.8" y1="298.14" y2="298.14" stroke="#8c8c8c" stroke-width="0.6"/>
<line x1="535.3" x2="534.0" y1="298.14" y2="298.14" stroke="#8c8c8c" stroke-width="0.6"/>
<line x1="307.5" x2="308.8" y1="287.86" y2="287.86" stroke="#8c8c8c" stroke-width="0.6"/>
<line x1="535.3" x2="534.0" y1="287.86" y2="287.86" stroke="#8c8c8c" stroke-width="0.6"/>
<line x1="307.5" x2="308.8" y1="282.72" y2="282.72" stroke="#8c8c8c" stroke-width="0.6"/>
<line x1="535.3" x2="534.0" y1="282.72" y2="282.72" stroke="#8c8c8c" stroke-width="0.6"/>
<line x1="307.5" x2="308.8" y1="277.58" y2="277.58" stroke="#8c8c8c" stroke-width="0.6"/>
<line x1="535.3" x2="534.0" y1="277.58" y2="277.58" stroke="#8c8c8c" stroke-width="0.6"/>
<line x1="307.5" x2="308.8" y1="272.44" y2="272.44" stroke="#8c8c8c" stroke-width="0.6"/>
<line x1="535.3" x2="534.0" y1="272.44" y2="272.44" stroke="#8c8c8c" stroke-width="0.6"/>
<line x1="307.5" x2="308.8" y1="262.16" y2="262.16" stroke="#8c8c8c" stroke-width="0.6"/>
<line x1="535.3" x2="534.0" y1="262.16" y2="262.16" stroke="#8c8c8c" stroke-width="0.6"/>
<line x1="307.5" x2="308.8" y1="257.02" y2="257.02" stroke="#8c8c8c" stroke-width="0.6"/>
<line x1="535.3" x2="534.0" y1="257.02" y2="257.02" stroke="#8c8c8c" stroke-width="0.6"/>
<line x1="307.5" x2="308.8" y1="251.88" y2="251.88" stroke="#8c8c8c" stroke-width="0.6"/>
<line x1="535.3" x2="534.0" y1="251.88" y2="251.88" stroke="#8c8c8c" stroke-width="0.6"/>
<line x1="307.5" x2="308.8" y1="246.74" y2="246.74" stroke="#8c8c8c" stroke-width="0.6"/>
<line x1="535.3" x2="534.0" y1="246.74" y2="246.74" stroke="#8c8c8c" stroke-width="0.6"/>
<line x1="307.5" x2="309.7" y1="241.60" y2="241.60" stroke="#8c8c8c" stroke-width="0.8"/>
<line x1="535.3" x2="533.0999999999999" y1="241.60" y2="241.60" stroke="#8c8c8c" stroke-width="0.8"/>
<text x="304.60" y="245.20" text-anchor="end" font-family="Liberation Sans" font-size="6.9" fill="#4a4a4a">10<tspan dy="-3.2" font-size="5.4">50</tspan></text>
<line x1="307.5" x2="309.7" y1="267.30" y2="267.30" stroke="#8c8c8c" stroke-width="0.8"/>
<line x1="535.3" x2="533.0999999999999" y1="267.30" y2="267.30" stroke="#8c8c8c" stroke-width="0.8"/>
<text x="304.60" y="270.90" text-anchor="end" font-family="Liberation Sans" font-size="6.9" fill="#4a4a4a">10<tspan dy="-3.2" font-size="5.4">0</tspan></text>
<line x1="307.5" x2="309.7" y1="293.00" y2="293.00" stroke="#8c8c8c" stroke-width="0.8"/>
<line x1="535.3" x2="533.0999999999999" y1="293.00" y2="293.00" stroke="#8c8c8c" stroke-width="0.8"/>
<text x="304.60" y="296.60" text-anchor="end" font-family="Liberation Sans" font-size="6.9" fill="#4a4a4a">10<tspan dy="-3.2" font-size="5.4">-50</tspan></text>
<line x1="307.5" x2="309.7" y1="318.70" y2="318.70" stroke="#8c8c8c" stroke-width="0.8"/>
<line x1="535.3" x2="533.0999999999999" y1="318.70" y2="318.70" stroke="#8c8c8c" stroke-width="0.8"/>
<text x="304.60" y="322.30" text-anchor="end" font-family="Liberation Sans" font-size="6.9" fill="#4a4a4a">10<tspan dy="-3.2" font-size="5.4">-100</tspan></text>
<line x1="307.5" x2="309.7" y1="344.40" y2="344.40" stroke="#8c8c8c" stroke-width="0.8"/>
<line x1="535.3" x2="533.0999999999999" y1="344.40" y2="344.40" stroke="#8c8c8c" stroke-width="0.8"/>
<text x="304.60" y="348.00" text-anchor="end" font-family="Liberation Sans" font-size="6.9" fill="#4a4a4a">10<tspan dy="-3.2" font-size="5.4">-150</tspan></text>
<line x1="307.5" x2="309.7" y1="370.10" y2="370.10" stroke="#8c8c8c" stroke-width="0.8"/>
<line x1="535.3" x2="533.0999999999999" y1="370.10" y2="370.10" stroke="#8c8c8c" stroke-width="0.8"/>
<text x="304.60" y="373.70" text-anchor="end" font-family="Liberation Sans" font-size="6.9" fill="#4a4a4a">10<tspan dy="-3.2" font-size="5.4">-200</tspan></text>
<line x1="307.5" x2="309.7" y1="395.80" y2="395.80" stroke="#8c8c8c" stroke-width="0.8"/>
<line x1="535.3" x2="533.0999999999999" y1="395.80" y2="395.80" stroke="#8c8c8c" stroke-width="0.8"/>
<text x="304.60" y="399.40" text-anchor="end" font-family="Liberation Sans" font-size="6.9" fill="#4a4a4a">10<tspan dy="-3.2" font-size="5.4">-250</tspan></text>
<line x1="307.5" x2="309.7" y1="421.50" y2="421.50" stroke="#8c8c8c" stroke-width="0.8"/>
<line x1="535.3" x2="533.0999999999999" y1="421.50" y2="421.50" stroke="#8c8c8c" stroke-width="0.8"/>
<text x="304.60" y="425.10" text-anchor="end" font-family="Liberation Sans" font-size="6.9" fill="#4a4a4a">10<tspan dy="-3.2" font-size="5.4">-300</tspan></text>
<line x1="307.50" x2="307.50" y1="421.3" y2="419.1" stroke="#8c8c8c" stroke-width="0.8"/>
<text x="307.50" y="431.70" text-anchor="middle" font-family="Liberation Sans" font-size="7.3" fill="#4a4a4a">0</text>
<line x1="353.06" x2="353.06" y1="421.3" y2="419.1" stroke="#8c8c8c" stroke-width="0.8"/>
<text x="353.06" y="431.70" text-anchor="middle" font-family="Liberation Sans" font-size="7.3" fill="#4a4a4a">100</text>
<line x1="398.62" x2="398.62" y1="421.3" y2="419.1" stroke="#8c8c8c" stroke-width="0.8"/>
<text x="398.62" y="431.70" text-anchor="middle" font-family="Liberation Sans" font-size="7.3" fill="#4a4a4a">200</text>
<line x1="444.18" x2="444.18" y1="421.3" y2="419.1" stroke="#8c8c8c" stroke-width="0.8"/>
<text x="444.18" y="431.70" text-anchor="middle" font-family="Liberation Sans" font-size="7.3" fill="#4a4a4a">300</text>
<line x1="489.74" x2="489.74" y1="421.3" y2="419.1" stroke="#8c8c8c" stroke-width="0.8"/>
<text x="489.74" y="431.70" text-anchor="middle" font-family="Liberation Sans" font-size="7.3" fill="#4a4a4a">400</text>
<line x1="535.30" x2="535.30" y1="421.3" y2="419.1" stroke="#8c8c8c" stroke-width="0.8"/>
<text x="535.30" y="431.70" text-anchor="middle" font-family="Liberation Sans" font-size="7.3" fill="#4a4a4a">500</text>
<text transform="translate(419.5,236.6) scale(1.45,1)" font-family="Liberation Serif" font-style="italic" font-size="13" fill="#1a1a1a" stroke="#1a1a1a" stroke-width="0.08">f</text><text x="426.00" y="239.4" font-family="Liberation Serif" font-size="6.50" fill="#1a1a1a" stroke="#1a1a1a" stroke-width="0.2">4</text>
<text transform="translate(276.1,338.3) rotate(-90)" text-anchor="middle" font-family="Liberation Serif" font-weight="bold" font-size="8.95" fill="#1a1a1a" dy="3">Mean of objective function values</text>
<text x="422.6" y="445.7" text-anchor="middle" font-family="Liberation Serif" font-weight="bold" font-size="8.1" fill="#1a1a1a">Iteration</text>
<text x="541.4" y="446.2" text-anchor="middle" font-family="Liberation Serif" font-weight="bold" font-size="8.6" fill="#1a1a1a">(d)</text>
<rect x="485.5" y="307.3" width="37.39999999999998" height="38.89999999999998" fill="#fff" stroke="#555" stroke-width="0.8"/>
<line x1="488.10" x2="506.00" y1="311.89" y2="311.89" stroke="#22e4dc" stroke-width="0.8"/>
<circle cx="497.05" cy="311.89" r="1.95" fill="#22e4dc" stroke="#22e4dc" stroke-width="0.5"/>
<text x="508.00" y="313.89" font-family="Liberation Sans" font-size="5.7" fill="#222" stroke="#222" stroke-width="0.18">PSO</text>
<line x1="488.10" x2="506.00" y1="319.28" y2="319.28" stroke="#3a3ae6" stroke-width="0.8"/>
<path d="M497.05,316.82L499.39,321.01L494.71,321.01Z" fill="#7878ee" stroke="#3a3ae6" stroke-width="1"/>
<text x="508.00" y="321.28" font-family="Liberation Sans" font-size="5.7" fill="#222" stroke="#222" stroke-width="0.18">GWO</text>
<line x1="488.10" x2="506.00" y1="326.67" y2="326.67" stroke="#22dd22" stroke-width="0.8"/>
<circle cx="497.05" cy="326.67" r="1.61" fill="#22dd22"/>
<text x="508.00" y="328.67" font-family="Liberation Sans" font-size="5.7" fill="#222" stroke="#222" stroke-width="0.18">WOA</text>
<line x1="488.10" x2="506.00" y1="334.06" y2="334.06" stroke="#222222" stroke-width="0.8"/>
<path d="M499.51,334.06L495.32,331.72L495.32,336.40Z" fill="#c4c4c4" stroke="#222222" stroke-width="0.95"/>
<text x="508.00" y="336.06" font-family="Liberation Sans" font-size="5.7" fill="#222" stroke="#222" stroke-width="0.18">SSA</text>
<line x1="488.10" x2="506.00" y1="341.45" y2="341.45" stroke="#e84848" stroke-width="0.8"/>
<rect x="495.39" y="339.80" width="3.31" height="3.31" fill="none" stroke="#e84848" stroke-width="0.75"/><path d="M495.39,339.80L498.71,343.11M498.71,339.80L495.39,343.11" stroke="#e84848" stroke-width="0.5"/>
<text x="508.00" y="343.45" font-family="Liberation Sans" font-size="5.7" fill="#222" stroke="#222" stroke-width="0.18">ISSA</text>
<rect x="316.3" y="377.7" width="129.59999999999997" height="33.80000000000001" fill="#fff" stroke="#555" stroke-width="0.9"/>
<text transform="translate(320.60,400.90) scale(1.3,1)" font-family="Liberation Serif" font-size="12" font-style="italic" fill="#2a2a2a" stroke="#2a2a2a" stroke-width="0.22">f</text><text x="324.90" y="403.10" font-family="Liberation Serif" font-size="6.5" fill="#2a2a2a" stroke="#2a2a2a" stroke-width="0.22">4</text><text x="329.60" y="400.90" font-family="Liberation Serif" font-size="12" fill="#2a2a2a" stroke="#2a2a2a" stroke-width="0.22">(</text><text x="332.80" y="400.90" font-family="Liberation Serif" font-size="12" font-style="italic" fill="#2a2a2a" stroke="#2a2a2a" stroke-width="0.22">x</text><text x="340.00" y="400.90" font-family="Liberation Serif" font-size="12" fill="#2a2a2a" stroke="#2a2a2a" stroke-width="0.22">)</text><text x="345.40" y="400.90" font-family="Liberation Serif" font-size="12" fill="#2a2a2a" stroke="#2a2a2a" stroke-width="0.22">=</text><text x="354.80" y="400.90" font-family="Liberation Serif" font-size="16.5" fill="#2a2a2a" stroke="#2a2a2a" stroke-width="0.22">∑</text><text x="360.80" y="388.70" font-family="Liberation Serif" font-size="6" font-style="italic" text-anchor="middle" fill="#2a2a2a" stroke="#2a2a2a" stroke-width="0.1">D</text><text x="360.50" y="409.10" font-family="Liberation Serif" font-size="5.2" text-anchor="middle" fill="#2a2a2a" stroke="#2a2a2a" stroke-width="0.1">i=1</text><text x="367.60" y="400.90" font-family="Liberation Serif" font-size="12" font-style="italic" fill="#2a2a2a" stroke="#2a2a2a" stroke-width="0.22">ix</text><text x="377.40" y="393.50" font-family="Liberation Serif" font-size="6" fill="#2a2a2a" stroke="#2a2a2a" stroke-width="0.22">4</text><text x="376.80" y="403.10" font-family="Liberation Serif" font-size="6" font-style="italic" fill="#2a2a2a" stroke="#2a2a2a" stroke-width="0.22">i</text><text x="382.00" y="400.90" font-family="Liberation Serif" font-size="11" fill="#2a2a2a" stroke="#2a2a2a" stroke-width="0.22">+</text><text x="389.60" y="400.90" font-family="Liberation Serif" font-size="11" font-style="italic" fill="#2a2a2a" stroke="#2a2a2a" stroke-width="0.22">random</text><text x="424.40" y="401.90" font-family="Liberation Serif" font-size="15" fill="#2a2a2a" stroke="#2a2a2a" stroke-width="0.22">[</text><text x="429.00" y="400.90" font-family="Liberation Serif" font-size="11" fill="#2a2a2a" stroke="#2a2a2a" stroke-width="0.22">0,1</text><text x="441.60" y="401.90" font-family="Liberation Serif" font-size="15" fill="#2a2a2a" stroke="#2a2a2a" stroke-width="0.22">]</text>
<clipPath id="ce"><rect x="37.5" y="465.6" width="226.5" height="178.60000000000002"/></clipPath>
<rect x="37.5" y="465.6" width="226.5" height="178.60000000000002" fill="#fff"/>
<line x1="37.5" x2="264" y1="640.03" y2="640.03" stroke="#f2f2f2" stroke-width="0.7"/>
<line x1="37.5" x2="264" y1="637.41" y2="637.41" stroke="#f2f2f2" stroke-width="0.7"/>
<line x1="37.5" x2="264" y1="635.56" y2="635.56" stroke="#f2f2f2" stroke-width="0.7"/>
<line x1="37.5" x2="264" y1="634.12" y2="634.12" stroke="#f2f2f2" stroke-width="0.7"/>
<line x1="37.5" x2="264" y1="632.94" y2="632.94" stroke="#f2f2f2" stroke-width="0.7"/>
<line x1="37.5" x2="264" y1="631.95" y2="631.95" stroke="#f2f2f2" stroke-width="0.7"/>
<line x1="37.5" x2="264" y1="631.09" y2="631.09" stroke="#f2f2f2" stroke-width="0.7"/>
<line x1="37.5" x2="264" y1="630.33" y2="630.33" stroke="#f2f2f2" stroke-width="0.7"/>
<line x1="37.5" x2="264" y1="625.18" y2="625.18" stroke="#f2f2f2" stroke-width="0.7"/>
<line x1="37.5" x2="264" y1="622.56" y2="622.56" stroke="#f2f2f2" stroke-width="0.7"/>
<line x1="37.5" x2="264" y1="620.71" y2="620.71" stroke="#f2f2f2" stroke-width="0.7"/>
<line x1="37.5" x2="264" y1="619.27" y2="619.27" stroke="#f2f2f2" stroke-width="0.7"/>
<line x1="37.5" x2="264" y1="618.09" y2="618.09" stroke="#f2f2f2" stroke-width="0.7"/>
<line x1="37.5" x2="264" y1="617.10" y2="617.10" stroke="#f2f2f2" stroke-width="0.7"/>
<line x1="37.5" x2="264" y1="616.24" y2="616.24" stroke="#f2f2f2" stroke-width="0.7"/>
<line x1="37.5" x2="264" y1="615.48" y2="615.48" stroke="#f2f2f2" stroke-width="0.7"/>
<line x1="37.5" x2="264" y1="629.65" y2="629.65" stroke="#f2f2f2" stroke-width="0.7"/>
<line x1="37.5" x2="264" y1="610.33" y2="610.33" stroke="#f2f2f2" stroke-width="0.7"/>
<line x1="37.5" x2="264" y1="607.71" y2="607.71" stroke="#f2f2f2" stroke-width="0.7"/>
<line x1="37.5" x2="264" y1="605.86" y2="605.86" stroke="#f2f2f2" stroke-width="0.7"/>
<line x1="37.5" x2="264" y1="604.42" y2="604.42" stroke="#f2f2f2" stroke-width="0.7"/>
<line x1="37.5" x2="264" y1="603.24" y2="603.24" stroke="#f2f2f2" stroke-width="0.7"/>
<line x1="37.5" x2="264" y1="602.25" y2="602.25" stroke="#f2f2f2" stroke-width="0.7"/>
<line x1="37.5" x2="264" y1="601.39" y2="601.39" stroke="#f2f2f2" stroke-width="0.7"/>
<line x1="37.5" x2="264" y1="600.63" y2="600.63" stroke="#f2f2f2" stroke-width="0.7"/>
<line x1="37.5" x2="264" y1="595.48" y2="595.48" stroke="#f2f2f2" stroke-width="0.7"/>
<line x1="37.5" x2="264" y1="592.86" y2="592.86" stroke="#f2f2f2" stroke-width="0.7"/>
<line x1="37.5" x2="264" y1="591.01" y2="591.01" stroke="#f2f2f2" stroke-width="0.7"/>
<line x1="37.5" x2="264" y1="589.57" y2="589.57" stroke="#f2f2f2" stroke-width="0.7"/>
<line x1="37.5" x2="264" y1="588.39" y2="588.39" stroke="#f2f2f2" stroke-width="0.7"/>
<line x1="37.5" x2="264" y1="587.40" y2="587.40" stroke="#f2f2f2" stroke-width="0.7"/>
<line x1="37.5" x2="264" y1="586.54" y2="586.54" stroke="#f2f2f2" stroke-width="0.7"/>
<line x1="37.5" x2="264" y1="585.78" y2="585.78" stroke="#f2f2f2" stroke-width="0.7"/>
<line x1="37.5" x2="264" y1="599.95" y2="599.95" stroke="#f2f2f2" stroke-width="0.7"/>
<line x1="37.5" x2="264" y1="580.63" y2="580.63" stroke="#f2f2f2" stroke-width="0.7"/>
<line x1="37.5" x2="264" y1="578.01" y2="578.01" stroke="#f2f2f2" stroke-width="0.7"/>
<line x1="37.5" x2="264" y1="576.16" y2="576.16" stroke="#f2f2f2" stroke-width="0.7"/>
<line x1="37.5" x2="264" y1="574.72" y2="574.72" stroke="#f2f2f2" stroke-width="0.7"/>
<line x1="37.5" x2="264" y1="573.54" y2="573.54" stroke="#f2f2f2" stroke-width="0.7"/>
<line x1="37.5" x2="264" y1="572.55" y2="572.55" stroke="#f2f2f2" stroke-width="0.7"/>
<line x1="37.5" x2="264" y1="571.69" y2="571.69" stroke="#f2f2f2" stroke-width="0.7"/>
<line x1="37.5" x2="264" y1="570.93" y2="570.93" stroke="#f2f2f2" stroke-width="0.7"/>
<line x1="37.5" x2="264" y1="565.78" y2="565.78" stroke="#f2f2f2" stroke-width="0.7"/>
<line x1="37.5" x2="264" y1="563.16" y2="563.16" stroke="#f2f2f2" stroke-width="0.7"/>
<line x1="37.5" x2="264" y1="561.31" y2="561.31" stroke="#f2f2f2" stroke-width="0.7"/>
<line x1="37.5" x2="264" y1="559.87" y2="559.87" stroke="#f2f2f2" stroke-width="0.7"/>
<line x1="37.5" x2="264" y1="558.69" y2="558.69" stroke="#f2f2f2" stroke-width="0.7"/>
<line x1="37.5" x2="264" y1="557.70" y2="557.70" stroke="#f2f2f2" stroke-width="0.7"/>
<line x1="37.5" x2="264" y1="556.84" y2="556.84" stroke="#f2f2f2" stroke-width="0.7"/>
<line x1="37.5" x2="264" y1="556.08" y2="556.08" stroke="#f2f2f2" stroke-width="0.7"/>
<line x1="37.5" x2="264" y1="570.25" y2="570.25" stroke="#f2f2f2" stroke-width="0.7"/>
<line x1="37.5" x2="264" y1="550.93" y2="550.93" stroke="#f2f2f2" stroke-width="0.7"/>
<line x1="37.5" x2="264" y1="548.31" y2="548.31" stroke="#f2f2f2" stroke-width="0.7"/>
<line x1="37.5" x2="264" y1="546.46" y2="546.46" stroke="#f2f2f2" stroke-width="0.7"/>
<line x1="37.5" x2="264" y1="545.02" y2="545.02" stroke="#f2f2f2" stroke-width="0.7"/>
<line x1="37.5" x2="264" y1="543.84" y2="543.84" stroke="#f2f2f2" stroke-width="0.7"/>
<line x1="37.5" x2="264" y1="542.85" y2="542.85" stroke="#f2f2f2" stroke-width="0.7"/>
<line x1="37.5" x2="264" y1="541.99" y2="541.99" stroke="#f2f2f2" stroke-width="0.7"/>
<line x1="37.5" x2="264" y1="541.23" y2="541.23" stroke="#f2f2f2" stroke-width="0.7"/>
<line x1="37.5" x2="264" y1="536.08" y2="536.08" stroke="#f2f2f2" stroke-width="0.7"/>
<line x1="37.5" x2="264" y1="533.46" y2="533.46" stroke="#f2f2f2" stroke-width="0.7"/>
<line x1="37.5" x2="264" y1="531.61" y2="531.61" stroke="#f2f2f2" stroke-width="0.7"/>
<line x1="37.5" x2="264" y1="530.17" y2="530.17" stroke="#f2f2f2" stroke-width="0.7"/>
<line x1="37.5" x2="264" y1="528.99" y2="528.99" stroke="#f2f2f2" stroke-width="0.7"/>
<line x1="37.5" x2="264" y1="528.00" y2="528.00" stroke="#f2f2f2" stroke-width="0.7"/>
<line x1="37.5" x2="264" y1="527.14" y2="527.14" stroke="#f2f2f2" stroke-width="0.7"/>
<line x1="37.5" x2="264" y1="526.38" y2="526.38" stroke="#f2f2f2" stroke-width="0.7"/>
<line x1="37.5" x2="264" y1="540.55" y2="540.55" stroke="#f2f2f2" stroke-width="0.7"/>
<line x1="37.5" x2="264" y1="521.23" y2="521.23" stroke="#f2f2f2" stroke-width="0.7"/>
<line x1="37.5" x2="264" y1="518.61" y2="518.61" stroke="#f2f2f2" stroke-width="0.7"/>
<line x1="37.5" x2="264" y1="516.76" y2="516.76" stroke="#f2f2f2" stroke-width="0.7"/>
<line x1="37.5" x2="264" y1="515.32" y2="515.32" stroke="#f2f2f2" stroke-width="0.7"/>
<line x1="37.5" x2="264" y1="514.14" y2="514.14" stroke="#f2f2f2" stroke-width="0.7"/>
<line x1="37.5" x2="264" y1="513.15" y2="513.15" stroke="#f2f2f2" stroke-width="0.7"/>
<line x1="37.5" x2="264" y1="512.29" y2="512.29" stroke="#f2f2f2" stroke-width="0.7"/>
<line x1="37.5" x2="264" y1="511.53" y2="511.53" stroke="#f2f2f2" stroke-width="0.7"/>
<line x1="37.5" x2="264" y1="506.38" y2="506.38" stroke="#f2f2f2" stroke-width="0.7"/>
<line x1="37.5" x2="264" y1="503.76" y2="503.76" stroke="#f2f2f2" stroke-width="0.7"/>
<line x1="37.5" x2="264" y1="501.91" y2="501.91" stroke="#f2f2f2" stroke-width="0.7"/>
<line x1="37.5" x2="264" y1="500.47" y2="500.47" stroke="#f2f2f2" stroke-width="0.7"/>
<line x1="37.5" x2="264" y1="499.29" y2="499.29" stroke="#f2f2f2" stroke-width="0.7"/>
<line x1="37.5" x2="264" y1="498.30" y2="498.30" stroke="#f2f2f2" stroke-width="0.7"/>
<line x1="37.5" x2="264" y1="497.44" y2="497.44" stroke="#f2f2f2" stroke-width="0.7"/>
<line x1="37.5" x2="264" y1="496.68" y2="496.68" stroke="#f2f2f2" stroke-width="0.7"/>
<line x1="37.5" x2="264" y1="510.85" y2="510.85" stroke="#f2f2f2" stroke-width="0.7"/>
<line x1="37.5" x2="264" y1="491.53" y2="491.53" stroke="#f2f2f2" stroke-width="0.7"/>
<line x1="37.5" x2="264" y1="488.91" y2="488.91" stroke="#f2f2f2" stroke-width="0.7"/>
<line x1="37.5" x2="264" y1="487.06" y2="487.06" stroke="#f2f2f2" stroke-width="0.7"/>
<line x1="37.5" x2="264" y1="485.62" y2="485.62" stroke="#f2f2f2" stroke-width="0.7"/>
<line x1="37.5" x2="264" y1="484.44" y2="484.44" stroke="#f2f2f2" stroke-width="0.7"/>
<line x1="37.5" x2="264" y1="483.45" y2="483.45" stroke="#f2f2f2" stroke-width="0.7"/>
<line x1="37.5" x2="264" y1="482.59" y2="482.59" stroke="#f2f2f2" stroke-width="0.7"/>
<line x1="37.5" x2="264" y1="481.83" y2="481.83" stroke="#f2f2f2" stroke-width="0.7"/>
<line x1="37.5" x2="264" y1="476.68" y2="476.68" stroke="#f2f2f2" stroke-width="0.7"/>
<line x1="37.5" x2="264" y1="474.06" y2="474.06" stroke="#f2f2f2" stroke-width="0.7"/>
<line x1="37.5" x2="264" y1="472.21" y2="472.21" stroke="#f2f2f2" stroke-width="0.7"/>
<line x1="37.5" x2="264" y1="470.77" y2="470.77" stroke="#f2f2f2" stroke-width="0.7"/>
<line x1="37.5" x2="264" y1="469.59" y2="469.59" stroke="#f2f2f2" stroke-width="0.7"/>
<line x1="37.5" x2="264" y1="468.60" y2="468.60" stroke="#f2f2f2" stroke-width="0.7"/>
<line x1="37.5" x2="264" y1="467.74" y2="467.74" stroke="#f2f2f2" stroke-width="0.7"/>
<line x1="37.5" x2="264" y1="466.98" y2="466.98" stroke="#f2f2f2" stroke-width="0.7"/>
<line x1="37.5" x2="264" y1="481.15" y2="481.15" stroke="#f2f2f2" stroke-width="0.7"/>
<line x1="37.5" x2="264" y1="466.30" y2="466.30" stroke="#e6e6e6" stroke-width="0.8"/>
<line x1="37.5" x2="264" y1="496.00" y2="496.00" stroke="#e6e6e6" stroke-width="0.8"/>
<line x1="37.5" x2="264" y1="525.70" y2="525.70" stroke="#e6e6e6" stroke-width="0.8"/>
<line x1="37.5" x2="264" y1="555.40" y2="555.40" stroke="#e6e6e6" stroke-width="0.8"/>
<line x1="37.5" x2="264" y1="585.10" y2="585.10" stroke="#e6e6e6" stroke-width="0.8"/>
<line x1="37.5" x2="264" y1="614.80" y2="614.80" stroke="#e6e6e6" stroke-width="0.8"/>
<line x1="82.80" x2="82.80" y1="465.6" y2="644.2" stroke="#e6e6e6" stroke-width="0.8"/>
<line x1="128.10" x2="128.10" y1="465.6" y2="644.2" stroke="#e6e6e6" stroke-width="0.8"/>
<line x1="173.40" x2="173.40" y1="465.6" y2="644.2" stroke="#e6e6e6" stroke-width="0.8"/>
<line x1="218.70" x2="218.70" y1="465.6" y2="644.2" stroke="#e6e6e6" stroke-width="0.8"/>
<rect x="37.5" y="465.6" width="226.5" height="178.60000000000002" fill="none" stroke="#8c8c8c" stroke-width="1.0"/>
<path d="M37.60,488.60 L45.60,511.50 L52.90,516.30 L61.50,520.00 L69.10,523.50 L76.80,525.40 L84.40,526.80 L92.00,529.20 L99.70,531.50 L108.20,534.40 L115.90,536.90 L122.70,538.50 L130.90,541.80 L139.10,544.50 L147.30,547.30 L154.10,550.00 L162.30,552.20 L170.40,553.30 L178.60,554.40 L186.80,554.90 L264.00,555.50" fill="none" stroke="#22e4dc" stroke-width="1.0" stroke-linejoin="round" clip-path="url(#ce)"/>
<circle cx="37.50" cy="488.60" r="2.30" fill="#22e4dc" stroke="#22e4dc" stroke-width="0.5"/>
<circle cx="45.31" cy="510.67" r="2.30" fill="#22e4dc" stroke="#22e4dc" stroke-width="0.5"/>
<circle cx="53.12" cy="516.39" r="2.30" fill="#22e4dc" stroke="#22e4dc" stroke-width="0.5"/>
<circle cx="60.93" cy="519.76" r="2.30" fill="#22e4dc" stroke="#22e4dc" stroke-width="0.5"/>
<circle cx="68.74" cy="523.33" r="2.30" fill="#22e4dc" stroke="#22e4dc" stroke-width="0.5"/>
<circle cx="76.55" cy="525.34" r="2.30" fill="#22e4dc" stroke="#22e4dc" stroke-width="0.5"/>
<circle cx="84.36" cy="526.79" r="2.30" fill="#22e4dc" stroke="#22e4dc" stroke-width="0.5"/>
<circle cx="92.17" cy="529.25" r="2.30" fill="#22e4dc" stroke="#22e4dc" stroke-width="0.5"/>
<circle cx="99.98" cy="531.60" r="2.30" fill="#22e4dc" stroke="#22e4dc" stroke-width="0.5"/>
<circle cx="107.79" cy="534.26" r="2.30" fill="#22e4dc" stroke="#22e4dc" stroke-width="0.5"/>
<circle cx="115.60" cy="536.80" r="2.30" fill="#22e4dc" stroke="#22e4dc" stroke-width="0.5"/>
<circle cx="123.41" cy="538.79" r="2.30" fill="#22e4dc" stroke="#22e4dc" stroke-width="0.5"/>
<circle cx="131.22" cy="541.91" r="2.30" fill="#22e4dc" stroke="#22e4dc" stroke-width="0.5"/>
<circle cx="139.03" cy="544.48" r="2.30" fill="#22e4dc" stroke="#22e4dc" stroke-width="0.5"/>
<circle cx="146.84" cy="547.14" r="2.30" fill="#22e4dc" stroke="#22e4dc" stroke-width="0.5"/>
<circle cx="154.66" cy="550.15" r="2.30" fill="#22e4dc" stroke="#22e4dc" stroke-width="0.5"/>
<circle cx="162.47" cy="552.22" r="2.30" fill="#22e4dc" stroke="#22e4dc" stroke-width="0.5"/>
<circle cx="170.28" cy="553.28" r="2.30" fill="#22e4dc" stroke="#22e4dc" stroke-width="0.5"/>
<circle cx="178.09" cy="554.33" r="2.30" fill="#22e4dc" stroke="#22e4dc" stroke-width="0.5"/>
<circle cx="185.90" cy="554.84" r="2.30" fill="#22e4dc" stroke="#22e4dc" stroke-width="0.5"/>
<circle cx="193.71" cy="554.95" r="2.30" fill="#22e4dc" stroke="#22e4dc" stroke-width="0.5"/>
<circle cx="201.52" cy="555.01" r="2.30" fill="#22e4dc" stroke="#22e4dc" stroke-width="0.5"/>
<circle cx="209.33" cy="555.08" r="2.30" fill="#22e4dc" stroke="#22e4dc" stroke-width="0.5"/>
<circle cx="217.14" cy="555.14" r="2.30" fill="#22e4dc" stroke="#22e4dc" stroke-width="0.5"/>
<circle cx="224.95" cy="555.20" r="2.30" fill="#22e4dc" stroke="#22e4dc" stroke-width="0.5"/>
<circle cx="232.76" cy="555.26" r="2.30" fill="#22e4dc" stroke="#22e4dc" stroke-width="0.5"/>
<circle cx="240.57" cy="555.32" r="2.30" fill="#22e4dc" stroke="#22e4dc" stroke-width="0.5"/>
<circle cx="248.38" cy="555.38" r="2.30" fill="#22e4dc" stroke="#22e4dc" stroke-width="0.5"/>
<circle cx="256.19" cy="555.44" r="2.30" fill="#22e4dc" stroke="#22e4dc" stroke-width="0.5"/>
<circle cx="264.00" cy="555.50" r="2.30" fill="#22e4dc" stroke="#22e4dc" stroke-width="0.5"/>
<path d="M37.60,488.60 L45.60,528.70 L53.30,565.00 L60.90,587.80 L69.10,592.80 L264.00,592.80" fill="none" stroke="#3a3ae6" stroke-width="1.0" stroke-linejoin="round" clip-path="url(#ce)"/>
<path d="M37.50,485.70L40.26,490.63L34.74,490.63Z" fill="#7878ee" stroke="#3a3ae6" stroke-width="1"/>
<path d="M45.31,524.35L48.07,529.28L42.56,529.28Z" fill="#7878ee" stroke="#3a3ae6" stroke-width="1"/>
<path d="M53.12,561.25L55.88,566.18L50.37,566.18Z" fill="#7878ee" stroke="#3a3ae6" stroke-width="1"/>
<path d="M60.93,584.92L63.69,589.85L58.18,589.85Z" fill="#7878ee" stroke="#3a3ae6" stroke-width="1"/>
<path d="M68.74,589.68L71.50,594.61L65.99,594.61Z" fill="#7878ee" stroke="#3a3ae6" stroke-width="1"/>
<path d="M76.55,589.90L79.31,594.83L73.80,594.83Z" fill="#7878ee" stroke="#3a3ae6" stroke-width="1"/>
<path d="M84.36,589.90L87.12,594.83L81.61,594.83Z" fill="#7878ee" stroke="#3a3ae6" stroke-width="1"/>
<path d="M92.17,589.90L94.93,594.83L89.42,594.83Z" fill="#7878ee" stroke="#3a3ae6" stroke-width="1"/>
<path d="M99.98,589.90L102.74,594.83L97.23,594.83Z" fill="#7878ee" stroke="#3a3ae6" stroke-width="1"/>
<path d="M107.79,589.90L110.55,594.83L105.04,594.83Z" fill="#7878ee" stroke="#3a3ae6" stroke-width="1"/>
<path d="M115.60,589.90L118.36,594.83L112.85,594.83Z" fill="#7878ee" stroke="#3a3ae6" stroke-width="1"/>
<path d="M123.41,589.90L126.17,594.83L120.66,594.83Z" fill="#7878ee" stroke="#3a3ae6" stroke-width="1"/>
<path d="M131.22,589.90L133.98,594.83L128.47,594.83Z" fill="#7878ee" stroke="#3a3ae6" stroke-width="1"/>
<path d="M139.03,589.90L141.79,594.83L136.28,594.83Z" fill="#7878ee" stroke="#3a3ae6" stroke-width="1"/>
<path d="M146.84,589.90L149.60,594.83L144.09,594.83Z" fill="#7878ee" stroke="#3a3ae6" stroke-width="1"/>
<path d="M154.66,589.90L157.41,594.83L151.90,594.83Z" fill="#7878ee" stroke="#3a3ae6" stroke-width="1"/>
<path d="M162.47,589.90L165.22,594.83L159.71,594.83Z" fill="#7878ee" stroke="#3a3ae6" stroke-width="1"/>
<path d="M170.28,589.90L173.03,594.83L167.52,594.83Z" fill="#7878ee" stroke="#3a3ae6" stroke-width="1"/>
<path d="M178.09,589.90L180.84,594.83L175.33,594.83Z" fill="#7878ee" stroke="#3a3ae6" stroke-width="1"/>
<path d="M185.90,589.90L188.65,594.83L183.14,594.83Z" fill="#7878ee" stroke="#3a3ae6" stroke-width="1"/>
<path d="M193.71,589.90L196.46,594.83L190.95,594.83Z" fill="#7878ee" stroke="#3a3ae6" stroke-width="1"/>
<path d="M201.52,589.90L204.27,594.83L198.76,594.83Z" fill="#7878ee" stroke="#3a3ae6" stroke-width="1"/>
<path d="M209.33,589.90L212.08,594.83L206.57,594.83Z" fill="#7878ee" stroke="#3a3ae6" stroke-width="1"/>
<path d="M217.14,589.90L219.89,594.83L214.38,594.83Z" fill="#7878ee" stroke="#3a3ae6" stroke-width="1"/>
<path d="M224.95,589.90L227.70,594.83L222.19,594.83Z" fill="#7878ee" stroke="#3a3ae6" stroke-width="1"/>
<path d="M232.76,589.90L235.51,594.83L230.00,594.83Z" fill="#7878ee" stroke="#3a3ae6" stroke-width="1"/>
<path d="M240.57,589.90L243.32,594.83L237.81,594.83Z" fill="#7878ee" stroke="#3a3ae6" stroke-width="1"/>
<path d="M248.38,589.90L251.13,594.83L245.62,594.83Z" fill="#7878ee" stroke="#3a3ae6" stroke-width="1"/>
<path d="M256.19,589.90L258.94,594.83L253.43,594.83Z" fill="#7878ee" stroke="#3a3ae6" stroke-width="1"/>
<path d="M264.00,589.90L266.75,594.83L261.25,594.83Z" fill="#7878ee" stroke="#3a3ae6" stroke-width="1"/>
<path d="M37.60,488.60 L45.60,523.00 L53.30,554.40 L60.90,581.10 L69.10,590.30 L73.00,592.80 L264.00,592.80" fill="none" stroke="#22dd22" stroke-width="1.0" stroke-linejoin="round" clip-path="url(#ce)"/>
<circle cx="37.50" cy="488.60" r="1.90" fill="#22dd22"/>
<circle cx="45.31" cy="521.75" r="1.90" fill="#22dd22"/>
<circle cx="53.12" cy="553.67" r="1.90" fill="#22dd22"/>
<circle cx="60.93" cy="581.13" r="1.90" fill="#22dd22"/>
<circle cx="68.74" cy="589.90" r="1.90" fill="#22dd22"/>
<circle cx="76.55" cy="592.80" r="1.90" fill="#22dd22"/>
<circle cx="84.36" cy="592.80" r="1.90" fill="#22dd22"/>
<circle cx="92.17" cy="592.80" r="1.90" fill="#22dd22"/>
<circle cx="99.98" cy="592.80" r="1.90" fill="#22dd22"/>
<circle cx="107.79" cy="592.80" r="1.90" fill="#22dd22"/>
<circle cx="115.60" cy="592.80" r="1.90" fill="#22dd22"/>
<circle cx="123.41" cy="592.80" r="1.90" fill="#22dd22"/>
<circle cx="131.22" cy="592.80" r="1.90" fill="#22dd22"/>
<circle cx="139.03" cy="592.80" r="1.90" fill="#22dd22"/>
<circle cx="146.84" cy="592.80" r="1.90" fill="#22dd22"/>
<circle cx="154.66" cy="592.80" r="1.90" fill="#22dd22"/>
<circle cx="162.47" cy="592.80" r="1.90" fill="#22dd22"/>
<circle cx="170.28" cy="592.80" r="1.90" fill="#22dd22"/>
<circle cx="178.09" cy="592.80" r="1.90" fill="#22dd22"/>
<circle cx="185.90" cy="592.80" r="1.90" fill="#22dd22"/>
<circle cx="193.71" cy="592.80" r="1.90" fill="#22dd22"/>
<circle cx="201.52" cy="592.80" r="1.90" fill="#22dd22"/>
<circle cx="209.33" cy="592.80" r="1.90" fill="#22dd22"/>
<circle cx="217.14" cy="592.80" r="1.90" fill="#22dd22"/>
<circle cx="224.95" cy="592.80" r="1.90" fill="#22dd22"/>
<circle cx="232.76" cy="592.80" r="1.90" fill="#22dd22"/>
<circle cx="240.57" cy="592.80" r="1.90" fill="#22dd22"/>
<circle cx="248.38" cy="592.80" r="1.90" fill="#22dd22"/>
<circle cx="256.19" cy="592.80" r="1.90" fill="#22dd22"/>
<circle cx="264.00" cy="592.80" r="1.90" fill="#22dd22"/>
<path d="M37.60,559.20 L45.60,597.40 L53.30,609.80 L60.90,613.60 L69.10,615.90 L76.80,617.80 L84.40,620.30 L92.00,622.20 L99.70,623.50 L108.20,625.40 L115.90,626.60 L130.90,629.00 L147.30,631.80 L162.30,634.00 L178.60,635.90 L193.60,637.30 L210.00,638.60 L233.20,639.20 L264.00,640.00" fill="none" stroke="#222222" stroke-width="1.0" stroke-linejoin="round" clip-path="url(#ce)"/>
<path d="M40.40,559.20L35.47,556.45L35.47,561.96Z" fill="#c4c4c4" stroke="#222222" stroke-width="0.95"/>
<path d="M48.21,596.02L43.28,593.26L43.28,598.77Z" fill="#c4c4c4" stroke="#222222" stroke-width="0.95"/>
<path d="M56.02,609.51L51.09,606.76L51.09,612.27Z" fill="#c4c4c4" stroke="#222222" stroke-width="0.95"/>
<path d="M63.83,613.61L58.90,610.85L58.90,616.36Z" fill="#c4c4c4" stroke="#222222" stroke-width="0.95"/>
<path d="M71.64,615.80L66.71,613.04L66.71,618.55Z" fill="#c4c4c4" stroke="#222222" stroke-width="0.95"/>
<path d="M79.45,617.74L74.52,614.98L74.52,620.49Z" fill="#c4c4c4" stroke="#222222" stroke-width="0.95"/>
<path d="M87.26,620.29L82.33,617.53L82.33,623.04Z" fill="#c4c4c4" stroke="#222222" stroke-width="0.95"/>
<path d="M95.07,622.23L90.14,619.47L90.14,624.98Z" fill="#c4c4c4" stroke="#222222" stroke-width="0.95"/>
<path d="M102.88,623.56L97.95,620.81L97.95,626.32Z" fill="#c4c4c4" stroke="#222222" stroke-width="0.95"/>
<path d="M110.69,625.31L105.76,622.55L105.76,628.06Z" fill="#c4c4c4" stroke="#222222" stroke-width="0.95"/>
<path d="M118.50,626.55L113.57,623.80L113.57,629.31Z" fill="#c4c4c4" stroke="#222222" stroke-width="0.95"/>
<path d="M126.31,627.80L121.38,625.05L121.38,630.56Z" fill="#c4c4c4" stroke="#222222" stroke-width="0.95"/>
<path d="M134.12,629.06L129.19,626.30L129.19,631.81Z" fill="#c4c4c4" stroke="#222222" stroke-width="0.95"/>
<path d="M141.93,630.39L137.00,627.63L137.00,633.14Z" fill="#c4c4c4" stroke="#222222" stroke-width="0.95"/>
<path d="M149.74,631.72L144.81,628.97L144.81,634.48Z" fill="#c4c4c4" stroke="#222222" stroke-width="0.95"/>
<path d="M157.56,632.88L152.63,630.12L152.63,635.63Z" fill="#c4c4c4" stroke="#222222" stroke-width="0.95"/>
<path d="M165.37,634.02L160.44,631.26L160.44,636.77Z" fill="#c4c4c4" stroke="#222222" stroke-width="0.95"/>
<path d="M173.18,634.93L168.25,632.17L168.25,637.68Z" fill="#c4c4c4" stroke="#222222" stroke-width="0.95"/>
<path d="M180.99,635.84L176.06,633.09L176.06,638.60Z" fill="#c4c4c4" stroke="#222222" stroke-width="0.95"/>
<path d="M188.80,636.58L183.87,633.83L183.87,639.34Z" fill="#c4c4c4" stroke="#222222" stroke-width="0.95"/>
<path d="M196.61,637.31L191.68,634.55L191.68,640.06Z" fill="#c4c4c4" stroke="#222222" stroke-width="0.95"/>
<path d="M204.42,637.93L199.49,635.17L199.49,640.68Z" fill="#c4c4c4" stroke="#222222" stroke-width="0.95"/>
<path d="M212.23,638.55L207.30,635.79L207.30,641.30Z" fill="#c4c4c4" stroke="#222222" stroke-width="0.95"/>
<path d="M220.04,638.78L215.11,636.03L215.11,641.54Z" fill="#c4c4c4" stroke="#222222" stroke-width="0.95"/>
<path d="M227.85,638.99L222.92,636.23L222.92,641.74Z" fill="#c4c4c4" stroke="#222222" stroke-width="0.95"/>
<path d="M235.66,639.19L230.73,636.43L230.73,641.94Z" fill="#c4c4c4" stroke="#222222" stroke-width="0.95"/>
<path d="M243.47,639.39L238.54,636.64L238.54,642.15Z" fill="#c4c4c4" stroke="#222222" stroke-width="0.95"/>
<path d="M251.28,639.59L246.35,636.84L246.35,642.35Z" fill="#c4c4c4" stroke="#222222" stroke-width="0.95"/>
<path d="M259.09,639.80L254.16,637.04L254.16,642.55Z" fill="#c4c4c4" stroke="#222222" stroke-width="0.95"/>
<path d="M266.90,640.00L261.97,637.25L261.97,642.75Z" fill="#c4c4c4" stroke="#222222" stroke-width="0.95"/>
<path d="M37.60,557.30 L45.30,592.80 L264.00,592.80" fill="none" stroke="#e84848" stroke-width="1.0" stroke-linejoin="round" clip-path="url(#ce)"/>
<rect x="35.55" y="555.35" width="3.90" height="3.90" fill="none" stroke="#e84848" stroke-width="0.75"/><path d="M35.55,555.35L39.45,559.25M39.45,555.35L35.55,559.25" stroke="#e84848" stroke-width="0.5"/>
<rect x="43.36" y="590.85" width="3.90" height="3.90" fill="none" stroke="#e84848" stroke-width="0.75"/><path d="M43.36,590.85L47.26,594.75M47.26,590.85L43.36,594.75" stroke="#e84848" stroke-width="0.5"/>
<rect x="51.17" y="590.85" width="3.90" height="3.90" fill="none" stroke="#e84848" stroke-width="0.75"/><path d="M51.17,590.85L55.07,594.75M55.07,590.85L51.17,594.75" stroke="#e84848" stroke-width="0.5"/>
<rect x="58.98" y="590.85" width="3.90" height="3.90" fill="none" stroke="#e84848" stroke-width="0.75"/><path d="M58.98,590.85L62.88,594.75M62.88,590.85L58.98,594.75" stroke="#e84848" stroke-width="0.5"/>
<rect x="66.79" y="590.85" width="3.90" height="3.90" fill="none" stroke="#e84848" stroke-width="0.75"/><path d="M66.79,590.85L70.69,594.75M70.69,590.85L66.79,594.75" stroke="#e84848" stroke-width="0.5"/>
<rect x="74.60" y="590.85" width="3.90" height="3.90" fill="none" stroke="#e84848" stroke-width="0.75"/><path d="M74.60,590.85L78.50,594.75M78.50,590.85L74.60,594.75" stroke="#e84848" stroke-width="0.5"/>
<rect x="82.41" y="590.85" width="3.90" height="3.90" fill="none" stroke="#e84848" stroke-width="0.75"/><path d="M82.41,590.85L86.31,594.75M86.31,590.85L82.41,594.75" stroke="#e84848" stroke-width="0.5"/>
<rect x="90.22" y="590.85" width="3.90" height="3.90" fill="none" stroke="#e84848" stroke-width="0.75"/><path d="M90.22,590.85L94.12,594.75M94.12,590.85L90.22,594.75" stroke="#e84848" stroke-width="0.5"/>
<rect x="98.03" y="590.85" width="3.90" height="3.90" fill="none" stroke="#e84848" stroke-width="0.75"/><path d="M98.03,590.85L101.93,594.75M101.93,590.85L98.03,594.75" stroke="#e84848" stroke-width="0.5"/>
<rect x="105.84" y="590.85" width="3.90" height="3.90" fill="none" stroke="#e84848" stroke-width="0.75"/><path d="M105.84,590.85L109.74,594.75M109.74,590.85L105.84,594.75" stroke="#e84848" stroke-width="0.5"/>
<rect x="113.65" y="590.85" width="3.90" height="3.90" fill="none" stroke="#e84848" stroke-width="0.75"/><path d="M113.65,590.85L117.55,594.75M117.55,590.85L113.65,594.75" stroke="#e84848" stroke-width="0.5"/>
<rect x="121.46" y="590.85" width="3.90" height="3.90" fill="none" stroke="#e84848" stroke-width="0.75"/><path d="M121.46,590.85L125.36,594.75M125.36,590.85L121.46,594.75" stroke="#e84848" stroke-width="0.5"/>
<rect x="129.27" y="590.85" width="3.90" height="3.90" fill="none" stroke="#e84848" stroke-width="0.75"/><path d="M129.27,590.85L133.17,594.75M133.17,590.85L129.27,594.75" stroke="#e84848" stroke-width="0.5"/>
<rect x="137.08" y="590.85" width="3.90" height="3.90" fill="none" stroke="#e84848" stroke-width="0.75"/><path d="M137.08,590.85L140.98,594.75M140.98,590.85L137.08,594.75" stroke="#e84848" stroke-width="0.5"/>
<rect x="144.89" y="590.85" width="3.90" height="3.90" fill="none" stroke="#e84848" stroke-width="0.75"/><path d="M144.89,590.85L148.79,594.75M148.79,590.85L144.89,594.75" stroke="#e84848" stroke-width="0.5"/>
<rect x="152.71" y="590.85" width="3.90" height="3.90" fill="none" stroke="#e84848" stroke-width="0.75"/><path d="M152.71,590.85L156.61,594.75M156.61,590.85L152.71,594.75" stroke="#e84848" stroke-width="0.5"/>
<rect x="160.52" y="590.85" width="3.90" height="3.90" fill="none" stroke="#e84848" stroke-width="0.75"/><path d="M160.52,590.85L164.42,594.75M164.42,590.85L160.52,594.75" stroke="#e84848" stroke-width="0.5"/>
<rect x="168.33" y="590.85" width="3.90" height="3.90" fill="none" stroke="#e84848" stroke-width="0.75"/><path d="M168.33,590.85L172.23,594.75M172.23,590.85L168.33,594.75" stroke="#e84848" stroke-width="0.5"/>
<rect x="176.14" y="590.85" width="3.90" height="3.90" fill="none" stroke="#e84848" stroke-width="0.75"/><path d="M176.14,590.85L180.04,594.75M180.04,590.85L176.14,594.75" stroke="#e84848" stroke-width="0.5"/>
<rect x="183.95" y="590.85" width="3.90" height="3.90" fill="none" stroke="#e84848" stroke-width="0.75"/><path d="M183.95,590.85L187.85,594.75M187.85,590.85L183.95,594.75" stroke="#e84848" stroke-width="0.5"/>
<rect x="191.76" y="590.85" width="3.90" height="3.90" fill="none" stroke="#e84848" stroke-width="0.75"/><path d="M191.76,590.85L195.66,594.75M195.66,590.85L191.76,594.75" stroke="#e84848" stroke-width="0.5"/>
<rect x="199.57" y="590.85" width="3.90" height="3.90" fill="none" stroke="#e84848" stroke-width="0.75"/><path d="M199.57,590.85L203.47,594.75M203.47,590.85L199.57,594.75" stroke="#e84848" stroke-width="0.5"/>
<rect x="207.38" y="590.85" width="3.90" height="3.90" fill="none" stroke="#e84848" stroke-width="0.75"/><path d="M207.38,590.85L211.28,594.75M211.28,590.85L207.38,594.75" stroke="#e84848" stroke-width="0.5"/>
<rect x="215.19" y="590.85" width="3.90" height="3.90" fill="none" stroke="#e84848" stroke-width="0.75"/><path d="M215.19,590.85L219.09,594.75M219.09,590.85L215.19,594.75" stroke="#e84848" stroke-width="0.5"/>
<rect x="223.00" y="590.85" width="3.90" height="3.90" fill="none" stroke="#e84848" stroke-width="0.75"/><path d="M223.00,590.85L226.90,594.75M226.90,590.85L223.00,594.75" stroke="#e84848" stroke-width="0.5"/>
<rect x="230.81" y="590.85" width="3.90" height="3.90" fill="none" stroke="#e84848" stroke-width="0.75"/><path d="M230.81,590.85L234.71,594.75M234.71,590.85L230.81,594.75" stroke="#e84848" stroke-width="0.5"/>
<rect x="238.62" y="590.85" width="3.90" height="3.90" fill="none" stroke="#e84848" stroke-width="0.75"/><path d="M238.62,590.85L242.52,594.75M242.52,590.85L238.62,594.75" stroke="#e84848" stroke-width="0.5"/>
<rect x="246.43" y="590.85" width="3.90" height="3.90" fill="none" stroke="#e84848" stroke-width="0.75"/><path d="M246.43,590.85L250.33,594.75M250.33,590.85L246.43,594.75" stroke="#e84848" stroke-width="0.5"/>
<rect x="254.24" y="590.85" width="3.90" height="3.90" fill="none" stroke="#e84848" stroke-width="0.75"/><path d="M254.24,590.85L258.14,594.75M258.14,590.85L254.24,594.75" stroke="#e84848" stroke-width="0.5"/>
<rect x="262.05" y="590.85" width="3.90" height="3.90" fill="none" stroke="#e84848" stroke-width="0.75"/><path d="M262.05,590.85L265.95,594.75M265.95,590.85L262.05,594.75" stroke="#e84848" stroke-width="0.5"/>
<line x1="37.5" x2="38.8" y1="640.03" y2="640.03" stroke="#8c8c8c" stroke-width="0.6"/>
<line x1="264" x2="262.7" y1="640.03" y2="640.03" stroke="#8c8c8c" stroke-width="0.6"/>
<line x1="37.5" x2="38.8" y1="637.41" y2="637.41" stroke="#8c8c8c" stroke-width="0.6"/>
<line x1="264" x2="262.7" y1="637.41" y2="637.41" stroke="#8c8c8c" stroke-width="0.6"/>
<line x1="37.5" x2="38.8" y1="635.56" y2="635.56" stroke="#8c8c8c" stroke-width="0.6"/>
<line x1="264" x2="262.7" y1="635.56" y2="635.56" stroke="#8c8c8c" stroke-width="0.6"/>
<line x1="37.5" x2="38.8" y1="634.12" y2="634.12" stroke="#8c8c8c" stroke-width="0.6"/>
<line x1="264" x2="262.7" y1="634.12" y2="634.12" stroke="#8c8c8c" stroke-width="0.6"/>
<line x1="37.5" x2="38.8" y1="632.94" y2="632.94" stroke="#8c8c8c" stroke-width="0.6"/>
<line x1="264" x2="262.7" y1="632.94" y2="632.94" stroke="#8c8c8c" stroke-width="0.6"/>
<line x1="37.5" x2="38.8" y1="631.95" y2="631.95" stroke="#8c8c8c" stroke-width="0.6"/>
<line x1="264" x2="262.7" y1="631.95" y2="631.95" stroke="#8c8c8c" stroke-width="0.6"/>
<line x1="37.5" x2="38.8" y1="631.09" y2="631.09" stroke="#8c8c8c" stroke-width="0.6"/>
<line x1="264" x2="262.7" y1="631.09" y2="631.09" stroke="#8c8c8c" stroke-width="0.6"/>
<line x1="37.5" x2="38.8" y1="630.33" y2="630.33" stroke="#8c8c8c" stroke-width="0.6"/>
<line x1="264" x2="262.7" y1="630.33" y2="630.33" stroke="#8c8c8c" stroke-width="0.6"/>
<line x1="37.5" x2="38.8" y1="625.18" y2="625.18" stroke="#8c8c8c" stroke-width="0.6"/>
<line x1="264" x2="262.7" y1="625.18" y2="625.18" stroke="#8c8c8c" stroke-width="0.6"/>
<line x1="37.5" x2="38.8" y1="622.56" y2="622.56" stroke="#8c8c8c" stroke-width="0.6"/>
<line x1="264" x2="262.7" y1="622.56" y2="622.56" stroke="#8c8c8c" stroke-width="0.6"/>
<line x1="37.5" x2="38.8" y1="620.71" y2="620.71" stroke="#8c8c8c" stroke-width="0.6"/>
<line x1="264" x2="262.7" y1="620.71" y2="620.71" stroke="#8c8c8c" stroke-width="0.6"/>
<line x1="37.5" x2="38.8" y1="619.27" y2="619.27" stroke="#8c8c8c" stroke-width="0.6"/>
<line x1="264" x2="262.7" y1="619.27" y2="619.27" stroke="#8c8c8c" stroke-width="0.6"/>
<line x1="37.5" x2="38.8" y1="618.09" y2="618.09" stroke="#8c8c8c" stroke-width="0.6"/>
<line x1="264" x2="262.7" y1="618.09" y2="618.09" stroke="#8c8c8c" stroke-width="0.6"/>
<line x1="37.5" x2="38.8" y1="617.10" y2="617.10" stroke="#8c8c8c" stroke-width="0.6"/>
<line x1="264" x2="262.7" y1="617.10" y2="617.10" stroke="#8c8c8c" stroke-width="0.6"/>
<line x1="37.5" x2="38.8" y1="616.24" y2="616.24" stroke="#8c8c8c" stroke-width="0.6"/>
<line x1="264" x2="262.7" y1="616.24" y2="616.24" stroke="#8c8c8c" stroke-width="0.6"/>
<line x1="37.5" x2="38.8" y1="615.48" y2="615.48" stroke="#8c8c8c" stroke-width="0.6"/>
<line x1="264" x2="262.7" y1="615.48" y2="615.48" stroke="#8c8c8c" stroke-width="0.6"/>
<line x1="37.5" x2="38.8" y1="629.65" y2="629.65" stroke="#8c8c8c" stroke-width="0.6"/>
<line x1="264" x2="262.7" y1="629.65" y2="629.65" stroke="#8c8c8c" stroke-width="0.6"/>
<line x1="37.5" x2="38.8" y1="610.33" y2="610.33" stroke="#8c8c8c" stroke-width="0.6"/>
<line x1="264" x2="262.7" y1="610.33" y2="610.33" stroke="#8c8c8c" stroke-width="0.6"/>
<line x1="37.5" x2="38.8" y1="607.71" y2="607.71" stroke="#8c8c8c" stroke-width="0.6"/>
<line x1="264" x2="262.7" y1="607.71" y2="607.71" stroke="#8c8c8c" stroke-width="0.6"/>
<line x1="37.5" x2="38.8" y1="605.86" y2="605.86" stroke="#8c8c8c" stroke-width="0.6"/>
<line x1="264" x2="262.7" y1="605.86" y2="605.86" stroke="#8c8c8c" stroke-width="0.6"/>
<line x1="37.5" x2="38.8" y1="604.42" y2="604.42" stroke="#8c8c8c" stroke-width="0.6"/>
<line x1="264" x2="262.7" y1="604.42" y2="604.42" stroke="#8c8c8c" stroke-width="0.6"/>
<line x1="37.5" x2="38.8" y1="603.24" y2="603.24" stroke="#8c8c8c" stroke-width="0.6"/>
<line x1="264" x2="262.7" y1="603.24" y2="603.24" stroke="#8c8c8c" stroke-width="0.6"/>
<line x1="37.5" x2="38.8" y1="602.25" y2="602.25" stroke="#8c8c8c" stroke-width="0.6"/>
<line x1="264" x2="262.7" y1="602.25" y2="602.25" stroke="#8c8c8c" stroke-width="0.6"/>
<line x1="37.5" x2="38.8" y1="601.39" y2="601.39" stroke="#8c8c8c" stroke-width="0.6"/>
<line x1="264" x2="262.7" y1="601.39" y2="601.39" stroke="#8c8c8c" stroke-width="0.6"/>
<line x1="37.5" x2="38.8" y1="600.63" y2="600.63" stroke="#8c8c8c" stroke-width="0.6"/>
<line x1="264" x2="262.7" y1="600.63" y2="600.63" stroke="#8c8c8c" stroke-width="0.6"/>
<line x1="37.5" x2="38.8" y1="595.48" y2="595.48" stroke="#8c8c8c" stroke-width="0.6"/>
<line x1="264" x2="262.7" y1="595.48" y2="595.48" stroke="#8c8c8c" stroke-width="0.6"/>
<line x1="37.5" x2="38.8" y1="592.86" y2="592.86" stroke="#8c8c8c" stroke-width="0.6"/>
<line x1="264" x2="262.7" y1="592.86" y2="592.86" stroke="#8c8c8c" stroke-width="0.6"/>
<line x1="37.5" x2="38.8" y1="591.01" y2="591.01" stroke="#8c8c8c" stroke-width="0.6"/>
<line x1="264" x2="262.7" y1="591.01" y2="591.01" stroke="#8c8c8c" stroke-width="0.6"/>
<line x1="37.5" x2="38.8" y1="589.57" y2="589.57" stroke="#8c8c8c" stroke-width="0.6"/>
<line x1="264" x2="262.7" y1="589.57" y2="589.57" stroke="#8c8c8c" stroke-width="0.6"/>
<line x1="37.5" x2="38.8" y1="588.39" y2="588.39" stroke="#8c8c8c" stroke-width="0.6"/>
<line x1="264" x2="262.7" y1="588.39" y2="588.39" stroke="#8c8c8c" stroke-width="0.6"/>
<line x1="37.5" x2="38.8" y1="587.40" y2="587.40" stroke="#8c8c8c" stroke-width="0.6"/>
<line x1="264" x2="262.7" y1="587.40" y2="587.40" stroke="#8c8c8c" stroke-width="0.6"/>
<line x1="37.5" x2="38.8" y1="586.54" y2="586.54" stroke="#8c8c8c" stroke-width="0.6"/>
<line x1="264" x2="262.7" y1="586.54" y2="586.54" stroke="#8c8c8c" stroke-width="0.6"/>
<line x1="37.5" x2="38.8" y1="585.78" y2="585.78" stroke="#8c8c8c" stroke-width="0.6"/>
<line x1="264" x2="262.7" y1="585.78" y2="585.78" stroke="#8c8c8c" stroke-width="0.6"/>
<line x1="37.5" x2="38.8" y1="599.95" y2="599.95" stroke="#8c8c8c" stroke-width="0.6"/>
<line x1="264" x2="262.7" y1="599.95" y2="599.95" stroke="#8c8c8c" stroke-width="0.6"/>
<line x1="37.5" x2="38.8" y1="580.63" y2="580.63" stroke="#8c8c8c" stroke-width="0.6"/>
<line x1="264" x2="262.7" y1="580.63" y2="580.63" stroke="#8c8c8c" stroke-width="0.6"/>
<line x1="37.5" x2="38.8" y1="578.01" y2="578.01" stroke="#8c8c8c" stroke-width="0.6"/>
<line x1="264" x2="262.7" y1="578.01" y2="578.01" stroke="#8c8c8c" stroke-width="0.6"/>
<line x1="37.5" x2="38.8" y1="576.16" y2="576.16" stroke="#8c8c8c" stroke-width="0.6"/>
<line x1="264" x2="262.7" y1="576.16" y2="576.16" stroke="#8c8c8c" stroke-width="0.6"/>
<line x1="37.5" x2="38.8" y1="574.72" y2="574.72" stroke="#8c8c8c" stroke-width="0.6"/>
<line x1="264" x2="262.7" y1="574.72" y2="574.72" stroke="#8c8c8c" stroke-width="0.6"/>
<line x1="37.5" x2="38.8" y1="573.54" y2="573.54" stroke="#8c8c8c" stroke-width="0.6"/>
<line x1="264" x2="262.7" y1="573.54" y2="573.54" stroke="#8c8c8c" stroke-width="0.6"/>
<line x1="37.5" x2="38.8" y1="572.55" y2="572.55" stroke="#8c8c8c" stroke-width="0.6"/>
<line x1="264" x2="262.7" y1="572.55" y2="572.55" stroke="#8c8c8c" stroke-width="0.6"/>
<line x1="37.5" x2="38.8" y1="571.69" y2="571.69" stroke="#8c8c8c" stroke-width="0.6"/>
<line x1="264" x2="262.7" y1="571.69" y2="571.69" stroke="#8c8c8c" stroke-width="0.6"/>
<line x1="37.5" x2="38.8" y1="570.93" y2="570.93" stroke="#8c8c8c" stroke-width="0.6"/>
<line x1="264" x2="262.7" y1="570.93" y2="570.93" stroke="#8c8c8c" stroke-width="0.6"/>
<line x1="37.5" x2="38.8" y1="565.78" y2="565.78" stroke="#8c8c8c" stroke-width="0.6"/>
<line x1="264" x2="262.7" y1="565.78" y2="565.78" stroke="#8c8c8c" stroke-width="0.6"/>
<line x1="37.5" x2="38.8" y1="563.16" y2="563.16" stroke="#8c8c8c" stroke-width="0.6"/>
<line x1="264" x2="262.7" y1="563.16" y2="563.16" stroke="#8c8c8c" stroke-width="0.6"/>
<line x1="37.5" x2="38.8" y1="561.31" y2="561.31" stroke="#8c8c8c" stroke-width="0.6"/>
<line x1="264" x2="262.7" y1="561.31" y2="561.31" stroke="#8c8c8c" stroke-width="0.6"/>
<line x1="37.5" x2="38.8" y1="559.87" y2="559.87" stroke="#8c8c8c" stroke-width="0.6"/>
<line x1="264" x2="262.7" y1="559.87" y2="559.87" stroke="#8c8c8c" stroke-width="0.6"/>
<line x1="37.5" x2="38.8" y1="558.69" y2="558.69" stroke="#8c8c8c" stroke-width="0.6"/>
<line x1="264" x2="262.7" y1="558.69" y2="558.69" stroke="#8c8c8c" stroke-width="0.6"/>
<line x1="37.5" x2="38.8" y1="557.70" y2="557.70" stroke="#8c8c8c" stroke-width="0.6"/>
<line x1="264" x2="262.7" y1="557.70" y2="557.70" stroke="#8c8c8c" stroke-width="0.6"/>
<line x1="37.5" x2="38.8" y1="556.84" y2="556.84" stroke="#8c8c8c" stroke-width="0.6"/>
<line x1="264" x2="262.7" y1="556.84" y2="556.84" stroke="#8c8c8c" stroke-width="0.6"/>
<line x1="37.5" x2="38.8" y1="556.08" y2="556.08" stroke="#8c8c8c" stroke-width="0.6"/>
<line x1="264" x2="262.7" y1="556.08" y2="556.08" stroke="#8c8c8c" stroke-width="0.6"/>
<line x1="37.5" x2="38.8" y1="570.25" y2="570.25" stroke="#8c8c8c" stroke-width="0.6"/>
<line x1="264" x2="262.7" y1="570.25" y2="570.25" stroke="#8c8c8c" stroke-width="0.6"/>
<line x1="37.5" x2="38.8" y1="550.93" y2="550.93" stroke="#8c8c8c" stroke-width="0.6"/>
<line x1="264" x2="262.7" y1="550.93" y2="550.93" stroke="#8c8c8c" stroke-width="0.6"/>
<line x1="37.5" x2="38.8" y1="548.31" y2="548.31" stroke="#8c8c8c" stroke-width="0.6"/>
<line x1="264" x2="262.7" y1="548.31" y2="548.31" stroke="#8c8c8c" stroke-width="0.6"/>
<line x1="37.5" x2="38.8" y1="546.46" y2="546.46" stroke="#8c8c8c" stroke-width="0.6"/>
<line x1="264" x2="262.7" y1="546.46" y2="546.46" stroke="#8c8c8c" stroke-width="0.6"/>
<line x1="37.5" x2="38.8" y1="545.02" y2="545.02" stroke="#8c8c8c" stroke-width="0.6"/>
<line x1="264" x2="262.7" y1="545.02" y2="545.02" stroke="#8c8c8c" stroke-width="0.6"/>
<line x1="37.5" x2="38.8" y1="543.84" y2="543.84" stroke="#8c8c8c" stroke-width="0.6"/>
<line x1="264" x2="262.7" y1="543.84" y2="543.84" stroke="#8c8c8c" stroke-width="0.6"/>
<line x1="37.5" x2="38.8" y1="542.85" y2="542.85" stroke="#8c8c8c" stroke-width="0.6"/>
<line x1="264" x2="262.7" y1="542.85" y2="542.85" stroke="#8c8c8c" stroke-width="0.6"/>
<line x1="37.5" x2="38.8" y1="541.99" y2="541.99" stroke="#8c8c8c" stroke-width="0.6"/>
<line x1="264" x2="262.7" y1="541.99" y2="541.99" stroke="#8c8c8c" stroke-width="0.6"/>
<line x1="37.5" x2="38.8" y1="541.23" y2="541.23" stroke="#8c8c8c" stroke-width="0.6"/>
<line x1="264" x2="262.7" y1="541.23" y2="541.23" stroke="#8c8c8c" stroke-width="0.6"/>
<line x1="37.5" x2="38.8" y1="536.08" y2="536.08" stroke="#8c8c8c" stroke-width="0.6"/>
<line x1="264" x2="262.7" y1="536.08" y2="536.08" stroke="#8c8c8c" stroke-width="0.6"/>
<line x1="37.5" x2="38.8" y1="533.46" y2="533.46" stroke="#8c8c8c" stroke-width="0.6"/>
<line x1="264" x2="262.7" y1="533.46" y2="533.46" stroke="#8c8c8c" stroke-width="0.6"/>
<line x1="37.5" x2="38.8" y1="531.61" y2="531.61" stroke="#8c8c8c" stroke-width="0.6"/>
<line x1="264" x2="262.7" y1="531.61" y2="531.61" stroke="#8c8c8c" stroke-width="0.6"/>
<line x1="37.5" x2="38.8" y1="530.17" y2="530.17" stroke="#8c8c8c" stroke-width="0.6"/>
<line x1="264" x2="262.7" y1="530.17" y2="530.17" stroke="#8c8c8c" stroke-width="0.6"/>
<line x1="37.5" x2="38.8" y1="528.99" y2="528.99" stroke="#8c8c8c" stroke-width="0.6"/>
<line x1="264" x2="262.7" y1="528.99" y2="528.99" stroke="#8c8c8c" stroke-width="0.6"/>
<line x1="37.5" x2="38.8" y1="528.00" y2="528.00" stroke="#8c8c8c" stroke-width="0.6"/>
<line x1="264" x2="262.7" y1="528.00" y2="528.00" stroke="#8c8c8c" stroke-width="0.6"/>
<line x1="37.5" x2="38.8" y1="527.14" y2="527.14" stroke="#8c8c8c" stroke-width="0.6"/>
<line x1="264" x2="262.7" y1="527.14" y2="527.14" stroke="#8c8c8c" stroke-width="0.6"/>
<line x1="37.5" x2="38.8" y1="526.38" y2="526.38" stroke="#8c8c8c" stroke-width="0.6"/>
<line x1="264" x2="262.7" y1="526.38" y2="526.38" stroke="#8c8c8c" stroke-width="0.6"/>
<line x1="37.5" x2="38.8" y1="540.55" y2="540.55" stroke="#8c8c8c" stroke-width="0.6"/>
<line x1="264" x2="262.7" y1="540.55" y2="540.55" stroke="#8c8c8c" stroke-width="0.6"/>
<line x1="37.5" x2="38.8" y1="521.23" y2="521.23" stroke="#8c8c8c" stroke-width="0.6"/>
<line x1="264" x2="262.7" y1="521.23" y2="521.23" stroke="#8c8c8c" stroke-width="0.6"/>
<line x1="37.5" x2="38.8" y1="518.61" y2="518.61" stroke="#8c8c8c" stroke-width="0.6"/>
<line x1="264" x2="262.7" y1="518.61" y2="518.61" stroke="#8c8c8c" stroke-width="0.6"/>
<line x1="37.5" x2="38.8" y1="516.76" y2="516.76" stroke="#8c8c8c" stroke-width="0.6"/>
<line x1="264" x2="262.7" y1="516.76" y2="516.76" stroke="#8c8c8c" stroke-width="0.6"/>
<line x1="37.5" x2="38.8" y1="515.32" y2="515.32" stroke="#8c8c8c" stroke-width="0.6"/>
<line x1="264" x2="262.7" y1="515.32" y2="515.32" stroke="#8c8c8c" stroke-width="0.6"/>
<line x1="37.5" x2="38.8" y1="514.14" y2="514.14" stroke="#8c8c8c" stroke-width="0.6"/>
<line x1="264" x2="262.7" y1="514.14" y2="514.14" stroke="#8c8c8c" stroke-width="0.6"/>
<line x1="37.5" x2="38.8" y1="513.15" y2="513.15" stroke="#8c8c8c" stroke-width="0.6"/>
<line x1="264" x2="262.7" y1="513.15" y2="513.15" stroke="#8c8c8c" stroke-width="0.6"/>
<line x1="37.5" x2="38.8" y1="512.29" y2="512.29" stroke="#8c8c8c" stroke-width="0.6"/>
<line x1="264" x2="262.7" y1="512.29" y2="512.29" stroke="#8c8c8c" stroke-width="0.6"/>
<line x1="37.5" x2="38.8" y1="511.53" y2="511.53" stroke="#8c8c8c" stroke-width="0.6"/>
<line x1="264" x2="262.7" y1="511.53" y2="511.53" stroke="#8c8c8c" stroke-width="0.6"/>
<line x1="37.5" x2="38.8" y1="506.38" y2="506.38" stroke="#8c8c8c" stroke-width="0.6"/>
<line x1="264" x2="262.7" y1="506.38" y2="506.38" stroke="#8c8c8c" stroke-width="0.6"/>
<line x1="37.5" x2="38.8" y1="503.76" y2="503.76" stroke="#8c8c8c" stroke-width="0.6"/>
<line x1="264" x2="262.7" y1="503.76" y2="503.76" stroke="#8c8c8c" stroke-width="0.6"/>
<line x1="37.5" x2="38.8" y1="501.91" y2="501.91" stroke="#8c8c8c" stroke-width="0.6"/>
<line x1="264" x2="262.7" y1="501.91" y2="501.91" stroke="#8c8c8c" stroke-width="0.6"/>
<line x1="37.5" x2="38.8" y1="500.47" y2="500.47" stroke="#8c8c8c" stroke-width="0.6"/>
<line x1="264" x2="262.7" y1="500.47" y2="500.47" stroke="#8c8c8c" stroke-width="0.6"/>
<line x1="37.5" x2="38.8" y1="499.29" y2="499.29" stroke="#8c8c8c" stroke-width="0.6"/>
<line x1="264" x2="262.7" y1="499.29" y2="499.29" stroke="#8c8c8c" stroke-width="0.6"/>
<line x1="37.5" x2="38.8" y1="498.30" y2="498.30" stroke="#8c8c8c" stroke-width="0.6"/>
<line x1="264" x2="262.7" y1="498.30" y2="498.30" stroke="#8c8c8c" stroke-width="0.6"/>
<line x1="37.5" x2="38.8" y1="497.44" y2="497.44" stroke="#8c8c8c" stroke-width="0.6"/>
<line x1="264" x2="262.7" y1="497.44" y2="497.44" stroke="#8c8c8c" stroke-width="0.6"/>
<line x1="37.5" x2="38.8" y1="496.68" y2="496.68" stroke="#8c8c8c" stroke-width="0.6"/>
<line x1="264" x2="262.7" y1="496.68" y2="496.68" stroke="#8c8c8c" stroke-width="0.6"/>
<line x1="37.5" x2="38.8" y1="510.85" y2="510.85" stroke="#8c8c8c" stroke-width="0.6"/>
<line x1="264" x2="262.7" y1="510.85" y2="510.85" stroke="#8c8c8c" stroke-width="0.6"/>
<line x1="37.5" x2="38.8" y1="491.53" y2="491.53" stroke="#8c8c8c" stroke-width="0.6"/>
<line x1="264" x2="262.7" y1="491.53" y2="491.53" stroke="#8c8c8c" stroke-width="0.6"/>
<line x1="37.5" x2="38.8" y1="488.91" y2="488.91" stroke="#8c8c8c" stroke-width="0.6"/>
<line x1="264" x2="262.7" y1="488.91" y2="488.91" stroke="#8c8c8c" stroke-width="0.6"/>
<line x1="37.5" x2="38.8" y1="487.06" y2="487.06" stroke="#8c8c8c" stroke-width="0.6"/>
<line x1="264" x2="262.7" y1="487.06" y2="487.06" stroke="#8c8c8c" stroke-width="0.6"/>
<line x1="37.5" x2="38.8" y1="485.62" y2="485.62" stroke="#8c8c8c" stroke-width="0.6"/>
<line x1="264" x2="262.7" y1="485.62" y2="485.62" stroke="#8c8c8c" stroke-width="0.6"/>
<line x1="37.5" x2="38.8" y1="484.44" y2="484.44" stroke="#8c8c8c" stroke-width="0.6"/>
<line x1="264" x2="262.7" y1="484.44" y2="484.44" stroke="#8c8c8c" stroke-width="0.6"/>
<line x1="37.5" x2="38.8" y1="483.45" y2="483.45" stroke="#8c8c8c" stroke-width="0.6"/>
<line x1="264" x2="262.7" y1="483.45" y2="483.45" stroke="#8c8c8c" stroke-width="0.6"/>
<line x1="37.5" x2="38.8" y1="482.59" y2="482.59" stroke="#8c8c8c" stroke-width="0.6"/>
<line x1="264" x2="262.7" y1="482.59" y2="482.59" stroke="#8c8c8c" stroke-width="0.6"/>
<line x1="37.5" x2="38.8" y1="481.83" y2="481.83" stroke="#8c8c8c" stroke-width="0.6"/>
<line x1="264" x2="262.7" y1="481.83" y2="481.83" stroke="#8c8c8c" stroke-width="0.6"/>
<line x1="37.5" x2="38.8" y1="476.68" y2="476.68" stroke="#8c8c8c" stroke-width="0.6"/>
<line x1="264" x2="262.7" y1="476.68" y2="476.68" stroke="#8c8c8c" stroke-width="0.6"/>
<line x1="37.5" x2="38.8" y1="474.06" y2="474.06" stroke="#8c8c8c" stroke-width="0.6"/>
<line x1="264" x2="262.7" y1="474.06" y2="474.06" stroke="#8c8c8c" stroke-width="0.6"/>
<line x1="37.5" x2="38.8" y1="472.21" y2="472.21" stroke="#8c8c8c" stroke-width="0.6"/>
<line x1="264" x2="262.7" y1="472.21" y2="472.21" stroke="#8c8c8c" stroke-width="0.6"/>
<line x1="37.5" x2="38.8" y1="470.77" y2="470.77" stroke="#8c8c8c" stroke-width="0.6"/>
<line x1="264" x2="262.7" y1="470.77" y2="470.77" stroke="#8c8c8c" stroke-width="0.6"/>
<line x1="37.5" x2="38.8" y1="469.59" y2="469.59" stroke="#8c8c8c" stroke-width="0.6"/>
<line x1="264" x2="262.7" y1="469.59" y2="469.59" stroke="#8c8c8c" stroke-width="0.6"/>
<line x1="37.5" x2="38.8" y1="468.60" y2="468.60" stroke="#8c8c8c" stroke-width="0.6"/>
<line x1="264" x2="262.7" y1="468.60" y2="468.60" stroke="#8c8c8c" stroke-width="0.6"/>
<line x1="37.5" x2="38.8" y1="467.74" y2="467.74" stroke="#8c8c8c" stroke-width="0.6"/>
<line x1="264" x2="262.7" y1="467.74" y2="467.74" stroke="#8c8c8c" stroke-width="0.6"/>
<line x1="37.5" x2="38.8" y1="466.98" y2="466.98" stroke="#8c8c8c" stroke-width="0.6"/>
<line x1="264" x2="262.7" y1="466.98" y2="466.98" stroke="#8c8c8c" stroke-width="0.6"/>
<line x1="37.5" x2="38.8" y1="481.15" y2="481.15" stroke="#8c8c8c" stroke-width="0.6"/>
<line x1="264" x2="262.7" y1="481.15" y2="481.15" stroke="#8c8c8c" stroke-width="0.6"/>
<line x1="37.5" x2="39.7" y1="466.30" y2="466.30" stroke="#8c8c8c" stroke-width="0.8"/>
<line x1="264" x2="261.8" y1="466.30" y2="466.30" stroke="#8c8c8c" stroke-width="0.8"/>
<text x="34.60" y="469.90" text-anchor="end" font-family="Liberation Sans" font-size="6.9" fill="#4a4a4a">10<tspan dy="-3.2" font-size="5.4">10</tspan></text>
<line x1="37.5" x2="39.7" y1="496.00" y2="496.00" stroke="#8c8c8c" stroke-width="0.8"/>
<line x1="264" x2="261.8" y1="496.00" y2="496.00" stroke="#8c8c8c" stroke-width="0.8"/>
<text x="34.60" y="499.60" text-anchor="end" font-family="Liberation Sans" font-size="6.9" fill="#4a4a4a">10<tspan dy="-3.2" font-size="5.4">8</tspan></text>
<line x1="37.5" x2="39.7" y1="525.70" y2="525.70" stroke="#8c8c8c" stroke-width="0.8"/>
<line x1="264" x2="261.8" y1="525.70" y2="525.70" stroke="#8c8c8c" stroke-width="0.8"/>
<text x="34.60" y="529.30" text-anchor="end" font-family="Liberation Sans" font-size="6.9" fill="#4a4a4a">10<tspan dy="-3.2" font-size="5.4">6</tspan></text>
<line x1="37.5" x2="39.7" y1="555.40" y2="555.40" stroke="#8c8c8c" stroke-width="0.8"/>
<line x1="264" x2="261.8" y1="555.40" y2="555.40" stroke="#8c8c8c" stroke-width="0.8"/>
<text x="34.60" y="559.00" text-anchor="end" font-family="Liberation Sans" font-size="6.9" fill="#4a4a4a">10<tspan dy="-3.2" font-size="5.4">4</tspan></text>
<line x1="37.5" x2="39.7" y1="585.10" y2="585.10" stroke="#8c8c8c" stroke-width="0.8"/>
<line x1="264" x2="261.8" y1="585.10" y2="585.10" stroke="#8c8c8c" stroke-width="0.8"/>
<text x="34.60" y="588.70" text-anchor="end" font-family="Liberation Sans" font-size="6.9" fill="#4a4a4a">10<tspan dy="-3.2" font-size="5.4">2</tspan></text>
<line x1="37.5" x2="39.7" y1="614.80" y2="614.80" stroke="#8c8c8c" stroke-width="0.8"/>
<line x1="264" x2="261.8" y1="614.80" y2="614.80" stroke="#8c8c8c" stroke-width="0.8"/>
<text x="34.60" y="618.40" text-anchor="end" font-family="Liberation Sans" font-size="6.9" fill="#4a4a4a">10<tspan dy="-3.2" font-size="5.4">0</tspan></text>
<line x1="37.5" x2="39.7" y1="644.50" y2="644.50" stroke="#8c8c8c" stroke-width="0.8"/>
<line x1="264" x2="261.8" y1="644.50" y2="644.50" stroke="#8c8c8c" stroke-width="0.8"/>
<text x="34.60" y="648.10" text-anchor="end" font-family="Liberation Sans" font-size="6.9" fill="#4a4a4a">10<tspan dy="-3.2" font-size="5.4">-2</tspan></text>
<line x1="37.50" x2="37.50" y1="644.2" y2="642.0" stroke="#8c8c8c" stroke-width="0.8"/>
<text x="37.50" y="654.60" text-anchor="middle" font-family="Liberation Sans" font-size="7.3" fill="#4a4a4a">0</text>
<line x1="82.80" x2="82.80" y1="644.2" y2="642.0" stroke="#8c8c8c" stroke-width="0.8"/>
<text x="82.80" y="654.60" text-anchor="middle" font-family="Liberation Sans" font-size="7.3" fill="#4a4a4a">100</text>
<line x1="128.10" x2="128.10" y1="644.2" y2="642.0" stroke="#8c8c8c" stroke-width="0.8"/>
<text x="128.10" y="654.60" text-anchor="middle" font-family="Liberation Sans" font-size="7.3" fill="#4a4a4a">200</text>
<line x1="173.40" x2="173.40" y1="644.2" y2="642.0" stroke="#8c8c8c" stroke-width="0.8"/>
<text x="173.40" y="654.60" text-anchor="middle" font-family="Liberation Sans" font-size="7.3" fill="#4a4a4a">300</text>
<line x1="218.70" x2="218.70" y1="644.2" y2="642.0" stroke="#8c8c8c" stroke-width="0.8"/>
<text x="218.70" y="654.60" text-anchor="middle" font-family="Liberation Sans" font-size="7.3" fill="#4a4a4a">400</text>
<line x1="264.00" x2="264.00" y1="644.2" y2="642.0" stroke="#8c8c8c" stroke-width="0.8"/>
<text x="264.00" y="654.60" text-anchor="middle" font-family="Liberation Sans" font-size="7.3" fill="#4a4a4a">500</text>
<text transform="translate(146,459.5) scale(1.45,1)" font-family="Liberation Serif" font-style="italic" font-size="11.5" fill="#1a1a1a" stroke="#1a1a1a" stroke-width="0.08">f</text><text x="151.75" y="462.3" font-family="Liberation Serif" font-size="5.75" fill="#1a1a1a" stroke="#1a1a1a" stroke-width="0.2">5</text>
<text transform="translate(6.7,551) rotate(-90)" text-anchor="middle" font-family="Liberation Serif" font-weight="bold" font-size="8.95" fill="#1a1a1a" dy="3">Mean of objective function values</text>
<text x="153" y="666.5" text-anchor="middle" font-family="Liberation Serif" font-weight="bold" font-size="8.1" fill="#1a1a1a">Iteration</text>
<text x="267.9" y="662.6" text-anchor="middle" font-family="Liberation Serif" font-weight="bold" font-size="8.6" fill="#1a1a1a">(e)</text>
<rect x="216.7" y="476" width="36.900000000000006" height="39" fill="#fff" stroke="#555" stroke-width="0.8"/>
<line x1="219.30" x2="237.20" y1="480.60" y2="480.60" stroke="#22e4dc" stroke-width="0.8"/>
<circle cx="228.25" cy="480.60" r="1.95" fill="#22e4dc" stroke="#22e4dc" stroke-width="0.5"/>
<text x="239.20" y="482.60" font-family="Liberation Sans" font-size="5.7" fill="#222" stroke="#222" stroke-width="0.18">PSO</text>
<line x1="219.30" x2="237.20" y1="488.01" y2="488.01" stroke="#3a3ae6" stroke-width="0.8"/>
<path d="M228.25,485.55L230.59,489.74L225.91,489.74Z" fill="#7878ee" stroke="#3a3ae6" stroke-width="1"/>
<text x="239.20" y="490.01" font-family="Liberation Sans" font-size="5.7" fill="#222" stroke="#222" stroke-width="0.18">GWO</text>
<line x1="219.30" x2="237.20" y1="495.42" y2="495.42" stroke="#22dd22" stroke-width="0.8"/>
<circle cx="228.25" cy="495.42" r="1.61" fill="#22dd22"/>
<text x="239.20" y="497.42" font-family="Liberation Sans" font-size="5.7" fill="#222" stroke="#222" stroke-width="0.18">WOA</text>
<line x1="219.30" x2="237.20" y1="502.83" y2="502.83" stroke="#222222" stroke-width="0.8"/>
<path d="M230.72,502.83L226.52,500.49L226.52,505.17Z" fill="#c4c4c4" stroke="#222222" stroke-width="0.95"/>
<text x="239.20" y="504.83" font-family="Liberation Sans" font-size="5.7" fill="#222" stroke="#222" stroke-width="0.18">SSA</text>
<line x1="219.30" x2="237.20" y1="510.24" y2="510.24" stroke="#e84848" stroke-width="0.8"/>
<rect x="226.59" y="508.58" width="3.31" height="3.31" fill="none" stroke="#e84848" stroke-width="0.75"/><path d="M226.59,508.58L229.91,511.90M229.91,508.58L226.59,511.90" stroke="#e84848" stroke-width="0.5"/>
<text x="239.20" y="512.24" font-family="Liberation Sans" font-size="5.7" fill="#222" stroke="#222" stroke-width="0.18">ISSA</text>
<rect x="54.5" y="478.7" width="128.0" height="24.80000000000001" fill="#fff" stroke="#555" stroke-width="0.9"/>
<text transform="translate(56.80,494.80) scale(1.3,1)" font-family="Liberation Serif" font-size="10" font-style="italic" font-weight="bold" fill="#2a2a2a" stroke="#2a2a2a" stroke-width="0.22">f</text><text x="60.90" y="496.60" font-family="Liberation Serif" font-size="5.5" fill="#2a2a2a" stroke="#2a2a2a" stroke-width="0.22">5</text><text x="65.00" y="494.80" font-family="Liberation Serif" font-size="10" fill="#2a2a2a" stroke="#2a2a2a" stroke-width="0.22">(</text><text x="67.60" y="494.80" font-family="Liberation Serif" font-size="10" font-style="italic" fill="#2a2a2a" stroke="#2a2a2a" stroke-width="0.22">x</text><text x="74.40" y="494.80" font-family="Liberation Serif" font-size="10" fill="#2a2a2a" stroke="#2a2a2a" stroke-width="0.22">)</text><text x="78.20" y="494.80" font-family="Liberation Serif" font-size="6" fill="#555555" stroke="#555555" stroke-width="0.22">=</text><text x="84.60" y="496.20" font-family="Liberation Serif" font-size="11.5" fill="#2a2a2a" stroke="#2a2a2a" stroke-width="0.22">∑</text><text x="88.00" y="485.20" font-family="Liberation Serif" font-size="4" font-style="italic" text-anchor="middle" fill="#555555" stroke="#555555" stroke-width="0.22">D−1</text><text x="88.00" y="500.80" font-family="Liberation Serif" font-size="4" text-anchor="middle" fill="#555555" stroke="#555555" stroke-width="0.22">i=1</text><text x="92.20" y="495.80" font-family="Liberation Serif" font-size="12.5" fill="#555555" stroke="#555555" stroke-width="0.22">[</text><text x="95.60" y="494.80" font-family="Liberation Serif" font-size="7.4" fill="#555555" stroke="#555555" stroke-width="0.22">100(x</text><text x="112.80" y="496.60" font-family="Liberation Serif" font-size="4.2" font-style="italic" fill="#555555" stroke="#555555" stroke-width="0.22">i+1</text><text x="120.00" y="494.80" font-family="Liberation Serif" font-size="7.4" fill="#555555" stroke="#555555" stroke-width="0.22">−</text><text x="124.50" y="494.80" font-family="Liberation Serif" font-size="7.4" font-style="italic" fill="#555555" stroke="#555555" stroke-width="0.22">x</text><text x="128.30" y="490.40" font-family="Liberation Serif" font-size="4.2" fill="#555555" stroke="#555555" stroke-width="0.22">2</text><text x="128.00" y="496.60" font-family="Liberation Serif" font-size="4.2" font-style="italic" fill="#555555" stroke="#555555" stroke-width="0.22">i</text><text x="131.60" y="494.80" font-family="Liberation Serif" font-size="7.4" fill="#555555" stroke="#555555" stroke-width="0.22">)</text><text x="134.40" y="490.40" font-family="Liberation Serif" font-size="4.2" fill="#555555" stroke="#555555" stroke-width="0.22">2</text><text x="140.00" y="494.80" font-family="Liberation Serif" font-size="7.4" fill="#555555" stroke="#555555" stroke-width="0.22">+</text><text x="146.20" y="494.80" font-family="Liberation Serif" font-size="7.4" fill="#555555" stroke="#555555" stroke-width="0.22">(x</text><text x="151.80" y="496.60" font-family="Liberation Serif" font-size="4.2" font-style="italic" fill="#555555" stroke="#555555" stroke-width="0.22">i</text><text x="154.00" y="494.80" font-family="Liberation Serif" font-size="7.4" fill="#555555" stroke="#555555" stroke-width="0.22">−</text><text x="159.80" y="494.80" font-family="Liberation Serif" font-size="7.4" fill="#555555" stroke="#555555" stroke-width="0.22">1)</text><text x="165.30" y="490.40" font-family="Liberation Serif" font-size="4.2" fill="#555555" stroke="#555555" stroke-width="0.22">2</text><text x="170.40" y="495.80" font-family="Liberation Serif" font-size="12.5" fill="#555555" stroke="#555555" stroke-width="0.22">]</text>
<clipPath id="cf"><rect x="306.3" y="465.6" width="227.7" height="179.79999999999995"/></clipPath>
<rect x="306.3" y="465.6" width="227.7" height="179.79999999999995" fill="#fff"/>
<line x1="306.3" x2="534" y1="640.08" y2="640.08" stroke="#f2f2f2" stroke-width="0.7"/>
<line x1="306.3" x2="534" y1="636.91" y2="636.91" stroke="#f2f2f2" stroke-width="0.7"/>
<line x1="306.3" x2="534" y1="634.66" y2="634.66" stroke="#f2f2f2" stroke-width="0.7"/>
<line x1="306.3" x2="534" y1="632.92" y2="632.92" stroke="#f2f2f2" stroke-width="0.7"/>
<line x1="306.3" x2="534" y1="631.49" y2="631.49" stroke="#f2f2f2" stroke-width="0.7"/>
<line x1="306.3" x2="534" y1="630.29" y2="630.29" stroke="#f2f2f2" stroke-width="0.7"/>
<line x1="306.3" x2="534" y1="629.24" y2="629.24" stroke="#f2f2f2" stroke-width="0.7"/>
<line x1="306.3" x2="534" y1="628.32" y2="628.32" stroke="#f2f2f2" stroke-width="0.7"/>
<line x1="306.3" x2="534" y1="622.08" y2="622.08" stroke="#f2f2f2" stroke-width="0.7"/>
<line x1="306.3" x2="534" y1="618.91" y2="618.91" stroke="#f2f2f2" stroke-width="0.7"/>
<line x1="306.3" x2="534" y1="616.66" y2="616.66" stroke="#f2f2f2" stroke-width="0.7"/>
<line x1="306.3" x2="534" y1="614.92" y2="614.92" stroke="#f2f2f2" stroke-width="0.7"/>
<line x1="306.3" x2="534" y1="613.49" y2="613.49" stroke="#f2f2f2" stroke-width="0.7"/>
<line x1="306.3" x2="534" y1="612.29" y2="612.29" stroke="#f2f2f2" stroke-width="0.7"/>
<line x1="306.3" x2="534" y1="611.24" y2="611.24" stroke="#f2f2f2" stroke-width="0.7"/>
<line x1="306.3" x2="534" y1="610.32" y2="610.32" stroke="#f2f2f2" stroke-width="0.7"/>
<line x1="306.3" x2="534" y1="627.50" y2="627.50" stroke="#f2f2f2" stroke-width="0.7"/>
<line x1="306.3" x2="534" y1="604.08" y2="604.08" stroke="#f2f2f2" stroke-width="0.7"/>
<line x1="306.3" x2="534" y1="600.91" y2="600.91" stroke="#f2f2f2" stroke-width="0.7"/>
<line x1="306.3" x2="534" y1="598.66" y2="598.66" stroke="#f2f2f2" stroke-width="0.7"/>
<line x1="306.3" x2="534" y1="596.92" y2="596.92" stroke="#f2f2f2" stroke-width="0.7"/>
<line x1="306.3" x2="534" y1="595.49" y2="595.49" stroke="#f2f2f2" stroke-width="0.7"/>
<line x1="306.3" x2="534" y1="594.29" y2="594.29" stroke="#f2f2f2" stroke-width="0.7"/>
<line x1="306.3" x2="534" y1="593.24" y2="593.24" stroke="#f2f2f2" stroke-width="0.7"/>
<line x1="306.3" x2="534" y1="592.32" y2="592.32" stroke="#f2f2f2" stroke-width="0.7"/>
<line x1="306.3" x2="534" y1="586.08" y2="586.08" stroke="#f2f2f2" stroke-width="0.7"/>
<line x1="306.3" x2="534" y1="582.91" y2="582.91" stroke="#f2f2f2" stroke-width="0.7"/>
<line x1="306.3" x2="534" y1="580.66" y2="580.66" stroke="#f2f2f2" stroke-width="0.7"/>
<line x1="306.3" x2="534" y1="578.92" y2="578.92" stroke="#f2f2f2" stroke-width="0.7"/>
<line x1="306.3" x2="534" y1="577.49" y2="577.49" stroke="#f2f2f2" stroke-width="0.7"/>
<line x1="306.3" x2="534" y1="576.29" y2="576.29" stroke="#f2f2f2" stroke-width="0.7"/>
<line x1="306.3" x2="534" y1="575.24" y2="575.24" stroke="#f2f2f2" stroke-width="0.7"/>
<line x1="306.3" x2="534" y1="574.32" y2="574.32" stroke="#f2f2f2" stroke-width="0.7"/>
<line x1="306.3" x2="534" y1="591.50" y2="591.50" stroke="#f2f2f2" stroke-width="0.7"/>
<line x1="306.3" x2="534" y1="568.08" y2="568.08" stroke="#f2f2f2" stroke-width="0.7"/>
<line x1="306.3" x2="534" y1="564.91" y2="564.91" stroke="#f2f2f2" stroke-width="0.7"/>
<line x1="306.3" x2="534" y1="562.66" y2="562.66" stroke="#f2f2f2" stroke-width="0.7"/>
<line x1="306.3" x2="534" y1="560.92" y2="560.92" stroke="#f2f2f2" stroke-width="0.7"/>
<line x1="306.3" x2="534" y1="559.49" y2="559.49" stroke="#f2f2f2" stroke-width="0.7"/>
<line x1="306.3" x2="534" y1="558.29" y2="558.29" stroke="#f2f2f2" stroke-width="0.7"/>
<line x1="306.3" x2="534" y1="557.24" y2="557.24" stroke="#f2f2f2" stroke-width="0.7"/>
<line x1="306.3" x2="534" y1="556.32" y2="556.32" stroke="#f2f2f2" stroke-width="0.7"/>
<line x1="306.3" x2="534" y1="550.08" y2="550.08" stroke="#f2f2f2" stroke-width="0.7"/>
<line x1="306.3" x2="534" y1="546.91" y2="546.91" stroke="#f2f2f2" stroke-width="0.7"/>
<line x1="306.3" x2="534" y1="544.66" y2="544.66" stroke="#f2f2f2" stroke-width="0.7"/>
<line x1="306.3" x2="534" y1="542.92" y2="542.92" stroke="#f2f2f2" stroke-width="0.7"/>
<line x1="306.3" x2="534" y1="541.49" y2="541.49" stroke="#f2f2f2" stroke-width="0.7"/>
<line x1="306.3" x2="534" y1="540.29" y2="540.29" stroke="#f2f2f2" stroke-width="0.7"/>
<line x1="306.3" x2="534" y1="539.24" y2="539.24" stroke="#f2f2f2" stroke-width="0.7"/>
<line x1="306.3" x2="534" y1="538.32" y2="538.32" stroke="#f2f2f2" stroke-width="0.7"/>
<line x1="306.3" x2="534" y1="555.50" y2="555.50" stroke="#f2f2f2" stroke-width="0.7"/>
<line x1="306.3" x2="534" y1="532.08" y2="532.08" stroke="#f2f2f2" stroke-width="0.7"/>
<line x1="306.3" x2="534" y1="528.91" y2="528.91" stroke="#f2f2f2" stroke-width="0.7"/>
<line x1="306.3" x2="534" y1="526.66" y2="526.66" stroke="#f2f2f2" stroke-width="0.7"/>
<line x1="306.3" x2="534" y1="524.92" y2="524.92" stroke="#f2f2f2" stroke-width="0.7"/>
<line x1="306.3" x2="534" y1="523.49" y2="523.49" stroke="#f2f2f2" stroke-width="0.7"/>
<line x1="306.3" x2="534" y1="522.29" y2="522.29" stroke="#f2f2f2" stroke-width="0.7"/>
<line x1="306.3" x2="534" y1="521.24" y2="521.24" stroke="#f2f2f2" stroke-width="0.7"/>
<line x1="306.3" x2="534" y1="520.32" y2="520.32" stroke="#f2f2f2" stroke-width="0.7"/>
<line x1="306.3" x2="534" y1="514.08" y2="514.08" stroke="#f2f2f2" stroke-width="0.7"/>
<line x1="306.3" x2="534" y1="510.91" y2="510.91" stroke="#f2f2f2" stroke-width="0.7"/>
<line x1="306.3" x2="534" y1="508.66" y2="508.66" stroke="#f2f2f2" stroke-width="0.7"/>
<line x1="306.3" x2="534" y1="506.92" y2="506.92" stroke="#f2f2f2" stroke-width="0.7"/>
<line x1="306.3" x2="534" y1="505.49" y2="505.49" stroke="#f2f2f2" stroke-width="0.7"/>
<line x1="306.3" x2="534" y1="504.29" y2="504.29" stroke="#f2f2f2" stroke-width="0.7"/>
<line x1="306.3" x2="534" y1="503.24" y2="503.24" stroke="#f2f2f2" stroke-width="0.7"/>
<line x1="306.3" x2="534" y1="502.32" y2="502.32" stroke="#f2f2f2" stroke-width="0.7"/>
<line x1="306.3" x2="534" y1="519.50" y2="519.50" stroke="#f2f2f2" stroke-width="0.7"/>
<line x1="306.3" x2="534" y1="496.08" y2="496.08" stroke="#f2f2f2" stroke-width="0.7"/>
<line x1="306.3" x2="534" y1="492.91" y2="492.91" stroke="#f2f2f2" stroke-width="0.7"/>
<line x1="306.3" x2="534" y1="490.66" y2="490.66" stroke="#f2f2f2" stroke-width="0.7"/>
<line x1="306.3" x2="534" y1="488.92" y2="488.92" stroke="#f2f2f2" stroke-width="0.7"/>
<line x1="306.3" x2="534" y1="487.49" y2="487.49" stroke="#f2f2f2" stroke-width="0.7"/>
<line x1="306.3" x2="534" y1="486.29" y2="486.29" stroke="#f2f2f2" stroke-width="0.7"/>
<line x1="306.3" x2="534" y1="485.24" y2="485.24" stroke="#f2f2f2" stroke-width="0.7"/>
<line x1="306.3" x2="534" y1="484.32" y2="484.32" stroke="#f2f2f2" stroke-width="0.7"/>
<line x1="306.3" x2="534" y1="478.08" y2="478.08" stroke="#f2f2f2" stroke-width="0.7"/>
<line x1="306.3" x2="534" y1="474.91" y2="474.91" stroke="#f2f2f2" stroke-width="0.7"/>
<line x1="306.3" x2="534" y1="472.66" y2="472.66" stroke="#f2f2f2" stroke-width="0.7"/>
<line x1="306.3" x2="534" y1="470.92" y2="470.92" stroke="#f2f2f2" stroke-width="0.7"/>
<line x1="306.3" x2="534" y1="469.49" y2="469.49" stroke="#f2f2f2" stroke-width="0.7"/>
<line x1="306.3" x2="534" y1="468.29" y2="468.29" stroke="#f2f2f2" stroke-width="0.7"/>
<line x1="306.3" x2="534" y1="467.24" y2="467.24" stroke="#f2f2f2" stroke-width="0.7"/>
<line x1="306.3" x2="534" y1="466.32" y2="466.32" stroke="#f2f2f2" stroke-width="0.7"/>
<line x1="306.3" x2="534" y1="483.50" y2="483.50" stroke="#f2f2f2" stroke-width="0.7"/>
<line x1="306.3" x2="534" y1="501.50" y2="501.50" stroke="#e6e6e6" stroke-width="0.8"/>
<line x1="306.3" x2="534" y1="537.50" y2="537.50" stroke="#e6e6e6" stroke-width="0.8"/>
<line x1="306.3" x2="534" y1="573.50" y2="573.50" stroke="#e6e6e6" stroke-width="0.8"/>
<line x1="306.3" x2="534" y1="609.50" y2="609.50" stroke="#e6e6e6" stroke-width="0.8"/>
<line x1="351.84" x2="351.84" y1="465.6" y2="645.4" stroke="#e6e6e6" stroke-width="0.8"/>
<line x1="397.38" x2="397.38" y1="465.6" y2="645.4" stroke="#e6e6e6" stroke-width="0.8"/>
<line x1="442.92" x2="442.92" y1="465.6" y2="645.4" stroke="#e6e6e6" stroke-width="0.8"/>
<line x1="488.46" x2="488.46" y1="465.6" y2="645.4" stroke="#e6e6e6" stroke-width="0.8"/>
<rect x="306.3" y="465.6" width="227.7" height="179.79999999999995" fill="none" stroke="#8c8c8c" stroke-width="1.0"/>
<path d="M306.10,486.10 L313.50,501.80 L321.80,505.10 L330.50,507.30 L338.20,508.40 L345.80,510.50 L353.50,511.60 L361.10,513.20 L368.70,514.90 L376.40,517.10 L384.00,519.30 L391.60,521.00 L399.30,523.60 L406.90,526.00 L417.80,530.00 L424.20,533.60 L432.50,537.90 L439.50,541.90 L447.80,546.60 L456.10,552.10 L463.20,556.80 L471.50,562.50 L478.60,569.10 L486.80,575.00 L495.10,580.90 L502.20,588.00 L510.50,593.90 L517.60,599.80 L525.80,606.50 L534.10,609.30" fill="none" stroke="#22e4dc" stroke-width="1.0" stroke-linejoin="round" clip-path="url(#cf)"/>
<circle cx="306.30" cy="486.52" r="2.30" fill="#22e4dc" stroke="#22e4dc" stroke-width="0.5"/>
<circle cx="314.15" cy="502.06" r="2.30" fill="#22e4dc" stroke="#22e4dc" stroke-width="0.5"/>
<circle cx="322.00" cy="505.15" r="2.30" fill="#22e4dc" stroke="#22e4dc" stroke-width="0.5"/>
<circle cx="329.86" cy="507.14" r="2.30" fill="#22e4dc" stroke="#22e4dc" stroke-width="0.5"/>
<circle cx="337.71" cy="508.33" r="2.30" fill="#22e4dc" stroke="#22e4dc" stroke-width="0.5"/>
<circle cx="345.56" cy="510.43" r="2.30" fill="#22e4dc" stroke="#22e4dc" stroke-width="0.5"/>
<circle cx="353.41" cy="511.59" r="2.30" fill="#22e4dc" stroke="#22e4dc" stroke-width="0.5"/>
<circle cx="361.26" cy="513.24" r="2.30" fill="#22e4dc" stroke="#22e4dc" stroke-width="0.5"/>
<circle cx="369.11" cy="515.02" r="2.30" fill="#22e4dc" stroke="#22e4dc" stroke-width="0.5"/>
<circle cx="376.97" cy="517.26" r="2.30" fill="#22e4dc" stroke="#22e4dc" stroke-width="0.5"/>
<circle cx="384.82" cy="519.48" r="2.30" fill="#22e4dc" stroke="#22e4dc" stroke-width="0.5"/>
<circle cx="392.67" cy="521.36" r="2.30" fill="#22e4dc" stroke="#22e4dc" stroke-width="0.5"/>
<circle cx="400.52" cy="523.99" r="2.30" fill="#22e4dc" stroke="#22e4dc" stroke-width="0.5"/>
<circle cx="408.37" cy="526.54" r="2.30" fill="#22e4dc" stroke="#22e4dc" stroke-width="0.5"/>
<circle cx="416.22" cy="529.42" r="2.30" fill="#22e4dc" stroke="#22e4dc" stroke-width="0.5"/>
<circle cx="424.08" cy="533.53" r="2.30" fill="#22e4dc" stroke="#22e4dc" stroke-width="0.5"/>
<circle cx="431.93" cy="537.60" r="2.30" fill="#22e4dc" stroke="#22e4dc" stroke-width="0.5"/>
<circle cx="439.78" cy="542.06" r="2.30" fill="#22e4dc" stroke="#22e4dc" stroke-width="0.5"/>
<circle cx="447.63" cy="546.50" r="2.30" fill="#22e4dc" stroke="#22e4dc" stroke-width="0.5"/>
<circle cx="455.48" cy="551.69" r="2.30" fill="#22e4dc" stroke="#22e4dc" stroke-width="0.5"/>
<circle cx="463.33" cy="556.89" r="2.30" fill="#22e4dc" stroke="#22e4dc" stroke-width="0.5"/>
<circle cx="471.19" cy="562.28" r="2.30" fill="#22e4dc" stroke="#22e4dc" stroke-width="0.5"/>
<circle cx="479.04" cy="569.42" r="2.30" fill="#22e4dc" stroke="#22e4dc" stroke-width="0.5"/>
<circle cx="486.89" cy="575.06" r="2.30" fill="#22e4dc" stroke="#22e4dc" stroke-width="0.5"/>
<circle cx="494.74" cy="580.65" r="2.30" fill="#22e4dc" stroke="#22e4dc" stroke-width="0.5"/>
<circle cx="502.59" cy="588.28" r="2.30" fill="#22e4dc" stroke="#22e4dc" stroke-width="0.5"/>
<circle cx="510.44" cy="593.86" r="2.30" fill="#22e4dc" stroke="#22e4dc" stroke-width="0.5"/>
<circle cx="518.30" cy="600.37" r="2.30" fill="#22e4dc" stroke="#22e4dc" stroke-width="0.5"/>
<circle cx="526.15" cy="606.62" r="2.30" fill="#22e4dc" stroke="#22e4dc" stroke-width="0.5"/>
<circle cx="534.00" cy="609.27" r="2.30" fill="#22e4dc" stroke="#22e4dc" stroke-width="0.5"/>
<path d="M306.10,486.10 L314.20,514.90 L321.80,547.60 L329.50,565.10 L337.10,568.40 L345.80,568.40 L353.50,569.50 L369.80,570.60 L391.60,572.10 L417.80,573.50 L534.10,576.20" fill="none" stroke="#3a3ae6" stroke-width="1.0" stroke-linejoin="round" clip-path="url(#cf)"/>
<path d="M306.30,483.91L309.06,488.84L303.55,488.84Z" fill="#7878ee" stroke="#3a3ae6" stroke-width="1"/>
<path d="M314.15,511.83L316.91,516.76L311.40,516.76Z" fill="#7878ee" stroke="#3a3ae6" stroke-width="1"/>
<path d="M322.00,545.16L324.76,550.09L319.25,550.09Z" fill="#7878ee" stroke="#3a3ae6" stroke-width="1"/>
<path d="M329.86,562.35L332.61,567.28L327.10,567.28Z" fill="#7878ee" stroke="#3a3ae6" stroke-width="1"/>
<path d="M337.71,565.50L340.46,570.43L334.95,570.43Z" fill="#7878ee" stroke="#3a3ae6" stroke-width="1"/>
<path d="M345.56,565.50L348.31,570.43L342.80,570.43Z" fill="#7878ee" stroke="#3a3ae6" stroke-width="1"/>
<path d="M353.41,566.59L356.17,571.52L350.66,571.52Z" fill="#7878ee" stroke="#3a3ae6" stroke-width="1"/>
<path d="M361.26,567.12L364.02,572.05L358.51,572.05Z" fill="#7878ee" stroke="#3a3ae6" stroke-width="1"/>
<path d="M369.11,567.65L371.87,572.58L366.36,572.58Z" fill="#7878ee" stroke="#3a3ae6" stroke-width="1"/>
<path d="M376.97,568.19L379.72,573.12L374.21,573.12Z" fill="#7878ee" stroke="#3a3ae6" stroke-width="1"/>
<path d="M384.82,568.73L387.57,573.66L382.06,573.66Z" fill="#7878ee" stroke="#3a3ae6" stroke-width="1"/>
<path d="M392.67,569.26L395.42,574.19L389.91,574.19Z" fill="#7878ee" stroke="#3a3ae6" stroke-width="1"/>
<path d="M400.52,569.68L403.28,574.61L397.77,574.61Z" fill="#7878ee" stroke="#3a3ae6" stroke-width="1"/>
<path d="M408.37,570.10L411.13,575.03L405.62,575.03Z" fill="#7878ee" stroke="#3a3ae6" stroke-width="1"/>
<path d="M416.22,570.52L418.98,575.45L413.47,575.45Z" fill="#7878ee" stroke="#3a3ae6" stroke-width="1"/>
<path d="M424.08,570.75L426.83,575.68L421.32,575.68Z" fill="#7878ee" stroke="#3a3ae6" stroke-width="1"/>
<path d="M431.93,570.93L434.68,575.86L429.17,575.86Z" fill="#7878ee" stroke="#3a3ae6" stroke-width="1"/>
<path d="M439.78,571.11L442.53,576.04L437.02,576.04Z" fill="#7878ee" stroke="#3a3ae6" stroke-width="1"/>
<path d="M447.63,571.29L450.39,576.22L444.88,576.22Z" fill="#7878ee" stroke="#3a3ae6" stroke-width="1"/>
<path d="M455.48,571.47L458.24,576.40L452.73,576.40Z" fill="#7878ee" stroke="#3a3ae6" stroke-width="1"/>
<path d="M463.33,571.66L466.09,576.59L460.58,576.59Z" fill="#7878ee" stroke="#3a3ae6" stroke-width="1"/>
<path d="M471.19,571.84L473.94,576.77L468.43,576.77Z" fill="#7878ee" stroke="#3a3ae6" stroke-width="1"/>
<path d="M479.04,572.02L481.79,576.95L476.28,576.95Z" fill="#7878ee" stroke="#3a3ae6" stroke-width="1"/>
<path d="M486.89,572.20L489.64,577.13L484.13,577.13Z" fill="#7878ee" stroke="#3a3ae6" stroke-width="1"/>
<path d="M494.74,572.39L497.50,577.32L491.99,577.32Z" fill="#7878ee" stroke="#3a3ae6" stroke-width="1"/>
<path d="M502.59,572.57L505.35,577.50L499.84,577.50Z" fill="#7878ee" stroke="#3a3ae6" stroke-width="1"/>
<path d="M510.44,572.75L513.20,577.68L507.69,577.68Z" fill="#7878ee" stroke="#3a3ae6" stroke-width="1"/>
<path d="M518.30,572.93L521.05,577.86L515.54,577.86Z" fill="#7878ee" stroke="#3a3ae6" stroke-width="1"/>
<path d="M526.15,573.12L528.90,578.05L523.39,578.05Z" fill="#7878ee" stroke="#3a3ae6" stroke-width="1"/>
<path d="M534.00,573.30L536.75,578.23L531.25,578.23Z" fill="#7878ee" stroke="#3a3ae6" stroke-width="1"/>
<path d="M306.10,486.10 L314.20,519.30 L321.80,544.40 L329.50,562.90 L338.20,569.50 L345.80,573.80 L361.10,575.60 L376.40,577.10 L399.30,579.80 L417.80,580.40 L534.10,580.90" fill="none" stroke="#22dd22" stroke-width="1.0" stroke-linejoin="round" clip-path="url(#cf)"/>
<circle cx="306.30" cy="486.92" r="1.90" fill="#22dd22"/>
<circle cx="314.15" cy="519.10" r="1.90" fill="#22dd22"/>
<circle cx="322.00" cy="544.89" r="1.90" fill="#22dd22"/>
<circle cx="329.86" cy="563.17" r="1.90" fill="#22dd22"/>
<circle cx="337.71" cy="569.13" r="1.90" fill="#22dd22"/>
<circle cx="345.56" cy="573.66" r="1.90" fill="#22dd22"/>
<circle cx="353.41" cy="574.70" r="1.90" fill="#22dd22"/>
<circle cx="361.26" cy="575.62" r="1.90" fill="#22dd22"/>
<circle cx="369.11" cy="576.39" r="1.90" fill="#22dd22"/>
<circle cx="376.97" cy="577.17" r="1.90" fill="#22dd22"/>
<circle cx="384.82" cy="578.09" r="1.90" fill="#22dd22"/>
<circle cx="392.67" cy="579.02" r="1.90" fill="#22dd22"/>
<circle cx="400.52" cy="579.84" r="1.90" fill="#22dd22"/>
<circle cx="408.37" cy="580.09" r="1.90" fill="#22dd22"/>
<circle cx="416.22" cy="580.35" r="1.90" fill="#22dd22"/>
<circle cx="424.08" cy="580.43" r="1.90" fill="#22dd22"/>
<circle cx="431.93" cy="580.46" r="1.90" fill="#22dd22"/>
<circle cx="439.78" cy="580.49" r="1.90" fill="#22dd22"/>
<circle cx="447.63" cy="580.53" r="1.90" fill="#22dd22"/>
<circle cx="455.48" cy="580.56" r="1.90" fill="#22dd22"/>
<circle cx="463.33" cy="580.60" r="1.90" fill="#22dd22"/>
<circle cx="471.19" cy="580.63" r="1.90" fill="#22dd22"/>
<circle cx="479.04" cy="580.66" r="1.90" fill="#22dd22"/>
<circle cx="486.89" cy="580.70" r="1.90" fill="#22dd22"/>
<circle cx="494.74" cy="580.73" r="1.90" fill="#22dd22"/>
<circle cx="502.59" cy="580.76" r="1.90" fill="#22dd22"/>
<circle cx="510.44" cy="580.80" r="1.90" fill="#22dd22"/>
<circle cx="518.30" cy="580.83" r="1.90" fill="#22dd22"/>
<circle cx="526.15" cy="580.87" r="1.90" fill="#22dd22"/>
<circle cx="534.00" cy="580.90" r="1.90" fill="#22dd22"/>
<path d="M306.10,548.70 L313.50,578.20 L321.80,585.80 L329.50,592.40 L338.20,596.70 L345.80,600.40 L353.50,603.90 L361.10,606.60 L368.70,609.20 L376.40,611.60 L384.00,614.20 L391.60,616.40 L399.30,618.60 L410.00,621.10 L433.60,627.00 L457.30,633.00 L480.90,637.70 L504.60,641.20 L534.10,644.80" fill="none" stroke="#222222" stroke-width="1.0" stroke-linejoin="round" clip-path="url(#cf)"/>
<path d="M309.20,549.50L304.27,546.74L304.27,552.25Z" fill="#c4c4c4" stroke="#222222" stroke-width="0.95"/>
<path d="M317.05,578.80L312.12,576.04L312.12,581.55Z" fill="#c4c4c4" stroke="#222222" stroke-width="0.95"/>
<path d="M324.90,585.97L319.97,583.22L319.97,588.73Z" fill="#c4c4c4" stroke="#222222" stroke-width="0.95"/>
<path d="M332.76,592.58L327.83,589.82L327.83,595.33Z" fill="#c4c4c4" stroke="#222222" stroke-width="0.95"/>
<path d="M340.61,596.46L335.68,593.70L335.68,599.21Z" fill="#c4c4c4" stroke="#222222" stroke-width="0.95"/>
<path d="M348.46,600.28L343.53,597.53L343.53,603.04Z" fill="#c4c4c4" stroke="#222222" stroke-width="0.95"/>
<path d="M356.31,603.86L351.38,601.10L351.38,606.61Z" fill="#c4c4c4" stroke="#222222" stroke-width="0.95"/>
<path d="M364.16,606.66L359.23,603.90L359.23,609.41Z" fill="#c4c4c4" stroke="#222222" stroke-width="0.95"/>
<path d="M372.01,609.33L367.08,606.57L367.08,612.08Z" fill="#c4c4c4" stroke="#222222" stroke-width="0.95"/>
<path d="M379.87,611.79L374.94,609.04L374.94,614.55Z" fill="#c4c4c4" stroke="#222222" stroke-width="0.95"/>
<path d="M387.72,614.44L382.79,611.68L382.79,617.19Z" fill="#c4c4c4" stroke="#222222" stroke-width="0.95"/>
<path d="M395.57,616.71L390.64,613.95L390.64,619.46Z" fill="#c4c4c4" stroke="#222222" stroke-width="0.95"/>
<path d="M403.42,618.89L398.49,616.13L398.49,621.64Z" fill="#c4c4c4" stroke="#222222" stroke-width="0.95"/>
<path d="M411.27,620.72L406.34,617.96L406.34,623.47Z" fill="#c4c4c4" stroke="#222222" stroke-width="0.95"/>
<path d="M419.12,622.66L414.19,619.90L414.19,625.41Z" fill="#c4c4c4" stroke="#222222" stroke-width="0.95"/>
<path d="M426.98,624.62L422.05,621.86L422.05,627.37Z" fill="#c4c4c4" stroke="#222222" stroke-width="0.95"/>
<path d="M434.83,626.58L429.90,623.83L429.90,629.34Z" fill="#c4c4c4" stroke="#222222" stroke-width="0.95"/>
<path d="M442.68,628.56L437.75,625.81L437.75,631.32Z" fill="#c4c4c4" stroke="#222222" stroke-width="0.95"/>
<path d="M450.53,630.55L445.60,627.80L445.60,633.31Z" fill="#c4c4c4" stroke="#222222" stroke-width="0.95"/>
<path d="M458.38,632.54L453.45,629.78L453.45,635.29Z" fill="#c4c4c4" stroke="#222222" stroke-width="0.95"/>
<path d="M466.23,634.20L461.30,631.45L461.30,636.96Z" fill="#c4c4c4" stroke="#222222" stroke-width="0.95"/>
<path d="M474.09,635.77L469.16,633.01L469.16,638.52Z" fill="#c4c4c4" stroke="#222222" stroke-width="0.95"/>
<path d="M481.94,637.33L477.01,634.57L477.01,640.08Z" fill="#c4c4c4" stroke="#222222" stroke-width="0.95"/>
<path d="M489.79,638.58L484.86,635.83L484.86,641.34Z" fill="#c4c4c4" stroke="#222222" stroke-width="0.95"/>
<path d="M497.64,639.74L492.71,636.99L492.71,642.50Z" fill="#c4c4c4" stroke="#222222" stroke-width="0.95"/>
<path d="M505.49,640.90L500.56,638.15L500.56,643.66Z" fill="#c4c4c4" stroke="#222222" stroke-width="0.95"/>
<path d="M513.34,641.91L508.41,639.16L508.41,644.67Z" fill="#c4c4c4" stroke="#222222" stroke-width="0.95"/>
<path d="M521.20,642.87L516.27,640.12L516.27,645.63Z" fill="#c4c4c4" stroke="#222222" stroke-width="0.95"/>
<path d="M529.05,643.83L524.12,641.07L524.12,646.58Z" fill="#c4c4c4" stroke="#222222" stroke-width="0.95"/>
<path d="M536.90,644.79L531.97,642.03L531.97,647.54Z" fill="#c4c4c4" stroke="#222222" stroke-width="0.95"/>
<path d="M306.10,548.70 L313.10,569.50 L321.80,571.20 L338.20,572.70 L353.50,573.80 L369.80,576.00 L391.60,578.20 L410.00,579.70 L457.30,582.10 L486.80,585.20 L534.10,589.20" fill="none" stroke="#e84848" stroke-width="1.0" stroke-linejoin="round" clip-path="url(#cf)"/>
<rect x="304.35" y="547.34" width="3.90" height="3.90" fill="none" stroke="#e84848" stroke-width="0.75"/><path d="M304.35,547.34L308.25,551.24M308.25,547.34L304.35,551.24" stroke="#e84848" stroke-width="0.5"/>
<rect x="312.20" y="567.76" width="3.90" height="3.90" fill="none" stroke="#e84848" stroke-width="0.75"/><path d="M312.20,567.76L316.10,571.66M316.10,567.76L312.20,571.66" stroke="#e84848" stroke-width="0.5"/>
<rect x="320.05" y="569.27" width="3.90" height="3.90" fill="none" stroke="#e84848" stroke-width="0.75"/><path d="M320.05,569.27L323.95,573.17M323.95,569.27L320.05,573.17" stroke="#e84848" stroke-width="0.5"/>
<rect x="327.91" y="569.99" width="3.90" height="3.90" fill="none" stroke="#e84848" stroke-width="0.75"/><path d="M327.91,569.99L331.81,573.89M331.81,569.99L327.91,573.89" stroke="#e84848" stroke-width="0.5"/>
<rect x="335.76" y="570.70" width="3.90" height="3.90" fill="none" stroke="#e84848" stroke-width="0.75"/><path d="M335.76,570.70L339.66,574.60M339.66,570.70L335.76,574.60" stroke="#e84848" stroke-width="0.5"/>
<rect x="343.61" y="571.28" width="3.90" height="3.90" fill="none" stroke="#e84848" stroke-width="0.75"/><path d="M343.61,571.28L347.51,575.18M347.51,571.28L343.61,575.18" stroke="#e84848" stroke-width="0.5"/>
<rect x="351.46" y="571.84" width="3.90" height="3.90" fill="none" stroke="#e84848" stroke-width="0.75"/><path d="M351.46,571.84L355.36,575.74M355.36,571.84L351.46,575.74" stroke="#e84848" stroke-width="0.5"/>
<rect x="359.31" y="572.90" width="3.90" height="3.90" fill="none" stroke="#e84848" stroke-width="0.75"/><path d="M359.31,572.90L363.21,576.80M363.21,572.90L359.31,576.80" stroke="#e84848" stroke-width="0.5"/>
<rect x="367.16" y="573.96" width="3.90" height="3.90" fill="none" stroke="#e84848" stroke-width="0.75"/><path d="M367.16,573.96L371.06,577.86M371.06,573.96L367.16,577.86" stroke="#e84848" stroke-width="0.5"/>
<rect x="375.02" y="574.77" width="3.90" height="3.90" fill="none" stroke="#e84848" stroke-width="0.75"/><path d="M375.02,574.77L378.92,578.67M378.92,574.77L375.02,578.67" stroke="#e84848" stroke-width="0.5"/>
<rect x="382.87" y="575.57" width="3.90" height="3.90" fill="none" stroke="#e84848" stroke-width="0.75"/><path d="M382.87,575.57L386.77,579.47M386.77,575.57L382.87,579.47" stroke="#e84848" stroke-width="0.5"/>
<rect x="390.72" y="576.34" width="3.90" height="3.90" fill="none" stroke="#e84848" stroke-width="0.75"/><path d="M390.72,576.34L394.62,580.24M394.62,576.34L390.72,580.24" stroke="#e84848" stroke-width="0.5"/>
<rect x="398.57" y="576.98" width="3.90" height="3.90" fill="none" stroke="#e84848" stroke-width="0.75"/><path d="M398.57,576.98L402.47,580.88M402.47,576.98L398.57,580.88" stroke="#e84848" stroke-width="0.5"/>
<rect x="406.42" y="577.62" width="3.90" height="3.90" fill="none" stroke="#e84848" stroke-width="0.75"/><path d="M406.42,577.62L410.32,581.52M410.32,577.62L406.42,581.52" stroke="#e84848" stroke-width="0.5"/>
<rect x="414.27" y="578.07" width="3.90" height="3.90" fill="none" stroke="#e84848" stroke-width="0.75"/><path d="M414.27,578.07L418.17,581.97M418.17,578.07L414.27,581.97" stroke="#e84848" stroke-width="0.5"/>
<rect x="422.13" y="578.46" width="3.90" height="3.90" fill="none" stroke="#e84848" stroke-width="0.75"/><path d="M422.13,578.46L426.03,582.36M426.03,578.46L422.13,582.36" stroke="#e84848" stroke-width="0.5"/>
<rect x="429.98" y="578.86" width="3.90" height="3.90" fill="none" stroke="#e84848" stroke-width="0.75"/><path d="M429.98,578.86L433.88,582.76M433.88,578.86L429.98,582.76" stroke="#e84848" stroke-width="0.5"/>
<rect x="437.83" y="579.26" width="3.90" height="3.90" fill="none" stroke="#e84848" stroke-width="0.75"/><path d="M437.83,579.26L441.73,583.16M441.73,579.26L437.83,583.16" stroke="#e84848" stroke-width="0.5"/>
<rect x="445.68" y="579.66" width="3.90" height="3.90" fill="none" stroke="#e84848" stroke-width="0.75"/><path d="M445.68,579.66L449.58,583.56M449.58,579.66L445.68,583.56" stroke="#e84848" stroke-width="0.5"/>
<rect x="453.53" y="580.06" width="3.90" height="3.90" fill="none" stroke="#e84848" stroke-width="0.75"/><path d="M453.53,580.06L457.43,583.96M457.43,580.06L453.53,583.96" stroke="#e84848" stroke-width="0.5"/>
<rect x="461.38" y="580.78" width="3.90" height="3.90" fill="none" stroke="#e84848" stroke-width="0.75"/><path d="M461.38,580.78L465.28,584.68M465.28,580.78L461.38,584.68" stroke="#e84848" stroke-width="0.5"/>
<rect x="469.24" y="581.61" width="3.90" height="3.90" fill="none" stroke="#e84848" stroke-width="0.75"/><path d="M469.24,581.61L473.14,585.51M473.14,581.61L469.24,585.51" stroke="#e84848" stroke-width="0.5"/>
<rect x="477.09" y="582.43" width="3.90" height="3.90" fill="none" stroke="#e84848" stroke-width="0.75"/><path d="M477.09,582.43L480.99,586.33M480.99,582.43L477.09,586.33" stroke="#e84848" stroke-width="0.5"/>
<rect x="484.94" y="583.26" width="3.90" height="3.90" fill="none" stroke="#e84848" stroke-width="0.75"/><path d="M484.94,583.26L488.84,587.16M488.84,583.26L484.94,587.16" stroke="#e84848" stroke-width="0.5"/>
<rect x="492.79" y="583.92" width="3.90" height="3.90" fill="none" stroke="#e84848" stroke-width="0.75"/><path d="M492.79,583.92L496.69,587.82M496.69,583.92L492.79,587.82" stroke="#e84848" stroke-width="0.5"/>
<rect x="500.64" y="584.59" width="3.90" height="3.90" fill="none" stroke="#e84848" stroke-width="0.75"/><path d="M500.64,584.59L504.54,588.49M504.54,584.59L500.64,588.49" stroke="#e84848" stroke-width="0.5"/>
<rect x="508.49" y="585.25" width="3.90" height="3.90" fill="none" stroke="#e84848" stroke-width="0.75"/><path d="M508.49,585.25L512.39,589.15M512.39,585.25L508.49,589.15" stroke="#e84848" stroke-width="0.5"/>
<rect x="516.35" y="585.91" width="3.90" height="3.90" fill="none" stroke="#e84848" stroke-width="0.75"/><path d="M516.35,585.91L520.25,589.81M520.25,585.91L516.35,589.81" stroke="#e84848" stroke-width="0.5"/>
<rect x="524.20" y="586.58" width="3.90" height="3.90" fill="none" stroke="#e84848" stroke-width="0.75"/><path d="M524.20,586.58L528.10,590.48M528.10,586.58L524.20,590.48" stroke="#e84848" stroke-width="0.5"/>
<rect x="532.05" y="587.24" width="3.90" height="3.90" fill="none" stroke="#e84848" stroke-width="0.75"/><path d="M532.05,587.24L535.95,591.14M535.95,587.24L532.05,591.14" stroke="#e84848" stroke-width="0.5"/>
<line x1="306.3" x2="307.6" y1="640.08" y2="640.08" stroke="#8c8c8c" stroke-width="0.6"/>
<line x1="534" x2="532.7" y1="640.08" y2="640.08" stroke="#8c8c8c" stroke-width="0.6"/>
<line x1="306.3" x2="307.6" y1="636.91" y2="636.91" stroke="#8c8c8c" stroke-width="0.6"/>
<line x1="534" x2="532.7" y1="636.91" y2="636.91" stroke="#8c8c8c" stroke-width="0.6"/>
<line x1="306.3" x2="307.6" y1="634.66" y2="634.66" stroke="#8c8c8c" stroke-width="0.6"/>
<line x1="534" x2="532.7" y1="634.66" y2="634.66" stroke="#8c8c8c" stroke-width="0.6"/>
<line x1="306.3" x2="307.6" y1="632.92" y2="632.92" stroke="#8c8c8c" stroke-width="0.6"/>
<line x1="534" x2="532.7" y1="632.92" y2="632.92" stroke="#8c8c8c" stroke-width="0.6"/>
<line x1="306.3" x2="307.6" y1="631.49" y2="631.49" stroke="#8c8c8c" stroke-width="0.6"/>
<line x1="534" x2="532.7" y1="631.49" y2="631.49" stroke="#8c8c8c" stroke-width="0.6"/>
<line x1="306.3" x2="307.6" y1="630.29" y2="630.29" stroke="#8c8c8c" stroke-width="0.6"/>
<line x1="534" x2="532.7" y1="630.29" y2="630.29" stroke="#8c8c8c" stroke-width="0.6"/>
<line x1="306.3" x2="307.6" y1="629.24" y2="629.24" stroke="#8c8c8c" stroke-width="0.6"/>
<line x1="534" x2="532.7" y1="629.24" y2="629.24" stroke="#8c8c8c" stroke-width="0.6"/>
<line x1="306.3" x2="307.6" y1="628.32" y2="628.32" stroke="#8c8c8c" stroke-width="0.6"/>
<line x1="534" x2="532.7" y1="628.32" y2="628.32" stroke="#8c8c8c" stroke-width="0.6"/>
<line x1="306.3" x2="307.6" y1="622.08" y2="622.08" stroke="#8c8c8c" stroke-width="0.6"/>
<line x1="534" x2="532.7" y1="622.08" y2="622.08" stroke="#8c8c8c" stroke-width="0.6"/>
<line x1="306.3" x2="307.6" y1="618.91" y2="618.91" stroke="#8c8c8c" stroke-width="0.6"/>
<line x1="534" x2="532.7" y1="618.91" y2="618.91" stroke="#8c8c8c" stroke-width="0.6"/>
<line x1="306.3" x2="307.6" y1="616.66" y2="616.66" stroke="#8c8c8c" stroke-width="0.6"/>
<line x1="534" x2="532.7" y1="616.66" y2="616.66" stroke="#8c8c8c" stroke-width="0.6"/>
<line x1="306.3" x2="307.6" y1="614.92" y2="614.92" stroke="#8c8c8c" stroke-width="0.6"/>
<line x1="534" x2="532.7" y1="614.92" y2="614.92" stroke="#8c8c8c" stroke-width="0.6"/>
<line x1="306.3" x2="307.6" y1="613.49" y2="613.49" stroke="#8c8c8c" stroke-width="0.6"/>
<line x1="534" x2="532.7" y1="613.49" y2="613.49" stroke="#8c8c8c" stroke-width="0.6"/>
<line x1="306.3" x2="307.6" y1="612.29" y2="612.29" stroke="#8c8c8c" stroke-width="0.6"/>
<line x1="534" x2="532.7" y1="612.29" y2="612.29" stroke="#8c8c8c" stroke-width="0.6"/>
<line x1="306.3" x2="307.6" y1="611.24" y2="611.24" stroke="#8c8c8c" stroke-width="0.6"/>
<line x1="534" x2="532.7" y1="611.24" y2="611.24" stroke="#8c8c8c" stroke-width="0.6"/>
<line x1="306.3" x2="307.6" y1="610.32" y2="610.32" stroke="#8c8c8c" stroke-width="0.6"/>
<line x1="534" x2="532.7" y1="610.32" y2="610.32" stroke="#8c8c8c" stroke-width="0.6"/>
<line x1="306.3" x2="307.6" y1="627.50" y2="627.50" stroke="#8c8c8c" stroke-width="0.6"/>
<line x1="534" x2="532.7" y1="627.50" y2="627.50" stroke="#8c8c8c" stroke-width="0.6"/>
<line x1="306.3" x2="307.6" y1="604.08" y2="604.08" stroke="#8c8c8c" stroke-width="0.6"/>
<line x1="534" x2="532.7" y1="604.08" y2="604.08" stroke="#8c8c8c" stroke-width="0.6"/>
<line x1="306.3" x2="307.6" y1="600.91" y2="600.91" stroke="#8c8c8c" stroke-width="0.6"/>
<line x1="534" x2="532.7" y1="600.91" y2="600.91" stroke="#8c8c8c" stroke-width="0.6"/>
<line x1="306.3" x2="307.6" y1="598.66" y2="598.66" stroke="#8c8c8c" stroke-width="0.6"/>
<line x1="534" x2="532.7" y1="598.66" y2="598.66" stroke="#8c8c8c" stroke-width="0.6"/>
<line x1="306.3" x2="307.6" y1="596.92" y2="596.92" stroke="#8c8c8c" stroke-width="0.6"/>
<line x1="534" x2="532.7" y1="596.92" y2="596.92" stroke="#8c8c8c" stroke-width="0.6"/>
<line x1="306.3" x2="307.6" y1="595.49" y2="595.49" stroke="#8c8c8c" stroke-width="0.6"/>
<line x1="534" x2="532.7" y1="595.49" y2="595.49" stroke="#8c8c8c" stroke-width="0.6"/>
<line x1="306.3" x2="307.6" y1="594.29" y2="594.29" stroke="#8c8c8c" stroke-width="0.6"/>
<line x1="534" x2="532.7" y1="594.29" y2="594.29" stroke="#8c8c8c" stroke-width="0.6"/>
<line x1="306.3" x2="307.6" y1="593.24" y2="593.24" stroke="#8c8c8c" stroke-width="0.6"/>
<line x1="534" x2="532.7" y1="593.24" y2="593.24" stroke="#8c8c8c" stroke-width="0.6"/>
<line x1="306.3" x2="307.6" y1="592.32" y2="592.32" stroke="#8c8c8c" stroke-width="0.6"/>
<line x1="534" x2="532.7" y1="592.32" y2="592.32" stroke="#8c8c8c" stroke-width="0.6"/>
<line x1="306.3" x2="307.6" y1="586.08" y2="586.08" stroke="#8c8c8c" stroke-width="0.6"/>
<line x1="534" x2="532.7" y1="586.08" y2="586.08" stroke="#8c8c8c" stroke-width="0.6"/>
<line x1="306.3" x2="307.6" y1="582.91" y2="582.91" stroke="#8c8c8c" stroke-width="0.6"/>
<line x1="534" x2="532.7" y1="582.91" y2="582.91" stroke="#8c8c8c" stroke-width="0.6"/>
<line x1="306.3" x2="307.6" y1="580.66" y2="580.66" stroke="#8c8c8c" stroke-width="0.6"/>
<line x1="534" x2="532.7" y1="580.66" y2="580.66" stroke="#8c8c8c" stroke-width="0.6"/>
<line x1="306.3" x2="307.6" y1="578.92" y2="578.92" stroke="#8c8c8c" stroke-width="0.6"/>
<line x1="534" x2="532.7" y1="578.92" y2="578.92" stroke="#8c8c8c" stroke-width="0.6"/>
<line x1="306.3" x2="307.6" y1="577.49" y2="577.49" stroke="#8c8c8c" stroke-width="0.6"/>
<line x1="534" x2="532.7" y1="577.49" y2="577.49" stroke="#8c8c8c" stroke-width="0.6"/>
<line x1="306.3" x2="307.6" y1="576.29" y2="576.29" stroke="#8c8c8c" stroke-width="0.6"/>
<line x1="534" x2="532.7" y1="576.29" y2="576.29" stroke="#8c8c8c" stroke-width="0.6"/>
<line x1="306.3" x2="307.6" y1="575.24" y2="575.24" stroke="#8c8c8c" stroke-width="0.6"/>
<line x1="534" x2="532.7" y1="575.24" y2="575.24" stroke="#8c8c8c" stroke-width="0.6"/>
<line x1="306.3" x2="307.6" y1="574.32" y2="574.32" stroke="#8c8c8c" stroke-width="0.6"/>
<line x1="534" x2="532.7" y1="574.32" y2="574.32" stroke="#8c8c8c" stroke-width="0.6"/>
<line x1="306.3" x2="307.6" y1="591.50" y2="591.50" stroke="#8c8c8c" stroke-width="0.6"/>
<line x1="534" x2="532.7" y1="591.50" y2="591.50" stroke="#8c8c8c" stroke-width="0.6"/>
<line x1="306.3" x2="307.6" y1="568.08" y2="568.08" stroke="#8c8c8c" stroke-width="0.6"/>
<line x1="534" x2="532.7" y1="568.08" y2="568.08" stroke="#8c8c8c" stroke-width="0.6"/>
<line x1="306.3" x2="307.6" y1="564.91" y2="564.91" stroke="#8c8c8c" stroke-width="0.6"/>
<line x1="534" x2="532.7" y1="564.91" y2="564.91" stroke="#8c8c8c" stroke-width="0.6"/>
<line x1="306.3" x2="307.6" y1="562.66" y2="562.66" stroke="#8c8c8c" stroke-width="0.6"/>
<line x1="534" x2="532.7" y1="562.66" y2="562.66" stroke="#8c8c8c" stroke-width="0.6"/>
<line x1="306.3" x2="307.6" y1="560.92" y2="560.92" stroke="#8c8c8c" stroke-width="0.6"/>
<line x1="534" x2="532.7" y1="560.92" y2="560.92" stroke="#8c8c8c" stroke-width="0.6"/>
<line x1="306.3" x2="307.6" y1="559.49" y2="559.49" stroke="#8c8c8c" stroke-width="0.6"/>
<line x1="534" x2="532.7" y1="559.49" y2="559.49" stroke="#8c8c8c" stroke-width="0.6"/>
<line x1="306.3" x2="307.6" y1="558.29" y2="558.29" stroke="#8c8c8c" stroke-width="0.6"/>
<line x1="534" x2="532.7" y1="558.29" y2="558.29" stroke="#8c8c8c" stroke-width="0.6"/>
<line x1="306.3" x2="307.6" y1="557.24" y2="557.24" stroke="#8c8c8c" stroke-width="0.6"/>
<line x1="534" x2="532.7" y1="557.24" y2="557.24" stroke="#8c8c8c" stroke-width="0.6"/>
<line x1="306.3" x2="307.6" y1="556.32" y2="556.32" stroke="#8c8c8c" stroke-width="0.6"/>
<line x1="534" x2="532.7" y1="556.32" y2="556.32" stroke="#8c8c8c" stroke-width="0.6"/>
<line x1="306.3" x2="307.6" y1="550.08" y2="550.08" stroke="#8c8c8c" stroke-width="0.6"/>
<line x1="534" x2="532.7" y1="550.08" y2="550.08" stroke="#8c8c8c" stroke-width="0.6"/>
<line x1="306.3" x2="307.6" y1="546.91" y2="546.91" stroke="#8c8c8c" stroke-width="0.6"/>
<line x1="534" x2="532.7" y1="546.91" y2="546.91" stroke="#8c8c8c" stroke-width="0.6"/>
<line x1="306.3" x2="307.6" y1="544.66" y2="544.66" stroke="#8c8c8c" stroke-width="0.6"/>
<line x1="534" x2="532.7" y1="544.66" y2="544.66" stroke="#8c8c8c" stroke-width="0.6"/>
<line x1="306.3" x2="307.6" y1="542.92" y2="542.92" stroke="#8c8c8c" stroke-width="0.6"/>
<line x1="534" x2="532.7" y1="542.92" y2="542.92" stroke="#8c8c8c" stroke-width="0.6"/>
<line x1="306.3" x2="307.6" y1="541.49" y2="541.49" stroke="#8c8c8c" stroke-width="0.6"/>
<line x1="534" x2="532.7" y1="541.49" y2="541.49" stroke="#8c8c8c" stroke-width="0.6"/>
<line x1="306.3" x2="307.6" y1="540.29" y2="540.29" stroke="#8c8c8c" stroke-width="0.6"/>
<line x1="534" x2="532.7" y1="540.29" y2="540.29" stroke="#8c8c8c" stroke-width="0.6"/>
<line x1="306.3" x2="307.6" y1="539.24" y2="539.24" stroke="#8c8c8c" stroke-width="0.6"/>
<line x1="534" x2="532.7" y1="539.24" y2="539.24" stroke="#8c8c8c" stroke-width="0.6"/>
<line x1="306.3" x2="307.6" y1="538.32" y2="538.32" stroke="#8c8c8c" stroke-width="0.6"/>
<line x1="534" x2="532.7" y1="538.32" y2="538.32" stroke="#8c8c8c" stroke-width="0.6"/>
<line x1="306.3" x2="307.6" y1="555.50" y2="555.50" stroke="#8c8c8c" stroke-width="0.6"/>
<line x1="534" x2="532.7" y1="555.50" y2="555.50" stroke="#8c8c8c" stroke-width="0.6"/>
<line x1="306.3" x2="307.6" y1="532.08" y2="532.08" stroke="#8c8c8c" stroke-width="0.6"/>
<line x1="534" x2="532.7" y1="532.08" y2="532.08" stroke="#8c8c8c" stroke-width="0.6"/>
<line x1="306.3" x2="307.6" y1="528.91" y2="528.91" stroke="#8c8c8c" stroke-width="0.6"/>
<line x1="534" x2="532.7" y1="528.91" y2="528.91" stroke="#8c8c8c" stroke-width="0.6"/>
<line x1="306.3" x2="307.6" y1="526.66" y2="526.66" stroke="#8c8c8c" stroke-width="0.6"/>
<line x1="534" x2="532.7" y1="526.66" y2="526.66" stroke="#8c8c8c" stroke-width="0.6"/>
<line x1="306.3" x2="307.6" y1="524.92" y2="524.92" stroke="#8c8c8c" stroke-width="0.6"/>
<line x1="534" x2="532.7" y1="524.92" y2="524.92" stroke="#8c8c8c" stroke-width="0.6"/>
<line x1="306.3" x2="307.6" y1="523.49" y2="523.49" stroke="#8c8c8c" stroke-width="0.6"/>
<line x1="534" x2="532.7" y1="523.49" y2="523.49" stroke="#8c8c8c" stroke-width="0.6"/>
<line x1="306.3" x2="307.6" y1="522.29" y2="522.29" stroke="#8c8c8c" stroke-width="0.6"/>
<line x1="534" x2="532.7" y1="522.29" y2="522.29" stroke="#8c8c8c" stroke-width="0.6"/>
<line x1="306.3" x2="307.6" y1="521.24" y2="521.24" stroke="#8c8c8c" stroke-width="0.6"/>
<line x1="534" x2="532.7" y1="521.24" y2="521.24" stroke="#8c8c8c" stroke-width="0.6"/>
<line x1="306.3" x2="307.6" y1="520.32" y2="520.32" stroke="#8c8c8c" stroke-width="0.6"/>
<line x1="534" x2="532.7" y1="520.32" y2="520.32" stroke="#8c8c8c" stroke-width="0.6"/>
<line x1="306.3" x2="307.6" y1="514.08" y2="514.08" stroke="#8c8c8c" stroke-width="0.6"/>
<line x1="534" x2="532.7" y1="514.08" y2="514.08" stroke="#8c8c8c" stroke-width="0.6"/>
<line x1="306.3" x2="307.6" y1="510.91" y2="510.91" stroke="#8c8c8c" stroke-width="0.6"/>
<line x1="534" x2="532.7" y1="510.91" y2="510.91" stroke="#8c8c8c" stroke-width="0.6"/>
<line x1="306.3" x2="307.6" y1="508.66" y2="508.66" stroke="#8c8c8c" stroke-width="0.6"/>
<line x1="534" x2="532.7" y1="508.66" y2="508.66" stroke="#8c8c8c" stroke-width="0.6"/>
<line x1="306.3" x2="307.6" y1="506.92" y2="506.92" stroke="#8c8c8c" stroke-width="0.6"/>
<line x1="534" x2="532.7" y1="506.92" y2="506.92" stroke="#8c8c8c" stroke-width="0.6"/>
<line x1="306.3" x2="307.6" y1="505.49" y2="505.49" stroke="#8c8c8c" stroke-width="0.6"/>
<line x1="534" x2="532.7" y1="505.49" y2="505.49" stroke="#8c8c8c" stroke-width="0.6"/>
<line x1="306.3" x2="307.6" y1="504.29" y2="504.29" stroke="#8c8c8c" stroke-width="0.6"/>
<line x1="534" x2="532.7" y1="504.29" y2="504.29" stroke="#8c8c8c" stroke-width="0.6"/>
<line x1="306.3" x2="307.6" y1="503.24" y2="503.24" stroke="#8c8c8c" stroke-width="0.6"/>
<line x1="534" x2="532.7" y1="503.24" y2="503.24" stroke="#8c8c8c" stroke-width="0.6"/>
<line x1="306.3" x2="307.6" y1="502.32" y2="502.32" stroke="#8c8c8c" stroke-width="0.6"/>
<line x1="534" x2="532.7" y1="502.32" y2="502.32" stroke="#8c8c8c" stroke-width="0.6"/>
<line x1="306.3" x2="307.6" y1="519.50" y2="519.50" stroke="#8c8c8c" stroke-width="0.6"/>
<line x1="534" x2="532.7" y1="519.50" y2="519.50" stroke="#8c8c8c" stroke-width="0.6"/>
<line x1="306.3" x2="307.6" y1="496.08" y2="496.08" stroke="#8c8c8c" stroke-width="0.6"/>
<line x1="534" x2="532.7" y1="496.08" y2="496.08" stroke="#8c8c8c" stroke-width="0.6"/>
<line x1="306.3" x2="307.6" y1="492.91" y2="492.91" stroke="#8c8c8c" stroke-width="0.6"/>
<line x1="534" x2="532.7" y1="492.91" y2="492.91" stroke="#8c8c8c" stroke-width="0.6"/>
<line x1="306.3" x2="307.6" y1="490.66" y2="490.66" stroke="#8c8c8c" stroke-width="0.6"/>
<line x1="534" x2="532.7" y1="490.66" y2="490.66" stroke="#8c8c8c" stroke-width="0.6"/>
<line x1="306.3" x2="307.6" y1="488.92" y2="488.92" stroke="#8c8c8c" stroke-width="0.6"/>
<line x1="534" x2="532.7" y1="488.92" y2="488.92" stroke="#8c8c8c" stroke-width="0.6"/>
<line x1="306.3" x2="307.6" y1="487.49" y2="487.49" stroke="#8c8c8c" stroke-width="0.6"/>
<line x1="534" x2="532.7" y1="487.49" y2="487.49" stroke="#8c8c8c" stroke-width="0.6"/>
<line x1="306.3" x2="307.6" y1="486.29" y2="486.29" stroke="#8c8c8c" stroke-width="0.6"/>
<line x1="534" x2="532.7" y1="486.29" y2="486.29" stroke="#8c8c8c" stroke-width="0.6"/>
<line x1="306.3" x2="307.6" y1="485.24" y2="485.24" stroke="#8c8c8c" stroke-width="0.6"/>
<line x1="534" x2="532.7" y1="485.24" y2="485.24" stroke="#8c8c8c" stroke-width="0.6"/>
<line x1="306.3" x2="307.6" y1="484.32" y2="484.32" stroke="#8c8c8c" stroke-width="0.6"/>
<line x1="534" x2="532.7" y1="484.32" y2="484.32" stroke="#8c8c8c" stroke-width="0.6"/>
<line x1="306.3" x2="307.6" y1="478.08" y2="478.08" stroke="#8c8c8c" stroke-width="0.6"/>
<line x1="534" x2="532.7" y1="478.08" y2="478.08" stroke="#8c8c8c" stroke-width="0.6"/>
<line x1="306.3" x2="307.6" y1="474.91" y2="474.91" stroke="#8c8c8c" stroke-width="0.6"/>
<line x1="534" x2="532.7" y1="474.91" y2="474.91" stroke="#8c8c8c" stroke-width="0.6"/>
<line x1="306.3" x2="307.6" y1="472.66" y2="472.66" stroke="#8c8c8c" stroke-width="0.6"/>
<line x1="534" x2="532.7" y1="472.66" y2="472.66" stroke="#8c8c8c" stroke-width="0.6"/>
<line x1="306.3" x2="307.6" y1="470.92" y2="470.92" stroke="#8c8c8c" stroke-width="0.6"/>
<line x1="534" x2="532.7" y1="470.92" y2="470.92" stroke="#8c8c8c" stroke-width="0.6"/>
<line x1="306.3" x2="307.6" y1="469.49" y2="469.49" stroke="#8c8c8c" stroke-width="0.6"/>
<line x1="534" x2="532.7" y1="469.49" y2="469.49" stroke="#8c8c8c" stroke-width="0.6"/>
<line x1="306.3" x2="307.6" y1="468.29" y2="468.29" stroke="#8c8c8c" stroke-width="0.6"/>
<line x1="534" x2="532.7" y1="468.29" y2="468.29" stroke="#8c8c8c" stroke-width="0.6"/>
<line x1="306.3" x2="307.6" y1="467.24" y2="467.24" stroke="#8c8c8c" stroke-width="0.6"/>
<line x1="534" x2="532.7" y1="467.24" y2="467.24" stroke="#8c8c8c" stroke-width="0.6"/>
<line x1="306.3" x2="307.6" y1="466.32" y2="466.32" stroke="#8c8c8c" stroke-width="0.6"/>
<line x1="534" x2="532.7" y1="466.32" y2="466.32" stroke="#8c8c8c" stroke-width="0.6"/>
<line x1="306.3" x2="307.6" y1="483.50" y2="483.50" stroke="#8c8c8c" stroke-width="0.6"/>
<line x1="534" x2="532.7" y1="483.50" y2="483.50" stroke="#8c8c8c" stroke-width="0.6"/>
<line x1="306.3" x2="308.5" y1="465.50" y2="465.50" stroke="#8c8c8c" stroke-width="0.8"/>
<line x1="534" x2="531.8" y1="465.50" y2="465.50" stroke="#8c8c8c" stroke-width="0.8"/>
<text x="303.40" y="469.10" text-anchor="end" font-family="Liberation Sans" font-size="6.9" fill="#4a4a4a">10<tspan dy="-3.2" font-size="5.4">6</tspan></text>
<line x1="306.3" x2="308.5" y1="501.50" y2="501.50" stroke="#8c8c8c" stroke-width="0.8"/>
<line x1="534" x2="531.8" y1="501.50" y2="501.50" stroke="#8c8c8c" stroke-width="0.8"/>
<text x="303.40" y="505.10" text-anchor="end" font-family="Liberation Sans" font-size="6.9" fill="#4a4a4a">10<tspan dy="-3.2" font-size="5.4">4</tspan></text>
<line x1="306.3" x2="308.5" y1="537.50" y2="537.50" stroke="#8c8c8c" stroke-width="0.8"/>
<line x1="534" x2="531.8" y1="537.50" y2="537.50" stroke="#8c8c8c" stroke-width="0.8"/>
<text x="303.40" y="541.10" text-anchor="end" font-family="Liberation Sans" font-size="6.9" fill="#4a4a4a">10<tspan dy="-3.2" font-size="5.4">2</tspan></text>
<line x1="306.3" x2="308.5" y1="573.50" y2="573.50" stroke="#8c8c8c" stroke-width="0.8"/>
<line x1="534" x2="531.8" y1="573.50" y2="573.50" stroke="#8c8c8c" stroke-width="0.8"/>
<text x="303.40" y="577.10" text-anchor="end" font-family="Liberation Sans" font-size="6.9" fill="#4a4a4a">10<tspan dy="-3.2" font-size="5.4">0</tspan></text>
<line x1="306.3" x2="308.5" y1="609.50" y2="609.50" stroke="#8c8c8c" stroke-width="0.8"/>
<line x1="534" x2="531.8" y1="609.50" y2="609.50" stroke="#8c8c8c" stroke-width="0.8"/>
<text x="303.40" y="613.10" text-anchor="end" font-family="Liberation Sans" font-size="6.9" fill="#4a4a4a">10<tspan dy="-3.2" font-size="5.4">-2</tspan></text>
<line x1="306.3" x2="308.5" y1="645.50" y2="645.50" stroke="#8c8c8c" stroke-width="0.8"/>
<line x1="534" x2="531.8" y1="645.50" y2="645.50" stroke="#8c8c8c" stroke-width="0.8"/>
<text x="303.40" y="649.10" text-anchor="end" font-family="Liberation Sans" font-size="6.9" fill="#4a4a4a">10<tspan dy="-3.2" font-size="5.4">-4</tspan></text>
<line x1="306.30" x2="306.30" y1="645.4" y2="643.1999999999999" stroke="#8c8c8c" stroke-width="0.8"/>
<text x="306.30" y="655.80" text-anchor="middle" font-family="Liberation Sans" font-size="7.3" fill="#4a4a4a">0</text>
<line x1="351.84" x2="351.84" y1="645.4" y2="643.1999999999999" stroke="#8c8c8c" stroke-width="0.8"/>
<text x="351.84" y="655.80" text-anchor="middle" font-family="Liberation Sans" font-size="7.3" fill="#4a4a4a">100</text>
<line x1="397.38" x2="397.38" y1="645.4" y2="643.1999999999999" stroke="#8c8c8c" stroke-width="0.8"/>
<text x="397.38" y="655.80" text-anchor="middle" font-family="Liberation Sans" font-size="7.3" fill="#4a4a4a">200</text>
<line x1="442.92" x2="442.92" y1="645.4" y2="643.1999999999999" stroke="#8c8c8c" stroke-width="0.8"/>
<text x="442.92" y="655.80" text-anchor="middle" font-family="Liberation Sans" font-size="7.3" fill="#4a4a4a">300</text>
<line x1="488.46" x2="488.46" y1="645.4" y2="643.1999999999999" stroke="#8c8c8c" stroke-width="0.8"/>
<text x="488.46" y="655.80" text-anchor="middle" font-family="Liberation Sans" font-size="7.3" fill="#4a4a4a">400</text>
<line x1="534.00" x2="534.00" y1="645.4" y2="643.1999999999999" stroke="#8c8c8c" stroke-width="0.8"/>
<text x="534.00" y="655.80" text-anchor="middle" font-family="Liberation Sans" font-size="7.3" fill="#4a4a4a">500</text>
<text transform="translate(416,460) scale(1.45,1)" font-family="Liberation Serif" font-style="italic" font-size="11.5" fill="#1a1a1a" stroke="#1a1a1a" stroke-width="0.08">f</text><text x="421.75" y="462.8" font-family="Liberation Serif" font-size="5.75" fill="#1a1a1a" stroke="#1a1a1a" stroke-width="0.2">6</text>
<text transform="translate(276.1,550.6) rotate(-90)" text-anchor="middle" font-family="Liberation Serif" font-weight="bold" font-size="8.95" fill="#1a1a1a" dy="3">Mean of objective function values</text>
<text x="422.8" y="665.5" text-anchor="middle" font-family="Liberation Serif" font-weight="bold" font-size="8.1" fill="#1a1a1a">Iteration</text>
<text x="542.2" y="663.1" text-anchor="middle" font-family="Liberation Serif" font-weight="bold" font-size="8.6" fill="#1a1a1a">(f)</text>
<rect x="486.3" y="476.2" width="36.900000000000034" height="39.099999999999966" fill="#fff" stroke="#555" stroke-width="0.8"/>
<line x1="488.90" x2="506.80" y1="480.81" y2="480.81" stroke="#22e4dc" stroke-width="0.8"/>
<circle cx="497.85" cy="480.81" r="1.95" fill="#22e4dc" stroke="#22e4dc" stroke-width="0.5"/>
<text x="508.80" y="482.81" font-family="Liberation Sans" font-size="5.7" fill="#222" stroke="#222" stroke-width="0.18">PSO</text>
<line x1="488.90" x2="506.80" y1="488.24" y2="488.24" stroke="#3a3ae6" stroke-width="0.8"/>
<path d="M497.85,485.78L500.19,489.97L495.51,489.97Z" fill="#7878ee" stroke="#3a3ae6" stroke-width="1"/>
<text x="508.80" y="490.24" font-family="Liberation Sans" font-size="5.7" fill="#222" stroke="#222" stroke-width="0.18">GWO</text>
<line x1="488.90" x2="506.80" y1="495.67" y2="495.67" stroke="#22dd22" stroke-width="0.8"/>
<circle cx="497.85" cy="495.67" r="1.61" fill="#22dd22"/>
<text x="508.80" y="497.67" font-family="Liberation Sans" font-size="5.7" fill="#222" stroke="#222" stroke-width="0.18">WOA</text>
<line x1="488.90" x2="506.80" y1="503.10" y2="503.10" stroke="#222222" stroke-width="0.8"/>
<path d="M500.31,503.10L496.12,500.76L496.12,505.44Z" fill="#c4c4c4" stroke="#222222" stroke-width="0.95"/>
<text x="508.80" y="505.10" font-family="Liberation Sans" font-size="5.7" fill="#222" stroke="#222" stroke-width="0.18">SSA</text>
<line x1="488.90" x2="506.80" y1="510.53" y2="510.53" stroke="#e84848" stroke-width="0.8"/>
<rect x="496.19" y="508.87" width="3.31" height="3.31" fill="none" stroke="#e84848" stroke-width="0.75"/><path d="M496.19,508.87L499.51,512.19M499.51,508.87L496.19,512.19" stroke="#e84848" stroke-width="0.5"/>
<text x="508.80" y="512.53" font-family="Liberation Sans" font-size="5.7" fill="#222" stroke="#222" stroke-width="0.18">ISSA</text>
<rect x="323.5" y="480.5" width="79.19999999999999" height="21.100000000000023" fill="#fff" stroke="#555" stroke-width="0.9"/>
<text transform="translate(327.40,495.30) scale(1.3,1)" font-family="Liberation Serif" font-size="10" font-style="italic" font-weight="bold" fill="#2a2a2a" stroke="#2a2a2a" stroke-width="0.22">f</text><text x="331.60" y="497.10" font-family="Liberation Serif" font-size="5.5" font-weight="bold" fill="#2a2a2a" stroke="#2a2a2a" stroke-width="0.22">6</text><text x="336.00" y="495.30" font-family="Liberation Serif" font-size="10" font-weight="bold" fill="#2a2a2a" stroke="#2a2a2a" stroke-width="0.22">(</text><text x="338.60" y="495.30" font-family="Liberation Serif" font-size="10" font-style="italic" font-weight="bold" fill="#2a2a2a" stroke="#2a2a2a" stroke-width="0.22">x</text><text x="345.40" y="495.30" font-family="Liberation Serif" font-size="10" font-weight="bold" fill="#2a2a2a" stroke="#2a2a2a" stroke-width="0.22">)</text><text x="351.00" y="495.30" font-family="Liberation Serif" font-size="6" fill="#888" stroke="#888" stroke-width="0.22">=</text><text x="357.00" y="496.70" font-family="Liberation Serif" font-size="11.5" fill="#2a2a2a" stroke="#2a2a2a" stroke-width="0.22">∑</text><text x="361.30" y="485.70" font-family="Liberation Serif" font-size="4" font-style="italic" text-anchor="middle" fill="#555555" stroke="#555555" stroke-width="0.22">D</text><text x="361.30" y="500.90" font-family="Liberation Serif" font-size="4" text-anchor="middle" fill="#555555" stroke="#555555" stroke-width="0.22">i=1</text><text x="366.60" y="495.30" font-family="Liberation Serif" font-size="7.4" fill="#888" stroke="#888" stroke-width="0.22">(|x</text><text x="376.00" y="497.10" font-family="Liberation Serif" font-size="4.2" font-style="italic" fill="#888" stroke="#888" stroke-width="0.22">i</text><text x="379.60" y="495.30" font-family="Liberation Serif" font-size="7.4" fill="#888" stroke="#888" stroke-width="0.22">+ 0.5|)</text><text x="398.00" y="490.90" font-family="Liberation Serif" font-size="4.2" fill="#888" stroke="#888" stroke-width="0.22">2</text>
<clipPath id="cg"><rect x="169" y="682.6" width="227.7" height="180.19999999999993"/></clipPath>
<rect x="169" y="682.6" width="227.7" height="180.19999999999993" fill="#fff"/>
<line x1="169" x2="396.7" y1="861.88" y2="861.88" stroke="#f2f2f2" stroke-width="0.7"/>
<line x1="169" x2="396.7" y1="860.20" y2="860.20" stroke="#f2f2f2" stroke-width="0.7"/>
<line x1="169" x2="396.7" y1="858.72" y2="858.72" stroke="#f2f2f2" stroke-width="0.7"/>
<line x1="169" x2="396.7" y1="848.70" y2="848.70" stroke="#f2f2f2" stroke-width="0.7"/>
<line x1="169" x2="396.7" y1="843.61" y2="843.61" stroke="#f2f2f2" stroke-width="0.7"/>
<line x1="169" x2="396.7" y1="840.00" y2="840.00" stroke="#f2f2f2" stroke-width="0.7"/>
<line x1="169" x2="396.7" y1="837.20" y2="837.20" stroke="#f2f2f2" stroke-width="0.7"/>
<line x1="169" x2="396.7" y1="834.91" y2="834.91" stroke="#f2f2f2" stroke-width="0.7"/>
<line x1="169" x2="396.7" y1="832.98" y2="832.98" stroke="#f2f2f2" stroke-width="0.7"/>
<line x1="169" x2="396.7" y1="831.30" y2="831.30" stroke="#f2f2f2" stroke-width="0.7"/>
<line x1="169" x2="396.7" y1="829.82" y2="829.82" stroke="#f2f2f2" stroke-width="0.7"/>
<line x1="169" x2="396.7" y1="819.80" y2="819.80" stroke="#f2f2f2" stroke-width="0.7"/>
<line x1="169" x2="396.7" y1="814.71" y2="814.71" stroke="#f2f2f2" stroke-width="0.7"/>
<line x1="169" x2="396.7" y1="811.10" y2="811.10" stroke="#f2f2f2" stroke-width="0.7"/>
<line x1="169" x2="396.7" y1="808.30" y2="808.30" stroke="#f2f2f2" stroke-width="0.7"/>
<line x1="169" x2="396.7" y1="806.01" y2="806.01" stroke="#f2f2f2" stroke-width="0.7"/>
<line x1="169" x2="396.7" y1="804.08" y2="804.08" stroke="#f2f2f2" stroke-width="0.7"/>
<line x1="169" x2="396.7" y1="802.40" y2="802.40" stroke="#f2f2f2" stroke-width="0.7"/>
<line x1="169" x2="396.7" y1="800.92" y2="800.92" stroke="#f2f2f2" stroke-width="0.7"/>
<line x1="169" x2="396.7" y1="828.50" y2="828.50" stroke="#f2f2f2" stroke-width="0.7"/>
<line x1="169" x2="396.7" y1="790.90" y2="790.90" stroke="#f2f2f2" stroke-width="0.7"/>
<line x1="169" x2="396.7" y1="785.81" y2="785.81" stroke="#f2f2f2" stroke-width="0.7"/>
<line x1="169" x2="396.7" y1="782.20" y2="782.20" stroke="#f2f2f2" stroke-width="0.7"/>
<line x1="169" x2="396.7" y1="779.40" y2="779.40" stroke="#f2f2f2" stroke-width="0.7"/>
<line x1="169" x2="396.7" y1="777.11" y2="777.11" stroke="#f2f2f2" stroke-width="0.7"/>
<line x1="169" x2="396.7" y1="775.18" y2="775.18" stroke="#f2f2f2" stroke-width="0.7"/>
<line x1="169" x2="396.7" y1="773.50" y2="773.50" stroke="#f2f2f2" stroke-width="0.7"/>
<line x1="169" x2="396.7" y1="772.02" y2="772.02" stroke="#f2f2f2" stroke-width="0.7"/>
<line x1="169" x2="396.7" y1="762.00" y2="762.00" stroke="#f2f2f2" stroke-width="0.7"/>
<line x1="169" x2="396.7" y1="756.91" y2="756.91" stroke="#f2f2f2" stroke-width="0.7"/>
<line x1="169" x2="396.7" y1="753.30" y2="753.30" stroke="#f2f2f2" stroke-width="0.7"/>
<line x1="169" x2="396.7" y1="750.50" y2="750.50" stroke="#f2f2f2" stroke-width="0.7"/>
<line x1="169" x2="396.7" y1="748.21" y2="748.21" stroke="#f2f2f2" stroke-width="0.7"/>
<line x1="169" x2="396.7" y1="746.28" y2="746.28" stroke="#f2f2f2" stroke-width="0.7"/>
<line x1="169" x2="396.7" y1="744.60" y2="744.60" stroke="#f2f2f2" stroke-width="0.7"/>
<line x1="169" x2="396.7" y1="743.12" y2="743.12" stroke="#f2f2f2" stroke-width="0.7"/>
<line x1="169" x2="396.7" y1="770.70" y2="770.70" stroke="#f2f2f2" stroke-width="0.7"/>
<line x1="169" x2="396.7" y1="733.10" y2="733.10" stroke="#f2f2f2" stroke-width="0.7"/>
<line x1="169" x2="396.7" y1="728.01" y2="728.01" stroke="#f2f2f2" stroke-width="0.7"/>
<line x1="169" x2="396.7" y1="724.40" y2="724.40" stroke="#f2f2f2" stroke-width="0.7"/>
<line x1="169" x2="396.7" y1="721.60" y2="721.60" stroke="#f2f2f2" stroke-width="0.7"/>
<line x1="169" x2="396.7" y1="719.31" y2="719.31" stroke="#f2f2f2" stroke-width="0.7"/>
<line x1="169" x2="396.7" y1="717.38" y2="717.38" stroke="#f2f2f2" stroke-width="0.7"/>
<line x1="169" x2="396.7" y1="715.70" y2="715.70" stroke="#f2f2f2" stroke-width="0.7"/>
<line x1="169" x2="396.7" y1="714.22" y2="714.22" stroke="#f2f2f2" stroke-width="0.7"/>
<line x1="169" x2="396.7" y1="704.20" y2="704.20" stroke="#f2f2f2" stroke-width="0.7"/>
<line x1="169" x2="396.7" y1="699.11" y2="699.11" stroke="#f2f2f2" stroke-width="0.7"/>
<line x1="169" x2="396.7" y1="695.50" y2="695.50" stroke="#f2f2f2" stroke-width="0.7"/>
<line x1="169" x2="396.7" y1="692.70" y2="692.70" stroke="#f2f2f2" stroke-width="0.7"/>
<line x1="169" x2="396.7" y1="690.41" y2="690.41" stroke="#f2f2f2" stroke-width="0.7"/>
<line x1="169" x2="396.7" y1="688.48" y2="688.48" stroke="#f2f2f2" stroke-width="0.7"/>
<line x1="169" x2="396.7" y1="686.80" y2="686.80" stroke="#f2f2f2" stroke-width="0.7"/>
<line x1="169" x2="396.7" y1="685.32" y2="685.32" stroke="#f2f2f2" stroke-width="0.7"/>
<line x1="169" x2="396.7" y1="712.90" y2="712.90" stroke="#f2f2f2" stroke-width="0.7"/>
<line x1="169" x2="396.7" y1="684.00" y2="684.00" stroke="#e6e6e6" stroke-width="0.8"/>
<line x1="169" x2="396.7" y1="741.80" y2="741.80" stroke="#e6e6e6" stroke-width="0.8"/>
<line x1="169" x2="396.7" y1="799.60" y2="799.60" stroke="#e6e6e6" stroke-width="0.8"/>
<line x1="169" x2="396.7" y1="857.40" y2="857.40" stroke="#e6e6e6" stroke-width="0.8"/>
<line x1="214.54" x2="214.54" y1="682.6" y2="862.8" stroke="#e6e6e6" stroke-width="0.8"/>
<line x1="260.08" x2="260.08" y1="682.6" y2="862.8" stroke="#e6e6e6" stroke-width="0.8"/>
<line x1="305.62" x2="305.62" y1="682.6" y2="862.8" stroke="#e6e6e6" stroke-width="0.8"/>
<line x1="351.16" x2="351.16" y1="682.6" y2="862.8" stroke="#e6e6e6" stroke-width="0.8"/>
<rect x="169" y="682.6" width="227.7" height="180.19999999999993" fill="none" stroke="#8c8c8c" stroke-width="1.0"/>
<path d="M168.70,683.30 L176.40,720.40 L184.40,726.90 L192.70,735.60 L200.40,737.80 L208.00,741.10 L215.60,744.40 L223.30,746.50 L232.00,748.70 L239.60,750.90 L247.30,752.00 L256.00,753.70 L263.60,755.00 L270.00,756.00 L293.60,758.80 L317.30,760.70 L340.90,761.90 L364.60,762.60 L397.70,763.10" fill="none" stroke="#22e4dc" stroke-width="1.0" stroke-linejoin="round" clip-path="url(#cg)"/>
<circle cx="169.00" cy="684.75" r="2.30" fill="#22e4dc" stroke="#22e4dc" stroke-width="0.5"/>
<circle cx="176.85" cy="720.77" r="2.30" fill="#22e4dc" stroke="#22e4dc" stroke-width="0.5"/>
<circle cx="184.70" cy="727.22" r="2.30" fill="#22e4dc" stroke="#22e4dc" stroke-width="0.5"/>
<circle cx="192.56" cy="735.45" r="2.30" fill="#22e4dc" stroke="#22e4dc" stroke-width="0.5"/>
<circle cx="200.41" cy="737.80" r="2.30" fill="#22e4dc" stroke="#22e4dc" stroke-width="0.5"/>
<circle cx="208.26" cy="741.21" r="2.30" fill="#22e4dc" stroke="#22e4dc" stroke-width="0.5"/>
<circle cx="216.11" cy="744.54" r="2.30" fill="#22e4dc" stroke="#22e4dc" stroke-width="0.5"/>
<circle cx="223.96" cy="746.67" r="2.30" fill="#22e4dc" stroke="#22e4dc" stroke-width="0.5"/>
<circle cx="231.81" cy="748.65" r="2.30" fill="#22e4dc" stroke="#22e4dc" stroke-width="0.5"/>
<circle cx="239.67" cy="750.91" r="2.30" fill="#22e4dc" stroke="#22e4dc" stroke-width="0.5"/>
<circle cx="247.52" cy="752.04" r="2.30" fill="#22e4dc" stroke="#22e4dc" stroke-width="0.5"/>
<circle cx="255.37" cy="753.58" r="2.30" fill="#22e4dc" stroke="#22e4dc" stroke-width="0.5"/>
<circle cx="263.22" cy="754.94" r="2.30" fill="#22e4dc" stroke="#22e4dc" stroke-width="0.5"/>
<circle cx="271.07" cy="756.13" r="2.30" fill="#22e4dc" stroke="#22e4dc" stroke-width="0.5"/>
<circle cx="278.92" cy="757.06" r="2.30" fill="#22e4dc" stroke="#22e4dc" stroke-width="0.5"/>
<circle cx="286.78" cy="757.99" r="2.30" fill="#22e4dc" stroke="#22e4dc" stroke-width="0.5"/>
<circle cx="294.63" cy="758.88" r="2.30" fill="#22e4dc" stroke="#22e4dc" stroke-width="0.5"/>
<circle cx="302.48" cy="759.51" r="2.30" fill="#22e4dc" stroke="#22e4dc" stroke-width="0.5"/>
<circle cx="310.33" cy="760.14" r="2.30" fill="#22e4dc" stroke="#22e4dc" stroke-width="0.5"/>
<circle cx="318.18" cy="760.74" r="2.30" fill="#22e4dc" stroke="#22e4dc" stroke-width="0.5"/>
<circle cx="326.03" cy="761.14" r="2.30" fill="#22e4dc" stroke="#22e4dc" stroke-width="0.5"/>
<circle cx="333.89" cy="761.54" r="2.30" fill="#22e4dc" stroke="#22e4dc" stroke-width="0.5"/>
<circle cx="341.74" cy="761.92" r="2.30" fill="#22e4dc" stroke="#22e4dc" stroke-width="0.5"/>
<circle cx="349.59" cy="762.16" r="2.30" fill="#22e4dc" stroke="#22e4dc" stroke-width="0.5"/>
<circle cx="357.44" cy="762.39" r="2.30" fill="#22e4dc" stroke="#22e4dc" stroke-width="0.5"/>
<circle cx="365.29" cy="762.61" r="2.30" fill="#22e4dc" stroke="#22e4dc" stroke-width="0.5"/>
<circle cx="373.14" cy="762.73" r="2.30" fill="#22e4dc" stroke="#22e4dc" stroke-width="0.5"/>
<circle cx="381.00" cy="762.85" r="2.30" fill="#22e4dc" stroke="#22e4dc" stroke-width="0.5"/>
<circle cx="388.85" cy="762.97" r="2.30" fill="#22e4dc" stroke="#22e4dc" stroke-width="0.5"/>
<circle cx="396.70" cy="763.08" r="2.30" fill="#22e4dc" stroke="#22e4dc" stroke-width="0.5"/>
<path d="M168.70,685.50 L176.40,745.50 L184.40,772.70 L192.70,784.70 L200.40,789.10 L208.00,796.70 L215.60,798.90 L223.30,800.40 L232.00,803.30 L239.60,804.80 L247.30,806.10 L256.00,808.30 L263.60,810.50 L270.00,811.00 L293.60,813.20 L317.30,815.60 L340.90,817.00 L397.70,817.90" fill="none" stroke="#3a3ae6" stroke-width="1.0" stroke-linejoin="round" clip-path="url(#cg)"/>
<path d="M169.00,684.94L171.75,689.87L166.25,689.87Z" fill="#7878ee" stroke="#3a3ae6" stroke-width="1"/>
<path d="M176.85,744.14L179.61,749.07L174.10,749.07Z" fill="#7878ee" stroke="#3a3ae6" stroke-width="1"/>
<path d="M184.70,770.24L187.46,775.17L181.95,775.17Z" fill="#7878ee" stroke="#3a3ae6" stroke-width="1"/>
<path d="M192.56,781.59L195.31,786.52L189.80,786.52Z" fill="#7878ee" stroke="#3a3ae6" stroke-width="1"/>
<path d="M200.41,786.21L203.16,791.14L197.65,791.14Z" fill="#7878ee" stroke="#3a3ae6" stroke-width="1"/>
<path d="M208.26,793.87L211.01,798.80L205.50,798.80Z" fill="#7878ee" stroke="#3a3ae6" stroke-width="1"/>
<path d="M216.11,796.10L218.87,801.03L213.36,801.03Z" fill="#7878ee" stroke="#3a3ae6" stroke-width="1"/>
<path d="M223.96,797.72L226.72,802.65L221.21,802.65Z" fill="#7878ee" stroke="#3a3ae6" stroke-width="1"/>
<path d="M231.81,800.34L234.57,805.27L229.06,805.27Z" fill="#7878ee" stroke="#3a3ae6" stroke-width="1"/>
<path d="M239.67,801.91L242.42,806.84L236.91,806.84Z" fill="#7878ee" stroke="#3a3ae6" stroke-width="1"/>
<path d="M247.52,803.25L250.27,808.18L244.76,808.18Z" fill="#7878ee" stroke="#3a3ae6" stroke-width="1"/>
<path d="M255.37,805.24L258.12,810.17L252.61,810.17Z" fill="#7878ee" stroke="#3a3ae6" stroke-width="1"/>
<path d="M263.22,807.49L265.98,812.42L260.47,812.42Z" fill="#7878ee" stroke="#3a3ae6" stroke-width="1"/>
<path d="M271.07,808.20L273.83,813.13L268.32,813.13Z" fill="#7878ee" stroke="#3a3ae6" stroke-width="1"/>
<path d="M278.92,808.93L281.68,813.86L276.17,813.86Z" fill="#7878ee" stroke="#3a3ae6" stroke-width="1"/>
<path d="M286.78,809.66L289.53,814.59L284.02,814.59Z" fill="#7878ee" stroke="#3a3ae6" stroke-width="1"/>
<path d="M294.63,810.40L297.38,815.33L291.87,815.33Z" fill="#7878ee" stroke="#3a3ae6" stroke-width="1"/>
<path d="M302.48,811.20L305.23,816.13L299.72,816.13Z" fill="#7878ee" stroke="#3a3ae6" stroke-width="1"/>
<path d="M310.33,811.99L313.09,816.92L307.58,816.92Z" fill="#7878ee" stroke="#3a3ae6" stroke-width="1"/>
<path d="M318.18,812.75L320.94,817.68L315.43,817.68Z" fill="#7878ee" stroke="#3a3ae6" stroke-width="1"/>
<path d="M326.03,813.22L328.79,818.15L323.28,818.15Z" fill="#7878ee" stroke="#3a3ae6" stroke-width="1"/>
<path d="M333.89,813.68L336.64,818.61L331.13,818.61Z" fill="#7878ee" stroke="#3a3ae6" stroke-width="1"/>
<path d="M341.74,814.11L344.49,819.04L338.98,819.04Z" fill="#7878ee" stroke="#3a3ae6" stroke-width="1"/>
<path d="M349.59,814.24L352.34,819.17L346.83,819.17Z" fill="#7878ee" stroke="#3a3ae6" stroke-width="1"/>
<path d="M357.44,814.36L360.20,819.29L354.69,819.29Z" fill="#7878ee" stroke="#3a3ae6" stroke-width="1"/>
<path d="M365.29,814.49L368.05,819.42L362.54,819.42Z" fill="#7878ee" stroke="#3a3ae6" stroke-width="1"/>
<path d="M373.14,814.61L375.90,819.54L370.39,819.54Z" fill="#7878ee" stroke="#3a3ae6" stroke-width="1"/>
<path d="M381.00,814.74L383.75,819.67L378.24,819.67Z" fill="#7878ee" stroke="#3a3ae6" stroke-width="1"/>
<path d="M388.85,814.86L391.60,819.79L386.09,819.79Z" fill="#7878ee" stroke="#3a3ae6" stroke-width="1"/>
<path d="M396.70,814.98L399.45,819.91L393.94,819.91Z" fill="#7878ee" stroke="#3a3ae6" stroke-width="1"/>
<path d="M168.70,683.30 L176.40,746.50 L184.40,761.80 L192.70,771.60 L200.40,776.00 L208.00,781.50 L215.60,784.70 L223.30,787.40 L232.00,790.20 L239.60,792.40 L247.30,794.60 L256.00,797.80 L263.60,799.50 L270.00,802.10 L286.50,805.70 L303.10,810.40 L317.30,812.70 L333.80,813.90 L397.70,815.10" fill="none" stroke="#22dd22" stroke-width="1.0" stroke-linejoin="round" clip-path="url(#cg)"/>
<circle cx="169.00" cy="685.76" r="1.90" fill="#22dd22"/>
<circle cx="176.85" cy="747.36" r="1.90" fill="#22dd22"/>
<circle cx="184.70" cy="762.16" r="1.90" fill="#22dd22"/>
<circle cx="192.56" cy="771.43" r="1.90" fill="#22dd22"/>
<circle cx="200.41" cy="776.00" r="1.90" fill="#22dd22"/>
<circle cx="208.26" cy="781.61" r="1.90" fill="#22dd22"/>
<circle cx="216.11" cy="784.88" r="1.90" fill="#22dd22"/>
<circle cx="223.96" cy="787.61" r="1.90" fill="#22dd22"/>
<circle cx="231.81" cy="790.14" r="1.90" fill="#22dd22"/>
<circle cx="239.67" cy="792.42" r="1.90" fill="#22dd22"/>
<circle cx="247.52" cy="794.68" r="1.90" fill="#22dd22"/>
<circle cx="255.37" cy="797.57" r="1.90" fill="#22dd22"/>
<circle cx="263.22" cy="799.42" r="1.90" fill="#22dd22"/>
<circle cx="271.07" cy="802.33" r="1.90" fill="#22dd22"/>
<circle cx="278.92" cy="804.05" r="1.90" fill="#22dd22"/>
<circle cx="286.78" cy="805.78" r="1.90" fill="#22dd22"/>
<circle cx="294.63" cy="808.00" r="1.90" fill="#22dd22"/>
<circle cx="302.48" cy="810.22" r="1.90" fill="#22dd22"/>
<circle cx="310.33" cy="811.57" r="1.90" fill="#22dd22"/>
<circle cx="318.18" cy="812.76" r="1.90" fill="#22dd22"/>
<circle cx="326.03" cy="813.34" r="1.90" fill="#22dd22"/>
<circle cx="333.89" cy="813.90" r="1.90" fill="#22dd22"/>
<circle cx="341.74" cy="814.05" r="1.90" fill="#22dd22"/>
<circle cx="349.59" cy="814.20" r="1.90" fill="#22dd22"/>
<circle cx="357.44" cy="814.34" r="1.90" fill="#22dd22"/>
<circle cx="365.29" cy="814.49" r="1.90" fill="#22dd22"/>
<circle cx="373.14" cy="814.64" r="1.90" fill="#22dd22"/>
<circle cx="381.00" cy="814.79" r="1.90" fill="#22dd22"/>
<circle cx="388.85" cy="814.93" r="1.90" fill="#22dd22"/>
<circle cx="396.70" cy="815.08" r="1.90" fill="#22dd22"/>
<path d="M168.70,686.50 L176.40,786.90 L184.40,802.20 L192.70,805.50 L200.40,809.80 L208.00,813.10 L215.60,817.50 L232.00,817.90 L247.30,818.60 L263.60,819.50 L270.00,819.80 L293.60,823.90 L317.30,826.50 L340.90,828.10 L364.60,829.30 L381.10,830.50 L397.70,832.10" fill="none" stroke="#222222" stroke-width="1.0" stroke-linejoin="round" clip-path="url(#cg)"/>
<path d="M171.90,690.41L166.97,687.66L166.97,693.17Z" fill="#c4c4c4" stroke="#222222" stroke-width="0.95"/>
<path d="M179.75,787.76L174.82,785.01L174.82,790.52Z" fill="#c4c4c4" stroke="#222222" stroke-width="0.95"/>
<path d="M187.60,802.32L182.67,799.57L182.67,805.08Z" fill="#c4c4c4" stroke="#222222" stroke-width="0.95"/>
<path d="M195.46,805.44L190.53,802.69L190.53,808.20Z" fill="#c4c4c4" stroke="#222222" stroke-width="0.95"/>
<path d="M203.31,809.80L198.38,807.05L198.38,812.56Z" fill="#c4c4c4" stroke="#222222" stroke-width="0.95"/>
<path d="M211.16,813.25L206.23,810.49L206.23,816.00Z" fill="#c4c4c4" stroke="#222222" stroke-width="0.95"/>
<path d="M219.01,817.51L214.08,814.76L214.08,820.27Z" fill="#c4c4c4" stroke="#222222" stroke-width="0.95"/>
<path d="M226.86,817.70L221.93,814.95L221.93,820.46Z" fill="#c4c4c4" stroke="#222222" stroke-width="0.95"/>
<path d="M234.71,817.90L229.78,815.14L229.78,820.65Z" fill="#c4c4c4" stroke="#222222" stroke-width="0.95"/>
<path d="M242.57,818.25L237.64,815.50L237.64,821.01Z" fill="#c4c4c4" stroke="#222222" stroke-width="0.95"/>
<path d="M250.42,818.61L245.49,815.86L245.49,821.37Z" fill="#c4c4c4" stroke="#222222" stroke-width="0.95"/>
<path d="M258.27,819.05L253.34,816.29L253.34,821.80Z" fill="#c4c4c4" stroke="#222222" stroke-width="0.95"/>
<path d="M266.12,819.48L261.19,816.72L261.19,822.23Z" fill="#c4c4c4" stroke="#222222" stroke-width="0.95"/>
<path d="M273.97,819.99L269.04,817.23L269.04,822.74Z" fill="#c4c4c4" stroke="#222222" stroke-width="0.95"/>
<path d="M281.82,821.35L276.89,818.60L276.89,824.11Z" fill="#c4c4c4" stroke="#222222" stroke-width="0.95"/>
<path d="M289.68,822.71L284.75,819.96L284.75,825.47Z" fill="#c4c4c4" stroke="#222222" stroke-width="0.95"/>
<path d="M297.53,824.01L292.60,821.26L292.60,826.77Z" fill="#c4c4c4" stroke="#222222" stroke-width="0.95"/>
<path d="M305.38,824.87L300.45,822.12L300.45,827.63Z" fill="#c4c4c4" stroke="#222222" stroke-width="0.95"/>
<path d="M313.23,825.74L308.30,822.98L308.30,828.49Z" fill="#c4c4c4" stroke="#222222" stroke-width="0.95"/>
<path d="M321.08,826.56L316.15,823.80L316.15,829.31Z" fill="#c4c4c4" stroke="#222222" stroke-width="0.95"/>
<path d="M328.93,827.09L324.00,824.34L324.00,829.85Z" fill="#c4c4c4" stroke="#222222" stroke-width="0.95"/>
<path d="M336.79,827.62L331.86,824.87L331.86,830.38Z" fill="#c4c4c4" stroke="#222222" stroke-width="0.95"/>
<path d="M344.64,828.14L339.71,825.39L339.71,830.90Z" fill="#c4c4c4" stroke="#222222" stroke-width="0.95"/>
<path d="M352.49,828.54L347.56,825.78L347.56,831.29Z" fill="#c4c4c4" stroke="#222222" stroke-width="0.95"/>
<path d="M360.34,828.94L355.41,826.18L355.41,831.69Z" fill="#c4c4c4" stroke="#222222" stroke-width="0.95"/>
<path d="M368.19,829.35L363.26,826.60L363.26,832.11Z" fill="#c4c4c4" stroke="#222222" stroke-width="0.95"/>
<path d="M376.04,829.92L371.11,827.17L371.11,832.68Z" fill="#c4c4c4" stroke="#222222" stroke-width="0.95"/>
<path d="M383.90,830.49L378.97,827.74L378.97,833.25Z" fill="#c4c4c4" stroke="#222222" stroke-width="0.95"/>
<path d="M391.75,831.25L386.82,828.49L386.82,834.00Z" fill="#c4c4c4" stroke="#222222" stroke-width="0.95"/>
<path d="M399.60,832.00L394.67,829.25L394.67,834.76Z" fill="#c4c4c4" stroke="#222222" stroke-width="0.95"/>
<path d="M168.70,731.30 L176.40,817.50 L184.40,825.10 L192.70,832.70 L200.40,836.00 L208.00,841.50 L215.60,842.10 L223.30,843.20 L232.00,845.40 L247.30,846.90 L263.60,847.30 L270.00,847.00 L293.60,850.60 L317.30,852.90 L333.80,855.30 L340.90,859.60 L364.60,861.20 L397.70,862.40" fill="none" stroke="#e84848" stroke-width="1.0" stroke-linejoin="round" clip-path="url(#cg)"/>
<rect x="167.05" y="732.71" width="3.90" height="3.90" fill="none" stroke="#e84848" stroke-width="0.75"/><path d="M167.05,732.71L170.95,736.61M170.95,732.71L167.05,736.61" stroke="#e84848" stroke-width="0.5"/>
<rect x="174.90" y="815.98" width="3.90" height="3.90" fill="none" stroke="#e84848" stroke-width="0.75"/><path d="M174.90,815.98L178.80,819.88M178.80,815.98L174.90,819.88" stroke="#e84848" stroke-width="0.5"/>
<rect x="182.75" y="823.43" width="3.90" height="3.90" fill="none" stroke="#e84848" stroke-width="0.75"/><path d="M182.75,823.43L186.65,827.33M186.65,823.43L182.75,827.33" stroke="#e84848" stroke-width="0.5"/>
<rect x="190.61" y="830.62" width="3.90" height="3.90" fill="none" stroke="#e84848" stroke-width="0.75"/><path d="M190.61,830.62L194.51,834.52M194.51,830.62L190.61,834.52" stroke="#e84848" stroke-width="0.5"/>
<rect x="198.46" y="834.05" width="3.90" height="3.90" fill="none" stroke="#e84848" stroke-width="0.75"/><path d="M198.46,834.05L202.36,837.95M202.36,834.05L198.46,837.95" stroke="#e84848" stroke-width="0.5"/>
<rect x="206.31" y="839.57" width="3.90" height="3.90" fill="none" stroke="#e84848" stroke-width="0.75"/><path d="M206.31,839.57L210.21,843.47M210.21,839.57L206.31,843.47" stroke="#e84848" stroke-width="0.5"/>
<rect x="214.16" y="840.22" width="3.90" height="3.90" fill="none" stroke="#e84848" stroke-width="0.75"/><path d="M214.16,840.22L218.06,844.12M218.06,840.22L214.16,844.12" stroke="#e84848" stroke-width="0.5"/>
<rect x="222.01" y="841.42" width="3.90" height="3.90" fill="none" stroke="#e84848" stroke-width="0.75"/><path d="M222.01,841.42L225.91,845.32M225.91,841.42L222.01,845.32" stroke="#e84848" stroke-width="0.5"/>
<rect x="229.86" y="843.40" width="3.90" height="3.90" fill="none" stroke="#e84848" stroke-width="0.75"/><path d="M229.86,843.40L233.76,847.30M233.76,843.40L229.86,847.30" stroke="#e84848" stroke-width="0.5"/>
<rect x="237.72" y="844.20" width="3.90" height="3.90" fill="none" stroke="#e84848" stroke-width="0.75"/><path d="M237.72,844.20L241.62,848.10M241.62,844.20L237.72,848.10" stroke="#e84848" stroke-width="0.5"/>
<rect x="245.57" y="844.96" width="3.90" height="3.90" fill="none" stroke="#e84848" stroke-width="0.75"/><path d="M245.57,844.96L249.47,848.86M249.47,844.96L245.57,848.86" stroke="#e84848" stroke-width="0.5"/>
<rect x="253.42" y="845.15" width="3.90" height="3.90" fill="none" stroke="#e84848" stroke-width="0.75"/><path d="M253.42,845.15L257.32,849.05M257.32,845.15L253.42,849.05" stroke="#e84848" stroke-width="0.5"/>
<rect x="261.27" y="845.34" width="3.90" height="3.90" fill="none" stroke="#e84848" stroke-width="0.75"/><path d="M261.27,845.34L265.17,849.24M265.17,845.34L261.27,849.24" stroke="#e84848" stroke-width="0.5"/>
<rect x="269.12" y="845.21" width="3.90" height="3.90" fill="none" stroke="#e84848" stroke-width="0.75"/><path d="M269.12,845.21L273.02,849.11M273.02,845.21L269.12,849.11" stroke="#e84848" stroke-width="0.5"/>
<rect x="276.97" y="846.41" width="3.90" height="3.90" fill="none" stroke="#e84848" stroke-width="0.75"/><path d="M276.97,846.41L280.87,850.31M280.87,846.41L276.97,850.31" stroke="#e84848" stroke-width="0.5"/>
<rect x="284.83" y="847.61" width="3.90" height="3.90" fill="none" stroke="#e84848" stroke-width="0.75"/><path d="M284.83,847.61L288.73,851.51M288.73,847.61L284.83,851.51" stroke="#e84848" stroke-width="0.5"/>
<rect x="292.68" y="848.75" width="3.90" height="3.90" fill="none" stroke="#e84848" stroke-width="0.75"/><path d="M292.68,848.75L296.58,852.65M296.58,848.75L292.68,852.65" stroke="#e84848" stroke-width="0.5"/>
<rect x="300.53" y="849.51" width="3.90" height="3.90" fill="none" stroke="#e84848" stroke-width="0.75"/><path d="M300.53,849.51L304.43,853.41M304.43,849.51L300.53,853.41" stroke="#e84848" stroke-width="0.5"/>
<rect x="308.38" y="850.27" width="3.90" height="3.90" fill="none" stroke="#e84848" stroke-width="0.75"/><path d="M308.38,850.27L312.28,854.17M312.28,850.27L308.38,854.17" stroke="#e84848" stroke-width="0.5"/>
<rect x="316.23" y="851.08" width="3.90" height="3.90" fill="none" stroke="#e84848" stroke-width="0.75"/><path d="M316.23,851.08L320.13,854.98M320.13,851.08L316.23,854.98" stroke="#e84848" stroke-width="0.5"/>
<rect x="324.08" y="852.22" width="3.90" height="3.90" fill="none" stroke="#e84848" stroke-width="0.75"/><path d="M324.08,852.22L327.98,856.12M327.98,852.22L324.08,856.12" stroke="#e84848" stroke-width="0.5"/>
<rect x="331.94" y="853.40" width="3.90" height="3.90" fill="none" stroke="#e84848" stroke-width="0.75"/><path d="M331.94,853.40L335.84,857.30M335.84,853.40L331.94,857.30" stroke="#e84848" stroke-width="0.5"/>
<rect x="339.79" y="857.71" width="3.90" height="3.90" fill="none" stroke="#e84848" stroke-width="0.75"/><path d="M339.79,857.71L343.69,861.61M343.69,857.71L339.79,861.61" stroke="#e84848" stroke-width="0.5"/>
<rect x="347.64" y="858.24" width="3.90" height="3.90" fill="none" stroke="#e84848" stroke-width="0.75"/><path d="M347.64,858.24L351.54,862.14M351.54,858.24L347.64,862.14" stroke="#e84848" stroke-width="0.5"/>
<rect x="355.49" y="858.77" width="3.90" height="3.90" fill="none" stroke="#e84848" stroke-width="0.75"/><path d="M355.49,858.77L359.39,862.67M359.39,858.77L355.49,862.67" stroke="#e84848" stroke-width="0.5"/>
<rect x="363.34" y="859.28" width="3.90" height="3.90" fill="none" stroke="#e84848" stroke-width="0.75"/><path d="M363.34,859.28L367.24,863.18M367.24,859.28L363.34,863.18" stroke="#e84848" stroke-width="0.5"/>
<rect x="371.19" y="859.56" width="3.90" height="3.90" fill="none" stroke="#e84848" stroke-width="0.75"/><path d="M371.19,859.56L375.09,863.46M375.09,859.56L371.19,863.46" stroke="#e84848" stroke-width="0.5"/>
<rect x="379.05" y="859.84" width="3.90" height="3.90" fill="none" stroke="#e84848" stroke-width="0.75"/><path d="M379.05,859.84L382.95,863.74M382.95,859.84L379.05,863.74" stroke="#e84848" stroke-width="0.5"/>
<rect x="386.90" y="860.13" width="3.90" height="3.90" fill="none" stroke="#e84848" stroke-width="0.75"/><path d="M386.90,860.13L390.80,864.03M390.80,860.13L386.90,864.03" stroke="#e84848" stroke-width="0.5"/>
<rect x="394.75" y="860.41" width="3.90" height="3.90" fill="none" stroke="#e84848" stroke-width="0.75"/><path d="M394.75,860.41L398.65,864.31M398.65,860.41L394.75,864.31" stroke="#e84848" stroke-width="0.5"/>
<line x1="169" x2="170.3" y1="861.88" y2="861.88" stroke="#8c8c8c" stroke-width="0.6"/>
<line x1="396.7" x2="395.4" y1="861.88" y2="861.88" stroke="#8c8c8c" stroke-width="0.6"/>
<line x1="169" x2="170.3" y1="860.20" y2="860.20" stroke="#8c8c8c" stroke-width="0.6"/>
<line x1="396.7" x2="395.4" y1="860.20" y2="860.20" stroke="#8c8c8c" stroke-width="0.6"/>
<line x1="169" x2="170.3" y1="858.72" y2="858.72" stroke="#8c8c8c" stroke-width="0.6"/>
<line x1="396.7" x2="395.4" y1="858.72" y2="858.72" stroke="#8c8c8c" stroke-width="0.6"/>
<line x1="169" x2="170.3" y1="848.70" y2="848.70" stroke="#8c8c8c" stroke-width="0.6"/>
<line x1="396.7" x2="395.4" y1="848.70" y2="848.70" stroke="#8c8c8c" stroke-width="0.6"/>
<line x1="169" x2="170.3" y1="843.61" y2="843.61" stroke="#8c8c8c" stroke-width="0.6"/>
<line x1="396.7" x2="395.4" y1="843.61" y2="843.61" stroke="#8c8c8c" stroke-width="0.6"/>
<line x1="169" x2="170.3" y1="840.00" y2="840.00" stroke="#8c8c8c" stroke-width="0.6"/>
<line x1="396.7" x2="395.4" y1="840.00" y2="840.00" stroke="#8c8c8c" stroke-width="0.6"/>
<line x1="169" x2="170.3" y1="837.20" y2="837.20" stroke="#8c8c8c" stroke-width="0.6"/>
<line x1="396.7" x2="395.4" y1="837.20" y2="837.20" stroke="#8c8c8c" stroke-width="0.6"/>
<line x1="169" x2="170.3" y1="834.91" y2="834.91" stroke="#8c8c8c" stroke-width="0.6"/>
<line x1="396.7" x2="395.4" y1="834.91" y2="834.91" stroke="#8c8c8c" stroke-width="0.6"/>
<line x1="169" x2="170.3" y1="832.98" y2="832.98" stroke="#8c8c8c" stroke-width="0.6"/>
<line x1="396.7" x2="395.4" y1="832.98" y2="832.98" stroke="#8c8c8c" stroke-width="0.6"/>
<line x1="169" x2="170.3" y1="831.30" y2="831.30" stroke="#8c8c8c" stroke-width="0.6"/>
<line x1="396.7" x2="395.4" y1="831.30" y2="831.30" stroke="#8c8c8c" stroke-width="0.6"/>
<line x1="169" x2="170.3" y1="829.82" y2="829.82" stroke="#8c8c8c" stroke-width="0.6"/>
<line x1="396.7" x2="395.4" y1="829.82" y2="829.82" stroke="#8c8c8c" stroke-width="0.6"/>
<line x1="169" x2="170.3" y1="819.80" y2="819.80" stroke="#8c8c8c" stroke-width="0.6"/>
<line x1="396.7" x2="395.4" y1="819.80" y2="819.80" stroke="#8c8c8c" stroke-width="0.6"/>
<line x1="169" x2="170.3" y1="814.71" y2="814.71" stroke="#8c8c8c" stroke-width="0.6"/>
<line x1="396.7" x2="395.4" y1="814.71" y2="814.71" stroke="#8c8c8c" stroke-width="0.6"/>
<line x1="169" x2="170.3" y1="811.10" y2="811.10" stroke="#8c8c8c" stroke-width="0.6"/>
<line x1="396.7" x2="395.4" y1="811.10" y2="811.10" stroke="#8c8c8c" stroke-width="0.6"/>
<line x1="169" x2="170.3" y1="808.30" y2="808.30" stroke="#8c8c8c" stroke-width="0.6"/>
<line x1="396.7" x2="395.4" y1="808.30" y2="808.30" stroke="#8c8c8c" stroke-width="0.6"/>
<line x1="169" x2="170.3" y1="806.01" y2="806.01" stroke="#8c8c8c" stroke-width="0.6"/>
<line x1="396.7" x2="395.4" y1="806.01" y2="806.01" stroke="#8c8c8c" stroke-width="0.6"/>
<line x1="169" x2="170.3" y1="804.08" y2="804.08" stroke="#8c8c8c" stroke-width="0.6"/>
<line x1="396.7" x2="395.4" y1="804.08" y2="804.08" stroke="#8c8c8c" stroke-width="0.6"/>
<line x1="169" x2="170.3" y1="802.40" y2="802.40" stroke="#8c8c8c" stroke-width="0.6"/>
<line x1="396.7" x2="395.4" y1="802.40" y2="802.40" stroke="#8c8c8c" stroke-width="0.6"/>
<line x1="169" x2="170.3" y1="800.92" y2="800.92" stroke="#8c8c8c" stroke-width="0.6"/>
<line x1="396.7" x2="395.4" y1="800.92" y2="800.92" stroke="#8c8c8c" stroke-width="0.6"/>
<line x1="169" x2="170.3" y1="828.50" y2="828.50" stroke="#8c8c8c" stroke-width="0.6"/>
<line x1="396.7" x2="395.4" y1="828.50" y2="828.50" stroke="#8c8c8c" stroke-width="0.6"/>
<line x1="169" x2="170.3" y1="790.90" y2="790.90" stroke="#8c8c8c" stroke-width="0.6"/>
<line x1="396.7" x2="395.4" y1="790.90" y2="790.90" stroke="#8c8c8c" stroke-width="0.6"/>
<line x1="169" x2="170.3" y1="785.81" y2="785.81" stroke="#8c8c8c" stroke-width="0.6"/>
<line x1="396.7" x2="395.4" y1="785.81" y2="785.81" stroke="#8c8c8c" stroke-width="0.6"/>
<line x1="169" x2="170.3" y1="782.20" y2="782.20" stroke="#8c8c8c" stroke-width="0.6"/>
<line x1="396.7" x2="395.4" y1="782.20" y2="782.20" stroke="#8c8c8c" stroke-width="0.6"/>
<line x1="169" x2="170.3" y1="779.40" y2="779.40" stroke="#8c8c8c" stroke-width="0.6"/>
<line x1="396.7" x2="395.4" y1="779.40" y2="779.40" stroke="#8c8c8c" stroke-width="0.6"/>
<line x1="169" x2="170.3" y1="777.11" y2="777.11" stroke="#8c8c8c" stroke-width="0.6"/>
<line x1="396.7" x2="395.4" y1="777.11" y2="777.11" stroke="#8c8c8c" stroke-width="0.6"/>
<line x1="169" x2="170.3" y1="775.18" y2="775.18" stroke="#8c8c8c" stroke-width="0.6"/>
<line x1="396.7" x2="395.4" y1="775.18" y2="775.18" stroke="#8c8c8c" stroke-width="0.6"/>
<line x1="169" x2="170.3" y1="773.50" y2="773.50" stroke="#8c8c8c" stroke-width="0.6"/>
<line x1="396.7" x2="395.4" y1="773.50" y2="773.50" stroke="#8c8c8c" stroke-width="0.6"/>
<line x1="169" x2="170.3" y1="772.02" y2="772.02" stroke="#8c8c8c" stroke-width="0.6"/>
<line x1="396.7" x2="395.4" y1="772.02" y2="772.02" stroke="#8c8c8c" stroke-width="0.6"/>
<line x1="169" x2="170.3" y1="762.00" y2="762.00" stroke="#8c8c8c" stroke-width="0.6"/>
<line x1="396.7" x2="395.4" y1="762.00" y2="762.00" stroke="#8c8c8c" stroke-width="0.6"/>
<line x1="169" x2="170.3" y1="756.91" y2="756.91" stroke="#8c8c8c" stroke-width="0.6"/>
<line x1="396.7" x2="395.4" y1="756.91" y2="756.91" stroke="#8c8c8c" stroke-width="0.6"/>
<line x1="169" x2="170.3" y1="753.30" y2="753.30" stroke="#8c8c8c" stroke-width="0.6"/>
<line x1="396.7" x2="395.4" y1="753.30" y2="753.30" stroke="#8c8c8c" stroke-width="0.6"/>
<line x1="169" x2="170.3" y1="750.50" y2="750.50" stroke="#8c8c8c" stroke-width="0.6"/>
<line x1="396.7" x2="395.4" y1="750.50" y2="750.50" stroke="#8c8c8c" stroke-width="0.6"/>
<line x1="169" x2="170.3" y1="748.21" y2="748.21" stroke="#8c8c8c" stroke-width="0.6"/>
<line x1="396.7" x2="395.4" y1="748.21" y2="748.21" stroke="#8c8c8c" stroke-width="0.6"/>
<line x1="169" x2="170.3" y1="746.28" y2="746.28" stroke="#8c8c8c" stroke-width="0.6"/>
<line x1="396.7" x2="395.4" y1="746.28" y2="746.28" stroke="#8c8c8c" stroke-width="0.6"/>
<line x1="169" x2="170.3" y1="744.60" y2="744.60" stroke="#8c8c8c" stroke-width="0.6"/>
<line x1="396.7" x2="395.4" y1="744.60" y2="744.60" stroke="#8c8c8c" stroke-width="0.6"/>
<line x1="169" x2="170.3" y1="743.12" y2="743.12" stroke="#8c8c8c" stroke-width="0.6"/>
<line x1="396.7" x2="395.4" y1="743.12" y2="743.12" stroke="#8c8c8c" stroke-width="0.6"/>
<line x1="169" x2="170.3" y1="770.70" y2="770.70" stroke="#8c8c8c" stroke-width="0.6"/>
<line x1="396.7" x2="395.4" y1="770.70" y2="770.70" stroke="#8c8c8c" stroke-width="0.6"/>
<line x1="169" x2="170.3" y1="733.10" y2="733.10" stroke="#8c8c8c" stroke-width="0.6"/>
<line x1="396.7" x2="395.4" y1="733.10" y2="733.10" stroke="#8c8c8c" stroke-width="0.6"/>
<line x1="169" x2="170.3" y1="728.01" y2="728.01" stroke="#8c8c8c" stroke-width="0.6"/>
<line x1="396.7" x2="395.4" y1="728.01" y2="728.01" stroke="#8c8c8c" stroke-width="0.6"/>
<line x1="169" x2="170.3" y1="724.40" y2="724.40" stroke="#8c8c8c" stroke-width="0.6"/>
<line x1="396.7" x2="395.4" y1="724.40" y2="724.40" stroke="#8c8c8c" stroke-width="0.6"/>
<line x1="169" x2="170.3" y1="721.60" y2="721.60" stroke="#8c8c8c" stroke-width="0.6"/>
<line x1="396.7" x2="395.4" y1="721.60" y2="721.60" stroke="#8c8c8c" stroke-width="0.6"/>
<line x1="169" x2="170.3" y1="719.31" y2="719.31" stroke="#8c8c8c" stroke-width="0.6"/>
<line x1="396.7" x2="395.4" y1="719.31" y2="719.31" stroke="#8c8c8c" stroke-width="0.6"/>
<line x1="169" x2="170.3" y1="717.38" y2="717.38" stroke="#8c8c8c" stroke-width="0.6"/>
<line x1="396.7" x2="395.4" y1="717.38" y2="717.38" stroke="#8c8c8c" stroke-width="0.6"/>
<line x1="169" x2="170.3" y1="715.70" y2="715.70" stroke="#8c8c8c" stroke-width="0.6"/>
<line x1="396.7" x2="395.4" y1="715.70" y2="715.70" stroke="#8c8c8c" stroke-width="0.6"/>
<line x1="169" x2="170.3" y1="714.22" y2="714.22" stroke="#8c8c8c" stroke-width="0.6"/>
<line x1="396.7" x2="395.4" y1="714.22" y2="714.22" stroke="#8c8c8c" stroke-width="0.6"/>
<line x1="169" x2="170.3" y1="704.20" y2="704.20" stroke="#8c8c8c" stroke-width="0.6"/>
<line x1="396.7" x2="395.4" y1="704.20" y2="704.20" stroke="#8c8c8c" stroke-width="0.6"/>
<line x1="169" x2="170.3" y1="699.11" y2="699.11" stroke="#8c8c8c" stroke-width="0.6"/>
<line x1="396.7" x2="395.4" y1="699.11" y2="699.11" stroke="#8c8c8c" stroke-width="0.6"/>
<line x1="169" x2="170.3" y1="695.50" y2="695.50" stroke="#8c8c8c" stroke-width="0.6"/>
<line x1="396.7" x2="395.4" y1="695.50" y2="695.50" stroke="#8c8c8c" stroke-width="0.6"/>
<line x1="169" x2="170.3" y1="692.70" y2="692.70" stroke="#8c8c8c" stroke-width="0.6"/>
<line x1="396.7" x2="395.4" y1="692.70" y2="692.70" stroke="#8c8c8c" stroke-width="0.6"/>
<line x1="169" x2="170.3" y1="690.41" y2="690.41" stroke="#8c8c8c" stroke-width="0.6"/>
<line x1="396.7" x2="395.4" y1="690.41" y2="690.41" stroke="#8c8c8c" stroke-width="0.6"/>
<line x1="169" x2="170.3" y1="688.48" y2="688.48" stroke="#8c8c8c" stroke-width="0.6"/>
<line x1="396.7" x2="395.4" y1="688.48" y2="688.48" stroke="#8c8c8c" stroke-width="0.6"/>
<line x1="169" x2="170.3" y1="686.80" y2="686.80" stroke="#8c8c8c" stroke-width="0.6"/>
<line x1="396.7" x2="395.4" y1="686.80" y2="686.80" stroke="#8c8c8c" stroke-width="0.6"/>
<line x1="169" x2="170.3" y1="685.32" y2="685.32" stroke="#8c8c8c" stroke-width="0.6"/>
<line x1="396.7" x2="395.4" y1="685.32" y2="685.32" stroke="#8c8c8c" stroke-width="0.6"/>
<line x1="169" x2="170.3" y1="712.90" y2="712.90" stroke="#8c8c8c" stroke-width="0.6"/>
<line x1="396.7" x2="395.4" y1="712.90" y2="712.90" stroke="#8c8c8c" stroke-width="0.6"/>
<line x1="169" x2="171.2" y1="684.00" y2="684.00" stroke="#8c8c8c" stroke-width="0.8"/>
<line x1="396.7" x2="394.5" y1="684.00" y2="684.00" stroke="#8c8c8c" stroke-width="0.8"/>
<text x="166.10" y="687.60" text-anchor="end" font-family="Liberation Sans" font-size="6.9" fill="#4a4a4a">10<tspan dy="-3.2" font-size="5.4">2</tspan></text>
<line x1="169" x2="171.2" y1="741.80" y2="741.80" stroke="#8c8c8c" stroke-width="0.8"/>
<line x1="396.7" x2="394.5" y1="741.80" y2="741.80" stroke="#8c8c8c" stroke-width="0.8"/>
<text x="166.10" y="745.40" text-anchor="end" font-family="Liberation Sans" font-size="6.9" fill="#4a4a4a">10<tspan dy="-3.2" font-size="5.4">0</tspan></text>
<line x1="169" x2="171.2" y1="799.60" y2="799.60" stroke="#8c8c8c" stroke-width="0.8"/>
<line x1="396.7" x2="394.5" y1="799.60" y2="799.60" stroke="#8c8c8c" stroke-width="0.8"/>
<text x="166.10" y="803.20" text-anchor="end" font-family="Liberation Sans" font-size="6.9" fill="#4a4a4a">10<tspan dy="-3.2" font-size="5.4">-2</tspan></text>
<line x1="169" x2="171.2" y1="857.40" y2="857.40" stroke="#8c8c8c" stroke-width="0.8"/>
<line x1="396.7" x2="394.5" y1="857.40" y2="857.40" stroke="#8c8c8c" stroke-width="0.8"/>
<text x="166.10" y="861.00" text-anchor="end" font-family="Liberation Sans" font-size="6.9" fill="#4a4a4a">10<tspan dy="-3.2" font-size="5.4">-4</tspan></text>
<line x1="169.00" x2="169.00" y1="862.8" y2="860.5999999999999" stroke="#8c8c8c" stroke-width="0.8"/>
<text x="169.00" y="873.20" text-anchor="middle" font-family="Liberation Sans" font-size="7.3" fill="#4a4a4a">0</text>
<line x1="214.54" x2="214.54" y1="862.8" y2="860.5999999999999" stroke="#8c8c8c" stroke-width="0.8"/>
<text x="214.54" y="873.20" text-anchor="middle" font-family="Liberation Sans" font-size="7.3" fill="#4a4a4a">100</text>
<line x1="260.08" x2="260.08" y1="862.8" y2="860.5999999999999" stroke="#8c8c8c" stroke-width="0.8"/>
<text x="260.08" y="873.20" text-anchor="middle" font-family="Liberation Sans" font-size="7.3" fill="#4a4a4a">200</text>
<line x1="305.62" x2="305.62" y1="862.8" y2="860.5999999999999" stroke="#8c8c8c" stroke-width="0.8"/>
<text x="305.62" y="873.20" text-anchor="middle" font-family="Liberation Sans" font-size="7.3" fill="#4a4a4a">300</text>
<line x1="351.16" x2="351.16" y1="862.8" y2="860.5999999999999" stroke="#8c8c8c" stroke-width="0.8"/>
<text x="351.16" y="873.20" text-anchor="middle" font-family="Liberation Sans" font-size="7.3" fill="#4a4a4a">400</text>
<line x1="396.70" x2="396.70" y1="862.8" y2="860.5999999999999" stroke="#8c8c8c" stroke-width="0.8"/>
<text x="396.70" y="873.20" text-anchor="middle" font-family="Liberation Sans" font-size="7.3" fill="#4a4a4a">500</text>
<text transform="translate(281.4,678) scale(1.45,1)" font-family="Liberation Serif" font-style="italic" font-size="11" fill="#1a1a1a" stroke="#1a1a1a" stroke-width="0.08">f</text><text x="286.90" y="680.8" font-family="Liberation Serif" font-size="5.50" fill="#1a1a1a" stroke="#1a1a1a" stroke-width="0.2">7</text>
<text transform="translate(143,774.3) rotate(-90)" text-anchor="middle" font-family="Liberation Serif" font-weight="bold" font-size="8.95" fill="#1a1a1a" dy="3">Mean of objective function values</text>
<text x="281.4" y="885.0" text-anchor="middle" font-family="Liberation Serif" font-weight="bold" font-size="8.1" fill="#1a1a1a">Iteration</text>
<text x="414.4" y="885.8" text-anchor="middle" font-family="Liberation Serif" font-weight="bold" font-size="8.6" fill="#1a1a1a">(g)</text>
<rect x="350.6" y="691.7" width="37.0" height="39.299999999999955" fill="#fff" stroke="#555" stroke-width="0.8"/>
<line x1="353.20" x2="371.10" y1="696.34" y2="696.34" stroke="#22e4dc" stroke-width="0.8"/>
<circle cx="362.15" cy="696.34" r="1.95" fill="#22e4dc" stroke="#22e4dc" stroke-width="0.5"/>
<text x="373.10" y="698.34" font-family="Liberation Sans" font-size="5.7" fill="#222" stroke="#222" stroke-width="0.18">PSO</text>
<line x1="353.20" x2="371.10" y1="703.80" y2="703.80" stroke="#3a3ae6" stroke-width="0.8"/>
<path d="M362.15,701.34L364.49,705.53L359.81,705.53Z" fill="#7878ee" stroke="#3a3ae6" stroke-width="1"/>
<text x="373.10" y="705.80" font-family="Liberation Sans" font-size="5.7" fill="#222" stroke="#222" stroke-width="0.18">GWO</text>
<line x1="353.20" x2="371.10" y1="711.27" y2="711.27" stroke="#22dd22" stroke-width="0.8"/>
<circle cx="362.15" cy="711.27" r="1.61" fill="#22dd22"/>
<text x="373.10" y="713.27" font-family="Liberation Sans" font-size="5.7" fill="#222" stroke="#222" stroke-width="0.18">WOA</text>
<line x1="353.20" x2="371.10" y1="718.74" y2="718.74" stroke="#222222" stroke-width="0.8"/>
<path d="M364.62,718.74L360.42,716.40L360.42,721.08Z" fill="#c4c4c4" stroke="#222222" stroke-width="0.95"/>
<text x="373.10" y="720.74" font-family="Liberation Sans" font-size="5.7" fill="#222" stroke="#222" stroke-width="0.18">SSA</text>
<line x1="353.20" x2="371.10" y1="726.21" y2="726.21" stroke="#e84848" stroke-width="0.8"/>
<rect x="360.49" y="724.55" width="3.31" height="3.31" fill="none" stroke="#e84848" stroke-width="0.75"/><path d="M360.49,724.55L363.81,727.86M363.81,724.55L360.49,727.86" stroke="#e84848" stroke-width="0.5"/>
<text x="373.10" y="728.21" font-family="Liberation Sans" font-size="5.7" fill="#222" stroke="#222" stroke-width="0.18">ISSA</text>
<rect x="207.4" y="696.4" width="120.49999999999997" height="35.10000000000002" fill="#fff" stroke="#555" stroke-width="0.9"/>
<text transform="translate(211.00,718.20) scale(1.3,1)" font-family="Liberation Serif" font-size="10.5" font-style="italic" fill="#2a2a2a" stroke="#2a2a2a" stroke-width="0.22">f</text><text x="214.90" y="720.20" font-family="Liberation Serif" font-size="6" fill="#2a2a2a" stroke="#2a2a2a" stroke-width="0.22">7</text><text x="220.80" y="718.20" font-family="Liberation Serif" font-size="10.5" fill="#2a2a2a" stroke="#2a2a2a" stroke-width="0.22">(</text><text x="223.60" y="718.20" font-family="Liberation Serif" font-size="10.5" font-style="italic" fill="#2a2a2a" stroke="#2a2a2a" stroke-width="0.22">x</text><text x="229.80" y="718.20" font-family="Liberation Serif" font-size="10.5" fill="#2a2a2a" stroke="#2a2a2a" stroke-width="0.22">)</text><text x="233.20" y="718.20" font-family="Liberation Serif" font-size="10.5" fill="#2a2a2a" stroke="#2a2a2a" stroke-width="0.22">=</text><text x="242.60" y="718.70" font-family="Liberation Serif" font-size="14" fill="#2a2a2a" stroke="#2a2a2a" stroke-width="0.22">∑</text><text x="247.80" y="707.40" font-family="Liberation Serif" font-size="5.6" font-style="italic" text-anchor="middle" fill="#2a2a2a" stroke="#2a2a2a" stroke-width="0.1">D</text><text x="247.80" y="726.00" font-family="Liberation Serif" font-size="5" text-anchor="middle" fill="#2a2a2a" stroke="#2a2a2a" stroke-width="0.1">i=1</text><text x="253.00" y="718.20" font-family="Liberation Serif" font-size="10.5" font-style="italic" fill="#2a2a2a" stroke="#2a2a2a" stroke-width="0.22">ix</text><text x="260.00" y="711.80" font-family="Liberation Serif" font-size="5.5" fill="#2a2a2a" stroke="#2a2a2a" stroke-width="0.22">4</text><text x="259.60" y="721.00" font-family="Liberation Serif" font-size="5.5" font-style="italic" fill="#2a2a2a" stroke="#2a2a2a" stroke-width="0.22">i</text><text x="267.40" y="718.20" font-family="Liberation Serif" font-size="10" fill="#2a2a2a" stroke="#2a2a2a" stroke-width="0.22">+</text><text x="274.40" y="718.20" font-family="Liberation Serif" font-size="10" font-style="italic" fill="#2a2a2a" stroke="#2a2a2a" stroke-width="0.22">random</text><text x="305.00" y="718.20" font-family="Liberation Serif" font-size="10" fill="#2a2a2a" stroke="#2a2a2a" stroke-width="0.22">[0,1]</text>
</svg></body></html>
